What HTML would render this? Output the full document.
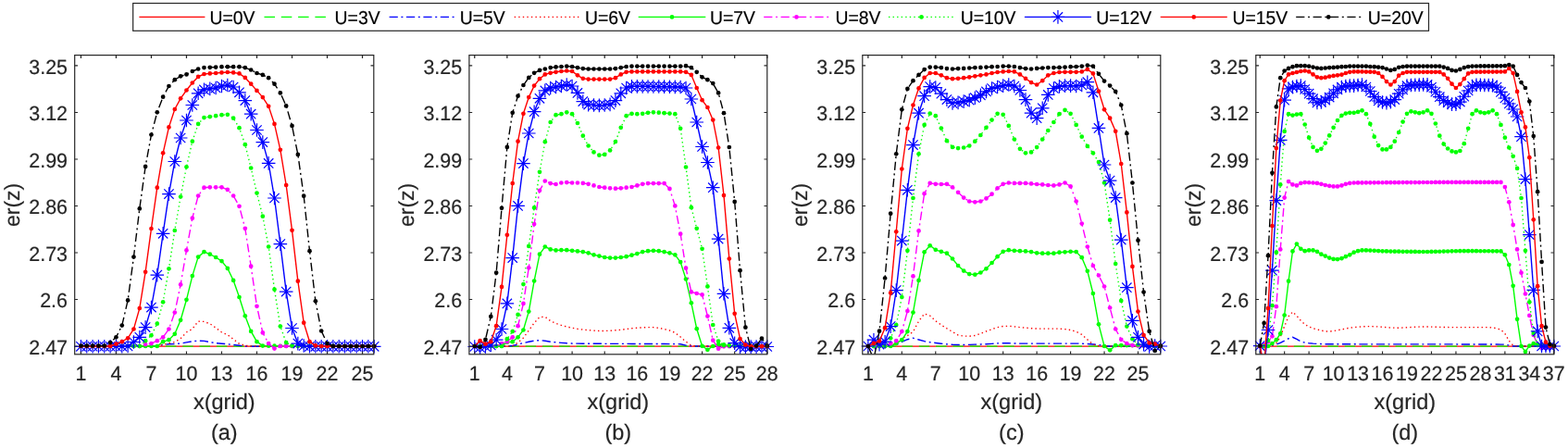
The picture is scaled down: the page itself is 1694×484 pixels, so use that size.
<!DOCTYPE html>
<html><head><meta charset="utf-8"><title>er(z) profiles</title>
<style>
html,body{margin:0;padding:0;background:#fff;}
body{width:1694px;height:484px;overflow:hidden;}
text{font-family:"Liberation Sans",Arial,sans-serif;text-rendering:geometricPrecision;}
.tl{font-size:22px;fill:#262626;stroke:#262626;stroke-width:0.2px;}
.lb{font-size:23.5px;fill:#262626;stroke:#262626;stroke-width:0.2px;}
.lg{font-size:20.1px;fill:#000;stroke:#000;stroke-width:0.2px;}
</style></head><body>
<svg width="1694" height="484" viewBox="0 0 1694 484" style="display:block">
<rect width="1694" height="484" fill="#fff"/>
<defs>
<clipPath id="clipa"><rect x="80.7" y="59.6" width="323.1" height="323.2"/></clipPath>
<clipPath id="clipb"><rect x="506.9" y="59.6" width="321.9" height="323.2"/></clipPath>
<clipPath id="clipc"><rect x="931.8" y="59.6" width="322" height="323.2"/></clipPath>
<clipPath id="clipd"><rect x="1356.8" y="59.6" width="322" height="323.2"/></clipPath>
</defs>
<g><path d="M87.44 374.1 L93.77 374.1 L100.11 374.1 L106.44 374.1 L112.78 374.1 L119.11 374.1 L125.45 374.1 L131.78 374.1 L138.12 374.1 L144.45 374.1 L150.79 374.1 L157.12 374.1 L163.46 374.1 L169.79 374.1 L176.13 374.1 L182.46 374.1 L188.8 374.1 L195.14 374.1 L201.47 374.1 L207.81 374.1 L214.14 374.1 L220.48 374.1 L226.81 374.1 L233.15 374.1 L239.48 374.1 L245.82 374.1 L252.15 374.1 L258.49 374.1 L264.82 374.1 L271.16 374.1 L277.49 374.1 L283.83 374.1 L290.16 374.1 L296.5 374.1 L302.84 374.1 L309.17 374.1 L315.51 374.1 L321.84 374.1 L328.18 374.1 L334.51 374.1 L340.85 374.1 L347.18 374.1 L353.52 374.1 L359.85 374.1 L366.19 374.1 L372.52 374.1 L378.86 374.1 L385.19 374.1 L391.53 374.1 L397.86 374.1 L404.2 374.1" fill="none" stroke="#ff0000" stroke-width="1.4" clip-path="url(#clipa)"/></g>
<g><path d="M87.44 374.1 L93.77 374.1 L100.11 374.1 L106.44 374.1 L112.78 374.1 L119.11 374.1 L125.45 374.1 L131.78 374.1 L138.12 374.1 L144.45 374.1 L150.79 374.1 L157.12 374.1 L163.46 374.1 L169.79 374.1 L176.13 374.1 L182.46 374.1 L188.8 374.1 L195.14 374.1 L201.47 374.1 L207.81 374.1 L214.14 374.1 L220.48 374.1 L226.81 374.1 L233.15 374.1 L239.48 374.1 L245.82 374.1 L252.15 374.1 L258.49 374.1 L264.82 374.1 L271.16 374.1 L277.49 374.1 L283.83 374.1 L290.16 374.1 L296.5 374.1 L302.84 374.1 L309.17 374.1 L315.51 374.1 L321.84 374.1 L328.18 374.1 L334.51 374.1 L340.85 374.1 L347.18 374.1 L353.52 374.1 L359.85 374.1 L366.19 374.1 L372.52 374.1 L378.86 374.1 L385.19 374.1 L391.53 374.1 L397.86 374.1 L404.2 374.1" fill="none" stroke="#00ff00" stroke-width="1.4" stroke-dasharray="11.5 6.8" clip-path="url(#clipa)"/></g>
<g><path d="M87.44 374 L93.77 374 L100.11 373.99 L106.44 373.99 L112.78 373.97 L119.11 373.95 L125.45 373.93 L131.78 373.89 L138.12 373.85 L144.45 373.8 L150.79 373.74 L157.12 373.67 L163.46 373.59 L169.79 373.5 L176.13 372.37 L182.46 371.79 L188.8 371.57 L195.14 371.05 L201.47 369.92 L207.81 368.77 L214.14 368.19 L220.48 368.4 L226.81 369.62 L233.15 370.7 L239.48 371.23 L245.82 371.81 L252.15 372.48 L258.49 373.2 L264.82 374 L271.16 374.27 L277.49 374.27 L283.83 374.2 L290.16 374.18 L296.5 374.16 L302.84 374.14 L309.17 374.12 L315.51 374.1 L321.84 374.09 L328.18 374.08 L334.51 374.06 L340.85 374.05 L347.18 374.04 L353.52 374.03 L359.85 374.02 L366.19 374.02 L372.52 374.01 L378.86 374.01 L385.19 374 L391.53 374 L397.86 374 L404.2 374" fill="none" stroke="#0000ff" stroke-width="1.4" stroke-dasharray="9.2 3.6 2 3.6" clip-path="url(#clipa)"/></g>
<g><path d="M87.44 374 L93.77 374 L100.11 374 L106.44 374 L112.78 373.99 L119.11 373.99 L125.45 373.98 L131.78 373.97 L138.12 373.95 L144.45 373.93 L150.79 373.91 L157.12 373.88 L163.46 373.85 L169.79 373.81 L176.13 372.39 L182.46 370.72 L188.8 369.6 L195.14 365.7 L201.47 359 L207.81 355.4 L214.14 347.1 L220.48 347.4 L226.81 349.8 L233.15 354.1 L239.48 359 L245.82 361.7 L252.15 366.5 L258.49 371.4 L264.82 373.2 L271.16 374 L277.49 374 L283.83 374 L290.16 374 L296.5 374 L302.84 374 L309.17 374 L315.51 374 L321.84 374 L328.18 374 L334.51 374 L340.85 374 L347.18 374 L353.52 374 L359.85 374 L366.19 374 L372.52 374 L378.86 374 L385.19 374 L391.53 374 L397.86 374 L404.2 374" fill="none" stroke="#ff0000" stroke-width="1.4" stroke-dasharray="1.4 3.15" clip-path="url(#clipa)"/></g>
<g><path d="M87.44 374 L93.77 374 L100.11 374 L106.44 374 L112.78 374 L119.11 374 L125.45 374 L131.78 374 L138.12 374 L144.45 374 L150.79 374 L157.12 374 L163.46 374 L169.79 374 L176.13 369.2 L182.46 367.2 L188.8 360.8 L195.14 345.8 L201.47 323.8 L207.81 298.1 L214.14 277.6 L220.48 272.1 L226.81 274.7 L233.15 278 L239.48 282.1 L245.82 289.9 L252.15 302.9 L258.49 321 L264.82 341.3 L271.16 357.9 L277.49 369.2 L283.83 373.6 L290.16 373.66 L296.5 373.71 L302.84 373.75 L309.17 373.79 L315.51 373.83 L321.84 373.86 L328.18 373.89 L334.51 373.91 L340.85 373.93 L347.18 373.95 L353.52 373.96 L359.85 373.97 L366.19 373.98 L372.52 373.99 L378.86 373.99 L385.19 374 L391.53 374 L397.86 374 L404.2 374" fill="none" stroke="#00ff00" stroke-width="1.4" clip-path="url(#clipa)"/><circle cx="87.44" cy="374" r="2.35" fill="#00ff00"/><circle cx="93.77" cy="374" r="2.35" fill="#00ff00"/><circle cx="100.11" cy="374" r="2.35" fill="#00ff00"/><circle cx="106.44" cy="374" r="2.35" fill="#00ff00"/><circle cx="112.78" cy="374" r="2.35" fill="#00ff00"/><circle cx="119.11" cy="374" r="2.35" fill="#00ff00"/><circle cx="125.45" cy="374" r="2.35" fill="#00ff00"/><circle cx="131.78" cy="374" r="2.35" fill="#00ff00"/><circle cx="138.12" cy="374" r="2.35" fill="#00ff00"/><circle cx="144.45" cy="374" r="2.35" fill="#00ff00"/><circle cx="150.79" cy="374" r="2.35" fill="#00ff00"/><circle cx="157.12" cy="374" r="2.35" fill="#00ff00"/><circle cx="163.46" cy="374" r="2.35" fill="#00ff00"/><circle cx="169.79" cy="374" r="2.35" fill="#00ff00"/><circle cx="176.13" cy="369.2" r="2.35" fill="#00ff00"/><circle cx="182.46" cy="367.2" r="2.35" fill="#00ff00"/><circle cx="188.8" cy="360.8" r="2.35" fill="#00ff00"/><circle cx="195.14" cy="345.8" r="2.35" fill="#00ff00"/><circle cx="201.47" cy="323.8" r="2.35" fill="#00ff00"/><circle cx="207.81" cy="298.1" r="2.35" fill="#00ff00"/><circle cx="214.14" cy="277.6" r="2.35" fill="#00ff00"/><circle cx="220.48" cy="272.1" r="2.35" fill="#00ff00"/><circle cx="226.81" cy="274.7" r="2.35" fill="#00ff00"/><circle cx="233.15" cy="278" r="2.35" fill="#00ff00"/><circle cx="239.48" cy="282.1" r="2.35" fill="#00ff00"/><circle cx="245.82" cy="289.9" r="2.35" fill="#00ff00"/><circle cx="252.15" cy="302.9" r="2.35" fill="#00ff00"/><circle cx="258.49" cy="321" r="2.35" fill="#00ff00"/><circle cx="264.82" cy="341.3" r="2.35" fill="#00ff00"/><circle cx="271.16" cy="357.9" r="2.35" fill="#00ff00"/><circle cx="277.49" cy="369.2" r="2.35" fill="#00ff00"/><circle cx="283.83" cy="373.6" r="2.35" fill="#00ff00"/><circle cx="290.16" cy="373.66" r="2.35" fill="#00ff00"/><circle cx="296.5" cy="373.71" r="2.35" fill="#00ff00"/><circle cx="302.84" cy="373.75" r="2.35" fill="#00ff00"/><circle cx="309.17" cy="373.79" r="2.35" fill="#00ff00"/><circle cx="315.51" cy="373.83" r="2.35" fill="#00ff00"/><circle cx="321.84" cy="373.86" r="2.35" fill="#00ff00"/><circle cx="328.18" cy="373.89" r="2.35" fill="#00ff00"/><circle cx="334.51" cy="373.91" r="2.35" fill="#00ff00"/><circle cx="340.85" cy="373.93" r="2.35" fill="#00ff00"/><circle cx="347.18" cy="373.95" r="2.35" fill="#00ff00"/><circle cx="353.52" cy="373.96" r="2.35" fill="#00ff00"/><circle cx="359.85" cy="373.97" r="2.35" fill="#00ff00"/><circle cx="366.19" cy="373.98" r="2.35" fill="#00ff00"/><circle cx="372.52" cy="373.99" r="2.35" fill="#00ff00"/><circle cx="378.86" cy="373.99" r="2.35" fill="#00ff00"/><circle cx="385.19" cy="374" r="2.35" fill="#00ff00"/><circle cx="391.53" cy="374" r="2.35" fill="#00ff00"/><circle cx="397.86" cy="374" r="2.35" fill="#00ff00"/><circle cx="404.2" cy="374" r="2.35" fill="#00ff00"/></g>
<g><path d="M87.44 374 L93.77 374 L100.11 374 L106.44 374 L112.78 374 L119.11 374 L125.45 374 L131.78 374 L138.12 374 L144.45 374 L150.79 374 L157.12 372.1 L163.46 371.1 L169.79 368.2 L176.13 364.3 L182.46 355.5 L188.8 337.6 L195.14 307.4 L201.47 270.4 L207.81 235.7 L214.14 211.5 L220.48 202.7 L226.81 202.3 L233.15 202.3 L239.48 202.3 L245.82 204.9 L252.15 211.5 L258.49 222.8 L264.82 246.8 L271.16 287.7 L277.49 330.8 L283.83 359.4 L290.16 371.1 L296.5 376.6 L302.84 374 L309.17 374 L315.51 374 L321.84 374 L328.18 374 L334.51 374 L340.85 374 L347.18 374 L353.52 374 L359.85 374 L366.19 374 L372.52 374 L378.86 374 L385.19 374 L391.53 374 L397.86 374 L404.2 374" fill="none" stroke="#ff00ff" stroke-width="1.4" stroke-dasharray="9.2 3.6 2 3.6" clip-path="url(#clipa)"/><circle cx="87.44" cy="374" r="2.35" fill="#ff00ff"/><circle cx="93.77" cy="374" r="2.35" fill="#ff00ff"/><circle cx="100.11" cy="374" r="2.35" fill="#ff00ff"/><circle cx="106.44" cy="374" r="2.35" fill="#ff00ff"/><circle cx="112.78" cy="374" r="2.35" fill="#ff00ff"/><circle cx="119.11" cy="374" r="2.35" fill="#ff00ff"/><circle cx="125.45" cy="374" r="2.35" fill="#ff00ff"/><circle cx="131.78" cy="374" r="2.35" fill="#ff00ff"/><circle cx="138.12" cy="374" r="2.35" fill="#ff00ff"/><circle cx="144.45" cy="374" r="2.35" fill="#ff00ff"/><circle cx="150.79" cy="374" r="2.35" fill="#ff00ff"/><circle cx="157.12" cy="372.1" r="2.35" fill="#ff00ff"/><circle cx="163.46" cy="371.1" r="2.35" fill="#ff00ff"/><circle cx="169.79" cy="368.2" r="2.35" fill="#ff00ff"/><circle cx="176.13" cy="364.3" r="2.35" fill="#ff00ff"/><circle cx="182.46" cy="355.5" r="2.35" fill="#ff00ff"/><circle cx="188.8" cy="337.6" r="2.35" fill="#ff00ff"/><circle cx="195.14" cy="307.4" r="2.35" fill="#ff00ff"/><circle cx="201.47" cy="270.4" r="2.35" fill="#ff00ff"/><circle cx="207.81" cy="235.7" r="2.35" fill="#ff00ff"/><circle cx="214.14" cy="211.5" r="2.35" fill="#ff00ff"/><circle cx="220.48" cy="202.7" r="2.35" fill="#ff00ff"/><circle cx="226.81" cy="202.3" r="2.35" fill="#ff00ff"/><circle cx="233.15" cy="202.3" r="2.35" fill="#ff00ff"/><circle cx="239.48" cy="202.3" r="2.35" fill="#ff00ff"/><circle cx="245.82" cy="204.9" r="2.35" fill="#ff00ff"/><circle cx="252.15" cy="211.5" r="2.35" fill="#ff00ff"/><circle cx="258.49" cy="222.8" r="2.35" fill="#ff00ff"/><circle cx="264.82" cy="246.8" r="2.35" fill="#ff00ff"/><circle cx="271.16" cy="287.7" r="2.35" fill="#ff00ff"/><circle cx="277.49" cy="330.8" r="2.35" fill="#ff00ff"/><circle cx="283.83" cy="359.4" r="2.35" fill="#ff00ff"/><circle cx="290.16" cy="371.1" r="2.35" fill="#ff00ff"/><circle cx="296.5" cy="376.6" r="2.35" fill="#ff00ff"/><circle cx="302.84" cy="374" r="2.35" fill="#ff00ff"/><circle cx="309.17" cy="374" r="2.35" fill="#ff00ff"/><circle cx="315.51" cy="374" r="2.35" fill="#ff00ff"/><circle cx="321.84" cy="374" r="2.35" fill="#ff00ff"/><circle cx="328.18" cy="374" r="2.35" fill="#ff00ff"/><circle cx="334.51" cy="374" r="2.35" fill="#ff00ff"/><circle cx="340.85" cy="374" r="2.35" fill="#ff00ff"/><circle cx="347.18" cy="374" r="2.35" fill="#ff00ff"/><circle cx="353.52" cy="374" r="2.35" fill="#ff00ff"/><circle cx="359.85" cy="374" r="2.35" fill="#ff00ff"/><circle cx="366.19" cy="374" r="2.35" fill="#ff00ff"/><circle cx="372.52" cy="374" r="2.35" fill="#ff00ff"/><circle cx="378.86" cy="374" r="2.35" fill="#ff00ff"/><circle cx="385.19" cy="374" r="2.35" fill="#ff00ff"/><circle cx="391.53" cy="374" r="2.35" fill="#ff00ff"/><circle cx="397.86" cy="374" r="2.35" fill="#ff00ff"/><circle cx="404.2" cy="374" r="2.35" fill="#ff00ff"/></g>
<g><path d="M87.44 374 L93.77 374 L100.11 374 L106.44 374 L112.78 374 L119.11 374 L125.45 374 L131.78 374 L138.12 374 L144.45 374 L150.79 374 L157.12 368.2 L163.46 362.3 L169.79 349.7 L176.13 326.3 L182.46 290.3 L188.8 249 L195.14 212.5 L201.47 180.3 L207.81 152.7 L214.14 133.9 L220.48 127.1 L226.81 126.1 L233.15 125.2 L239.48 124.2 L245.82 123.8 L252.15 127.7 L258.49 138.2 L264.82 156.2 L271.16 181.5 L277.49 208.6 L283.83 233.7 L290.16 266.5 L296.5 312.7 L302.84 352.6 L309.17 370.1 L315.51 373.6 L321.84 373.67 L328.18 373.74 L334.51 373.79 L340.85 373.84 L347.18 373.88 L353.52 373.91 L359.85 373.94 L366.19 373.96 L372.52 373.97 L378.86 373.99 L385.19 373.99 L391.53 374 L397.86 374 L404.2 374" fill="none" stroke="#00ff00" stroke-width="1.4" stroke-dasharray="1.4 3.15" clip-path="url(#clipa)"/><circle cx="87.44" cy="374" r="2.35" fill="#00ff00"/><circle cx="93.77" cy="374" r="2.35" fill="#00ff00"/><circle cx="100.11" cy="374" r="2.35" fill="#00ff00"/><circle cx="106.44" cy="374" r="2.35" fill="#00ff00"/><circle cx="112.78" cy="374" r="2.35" fill="#00ff00"/><circle cx="119.11" cy="374" r="2.35" fill="#00ff00"/><circle cx="125.45" cy="374" r="2.35" fill="#00ff00"/><circle cx="131.78" cy="374" r="2.35" fill="#00ff00"/><circle cx="138.12" cy="374" r="2.35" fill="#00ff00"/><circle cx="144.45" cy="374" r="2.35" fill="#00ff00"/><circle cx="150.79" cy="374" r="2.35" fill="#00ff00"/><circle cx="157.12" cy="368.2" r="2.35" fill="#00ff00"/><circle cx="163.46" cy="362.3" r="2.35" fill="#00ff00"/><circle cx="169.79" cy="349.7" r="2.35" fill="#00ff00"/><circle cx="176.13" cy="326.3" r="2.35" fill="#00ff00"/><circle cx="182.46" cy="290.3" r="2.35" fill="#00ff00"/><circle cx="188.8" cy="249" r="2.35" fill="#00ff00"/><circle cx="195.14" cy="212.5" r="2.35" fill="#00ff00"/><circle cx="201.47" cy="180.3" r="2.35" fill="#00ff00"/><circle cx="207.81" cy="152.7" r="2.35" fill="#00ff00"/><circle cx="214.14" cy="133.9" r="2.35" fill="#00ff00"/><circle cx="220.48" cy="127.1" r="2.35" fill="#00ff00"/><circle cx="226.81" cy="126.1" r="2.35" fill="#00ff00"/><circle cx="233.15" cy="125.2" r="2.35" fill="#00ff00"/><circle cx="239.48" cy="124.2" r="2.35" fill="#00ff00"/><circle cx="245.82" cy="123.8" r="2.35" fill="#00ff00"/><circle cx="252.15" cy="127.7" r="2.35" fill="#00ff00"/><circle cx="258.49" cy="138.2" r="2.35" fill="#00ff00"/><circle cx="264.82" cy="156.2" r="2.35" fill="#00ff00"/><circle cx="271.16" cy="181.5" r="2.35" fill="#00ff00"/><circle cx="277.49" cy="208.6" r="2.35" fill="#00ff00"/><circle cx="283.83" cy="233.7" r="2.35" fill="#00ff00"/><circle cx="290.16" cy="266.5" r="2.35" fill="#00ff00"/><circle cx="296.5" cy="312.7" r="2.35" fill="#00ff00"/><circle cx="302.84" cy="352.6" r="2.35" fill="#00ff00"/><circle cx="309.17" cy="370.1" r="2.35" fill="#00ff00"/><circle cx="315.51" cy="373.6" r="2.35" fill="#00ff00"/><circle cx="321.84" cy="373.67" r="2.35" fill="#00ff00"/><circle cx="328.18" cy="373.74" r="2.35" fill="#00ff00"/><circle cx="334.51" cy="373.79" r="2.35" fill="#00ff00"/><circle cx="340.85" cy="373.84" r="2.35" fill="#00ff00"/><circle cx="347.18" cy="373.88" r="2.35" fill="#00ff00"/><circle cx="353.52" cy="373.91" r="2.35" fill="#00ff00"/><circle cx="359.85" cy="373.94" r="2.35" fill="#00ff00"/><circle cx="366.19" cy="373.96" r="2.35" fill="#00ff00"/><circle cx="372.52" cy="373.97" r="2.35" fill="#00ff00"/><circle cx="378.86" cy="373.99" r="2.35" fill="#00ff00"/><circle cx="385.19" cy="373.99" r="2.35" fill="#00ff00"/><circle cx="391.53" cy="374" r="2.35" fill="#00ff00"/><circle cx="397.86" cy="374" r="2.35" fill="#00ff00"/><circle cx="404.2" cy="374" r="2.35" fill="#00ff00"/></g>
<g><path d="M87.44 374.3 L93.77 374.3 L100.11 374.29 L106.44 374.28 L112.78 374.25 L119.11 374.21 L125.45 374.16 L131.78 374.09 L138.12 374 L144.45 369.5 L150.79 364.3 L157.12 353.6 L163.46 332.1 L169.79 297.1 L176.13 252.3 L182.46 209.6 L188.8 174.5 L195.14 149 L201.47 130 L207.81 113.5 L214.14 100.8 L220.48 96.9 L226.81 95.9 L233.15 95 L239.48 93 L245.82 92 L252.15 94 L258.49 99.8 L264.82 108.6 L271.16 123.2 L277.49 140.5 L283.83 153.6 L290.16 176.4 L296.5 214 L302.84 263.6 L309.17 315.1 L315.51 354.5 L321.84 371.1 L328.18 373.5 L334.51 374.3 L340.85 374.3 L347.18 374.3 L353.52 374.3 L359.85 374.3 L366.19 374.3 L372.52 374.3 L378.86 374.3 L385.19 374.3 L391.53 374.3 L397.86 374.3 L404.2 374.3" fill="none" stroke="#0000ff" stroke-width="1.4" clip-path="url(#clipa)"/><path d="M80.14 374.3H94.74M87.44 367V381.6M82.27 369.14L92.6 379.46M82.27 379.46L92.6 369.14" stroke="#0000ff" stroke-width="1.2" fill="none"/><path d="M86.47 374.3H101.07M93.77 367V381.6M88.61 369.14L98.93 379.46M88.61 379.46L98.93 369.14" stroke="#0000ff" stroke-width="1.2" fill="none"/><path d="M92.81 374.29H107.41M100.11 366.99V381.59M94.94 369.13L105.27 379.45M94.94 379.45L105.27 369.13" stroke="#0000ff" stroke-width="1.2" fill="none"/><path d="M99.14 374.28H113.74M106.44 366.98V381.58M101.28 369.11L111.6 379.44M101.28 379.44L111.6 369.11" stroke="#0000ff" stroke-width="1.2" fill="none"/><path d="M105.48 374.25H120.08M112.78 366.95V381.55M107.61 369.09L117.94 379.41M107.61 379.41L117.94 369.09" stroke="#0000ff" stroke-width="1.2" fill="none"/><path d="M111.81 374.21H126.41M119.11 366.91V381.51M113.95 369.05L124.27 379.37M113.95 379.37L124.27 369.05" stroke="#0000ff" stroke-width="1.2" fill="none"/><path d="M118.15 374.16H132.75M125.45 366.86V381.46M120.29 369L130.61 379.32M120.29 379.32L130.61 369" stroke="#0000ff" stroke-width="1.2" fill="none"/><path d="M124.48 374.09H139.08M131.78 366.79V381.39M126.62 368.93L136.94 379.25M126.62 379.25L136.94 368.93" stroke="#0000ff" stroke-width="1.2" fill="none"/><path d="M130.82 374H145.42M138.12 366.7V381.3M132.96 368.84L143.28 379.16M132.96 379.16L143.28 368.84" stroke="#0000ff" stroke-width="1.2" fill="none"/><path d="M137.15 369.5H151.75M144.45 362.2V376.8M139.29 364.34L149.61 374.66M139.29 374.66L149.61 364.34" stroke="#0000ff" stroke-width="1.2" fill="none"/><path d="M143.49 364.3H158.09M150.79 357V371.6M145.63 359.14L155.95 369.46M145.63 369.46L155.95 359.14" stroke="#0000ff" stroke-width="1.2" fill="none"/><path d="M149.82 353.6H164.42M157.12 346.3V360.9M151.96 348.44L162.29 358.76M151.96 358.76L162.29 348.44" stroke="#0000ff" stroke-width="1.2" fill="none"/><path d="M156.16 332.1H170.76M163.46 324.8V339.4M158.3 326.94L168.62 337.26M158.3 337.26L168.62 326.94" stroke="#0000ff" stroke-width="1.2" fill="none"/><path d="M162.49 297.1H177.09M169.79 289.8V304.4M164.63 291.94L174.96 302.26M164.63 302.26L174.96 291.94" stroke="#0000ff" stroke-width="1.2" fill="none"/><path d="M168.83 252.3H183.43M176.13 245V259.6M170.97 247.14L181.29 257.46M170.97 257.46L181.29 247.14" stroke="#0000ff" stroke-width="1.2" fill="none"/><path d="M175.16 209.6H189.76M182.46 202.3V216.9M177.3 204.44L187.63 214.76M177.3 214.76L187.63 204.44" stroke="#0000ff" stroke-width="1.2" fill="none"/><path d="M181.5 174.5H196.1M188.8 167.2V181.8M183.64 169.34L193.96 179.66M183.64 179.66L193.96 169.34" stroke="#0000ff" stroke-width="1.2" fill="none"/><path d="M187.84 149H202.44M195.14 141.7V156.3M189.97 143.84L200.3 154.16M189.97 154.16L200.3 143.84" stroke="#0000ff" stroke-width="1.2" fill="none"/><path d="M194.17 130H208.77M201.47 122.7V137.3M196.31 124.84L206.63 135.16M196.31 135.16L206.63 124.84" stroke="#0000ff" stroke-width="1.2" fill="none"/><path d="M200.51 113.5H215.11M207.81 106.2V120.8M202.64 108.34L212.97 118.66M202.64 118.66L212.97 108.34" stroke="#0000ff" stroke-width="1.2" fill="none"/><path d="M206.84 100.8H221.44M214.14 93.5V108.1M208.98 95.64L219.3 105.96M208.98 105.96L219.3 95.64" stroke="#0000ff" stroke-width="1.2" fill="none"/><path d="M213.18 96.9H227.78M220.48 89.6V104.2M215.31 91.74L225.64 102.06M215.31 102.06L225.64 91.74" stroke="#0000ff" stroke-width="1.2" fill="none"/><path d="M219.51 95.9H234.11M226.81 88.6V103.2M221.65 90.74L231.97 101.06M221.65 101.06L231.97 90.74" stroke="#0000ff" stroke-width="1.2" fill="none"/><path d="M225.85 95H240.45M233.15 87.7V102.3M227.99 89.84L238.31 100.16M227.99 100.16L238.31 89.84" stroke="#0000ff" stroke-width="1.2" fill="none"/><path d="M232.18 93H246.78M239.48 85.7V100.3M234.32 87.84L244.64 98.16M234.32 98.16L244.64 87.84" stroke="#0000ff" stroke-width="1.2" fill="none"/><path d="M238.52 92H253.12M245.82 84.7V99.3M240.66 86.84L250.98 97.16M240.66 97.16L250.98 86.84" stroke="#0000ff" stroke-width="1.2" fill="none"/><path d="M244.85 94H259.45M252.15 86.7V101.3M246.99 88.84L257.31 99.16M246.99 99.16L257.31 88.84" stroke="#0000ff" stroke-width="1.2" fill="none"/><path d="M251.19 99.8H265.79M258.49 92.5V107.1M253.33 94.64L263.65 104.96M253.33 104.96L263.65 94.64" stroke="#0000ff" stroke-width="1.2" fill="none"/><path d="M257.52 108.6H272.12M264.82 101.3V115.9M259.66 103.44L269.99 113.76M259.66 113.76L269.99 103.44" stroke="#0000ff" stroke-width="1.2" fill="none"/><path d="M263.86 123.2H278.46M271.16 115.9V130.5M266 118.04L276.32 128.36M266 128.36L276.32 118.04" stroke="#0000ff" stroke-width="1.2" fill="none"/><path d="M270.19 140.5H284.79M277.49 133.2V147.8M272.33 135.34L282.66 145.66M272.33 145.66L282.66 135.34" stroke="#0000ff" stroke-width="1.2" fill="none"/><path d="M276.53 153.6H291.13M283.83 146.3V160.9M278.67 148.44L288.99 158.76M278.67 158.76L288.99 148.44" stroke="#0000ff" stroke-width="1.2" fill="none"/><path d="M282.86 176.4H297.46M290.16 169.1V183.7M285 171.24L295.33 181.56M285 181.56L295.33 171.24" stroke="#0000ff" stroke-width="1.2" fill="none"/><path d="M289.2 214H303.8M296.5 206.7V221.3M291.34 208.84L301.66 219.16M291.34 219.16L301.66 208.84" stroke="#0000ff" stroke-width="1.2" fill="none"/><path d="M295.54 263.6H310.14M302.84 256.3V270.9M297.67 258.44L308 268.76M297.67 268.76L308 258.44" stroke="#0000ff" stroke-width="1.2" fill="none"/><path d="M301.87 315.1H316.47M309.17 307.8V322.4M304.01 309.94L314.33 320.26M304.01 320.26L314.33 309.94" stroke="#0000ff" stroke-width="1.2" fill="none"/><path d="M308.21 354.5H322.81M315.51 347.2V361.8M310.34 349.34L320.67 359.66M310.34 359.66L320.67 349.34" stroke="#0000ff" stroke-width="1.2" fill="none"/><path d="M314.54 371.1H329.14M321.84 363.8V378.4M316.68 365.94L327 376.26M316.68 376.26L327 365.94" stroke="#0000ff" stroke-width="1.2" fill="none"/><path d="M320.88 373.5H335.48M328.18 366.2V380.8M323.01 368.34L333.34 378.66M323.01 378.66L333.34 368.34" stroke="#0000ff" stroke-width="1.2" fill="none"/><path d="M327.21 374.3H341.81M334.51 367V381.6M329.35 369.14L339.67 379.46M329.35 379.46L339.67 369.14" stroke="#0000ff" stroke-width="1.2" fill="none"/><path d="M333.55 374.3H348.15M340.85 367V381.6M335.69 369.14L346.01 379.46M335.69 379.46L346.01 369.14" stroke="#0000ff" stroke-width="1.2" fill="none"/><path d="M339.88 374.3H354.48M347.18 367V381.6M342.02 369.14L352.34 379.46M342.02 379.46L352.34 369.14" stroke="#0000ff" stroke-width="1.2" fill="none"/><path d="M346.22 374.3H360.82M353.52 367V381.6M348.36 369.14L358.68 379.46M348.36 379.46L358.68 369.14" stroke="#0000ff" stroke-width="1.2" fill="none"/><path d="M352.55 374.3H367.15M359.85 367V381.6M354.69 369.14L365.01 379.46M354.69 379.46L365.01 369.14" stroke="#0000ff" stroke-width="1.2" fill="none"/><path d="M358.89 374.3H373.49M366.19 367V381.6M361.03 369.14L371.35 379.46M361.03 379.46L371.35 369.14" stroke="#0000ff" stroke-width="1.2" fill="none"/><path d="M365.22 374.3H379.82M372.52 367V381.6M367.36 369.14L377.69 379.46M367.36 379.46L377.69 369.14" stroke="#0000ff" stroke-width="1.2" fill="none"/><path d="M371.56 374.3H386.16M378.86 367V381.6M373.7 369.14L384.02 379.46M373.7 379.46L384.02 369.14" stroke="#0000ff" stroke-width="1.2" fill="none"/><path d="M377.89 374.3H392.49M385.19 367V381.6M380.03 369.14L390.36 379.46M380.03 379.46L390.36 369.14" stroke="#0000ff" stroke-width="1.2" fill="none"/><path d="M384.23 374.3H398.83M391.53 367V381.6M386.37 369.14L396.69 379.46M386.37 379.46L396.69 369.14" stroke="#0000ff" stroke-width="1.2" fill="none"/><path d="M390.56 374.3H405.16M397.86 367V381.6M392.7 369.14L403.03 379.46M392.7 379.46L403.03 369.14" stroke="#0000ff" stroke-width="1.2" fill="none"/><path d="M396.9 374.3H411.5M404.2 367V381.6M399.04 369.14L409.36 379.46M399.04 379.46L409.36 369.14" stroke="#0000ff" stroke-width="1.2" fill="none"/></g>
<g><path d="M87.44 374 L93.77 374 L100.11 374 L106.44 374 L112.78 374 L119.11 374 L125.45 371.7 L131.78 369.2 L138.12 365.3 L144.45 355.5 L150.79 333.1 L157.12 293.8 L163.46 247 L169.79 202.7 L176.13 165.3 L182.46 137.4 L188.8 118 L195.14 106.3 L201.47 97.5 L207.81 89.5 L214.14 82.9 L220.48 80 L226.81 79.4 L233.15 79 L239.48 78.4 L245.82 78 L252.15 78.4 L258.49 79.4 L264.82 83.9 L271.16 90.7 L277.49 97.9 L283.83 105.1 L290.16 114.8 L296.5 133.9 L302.84 161.8 L309.17 200 L315.51 248.8 L321.84 303.7 L328.18 348.7 L334.51 369.2 L340.85 373.4 L347.18 374 L353.52 374 L359.85 374 L366.19 374 L372.52 374 L378.86 374 L385.19 374 L391.53 374 L397.86 374 L404.2 374" fill="none" stroke="#ff0000" stroke-width="1.4" clip-path="url(#clipa)"/><circle cx="87.44" cy="374" r="2.35" fill="#ff0000"/><circle cx="93.77" cy="374" r="2.35" fill="#ff0000"/><circle cx="100.11" cy="374" r="2.35" fill="#ff0000"/><circle cx="106.44" cy="374" r="2.35" fill="#ff0000"/><circle cx="112.78" cy="374" r="2.35" fill="#ff0000"/><circle cx="119.11" cy="374" r="2.35" fill="#ff0000"/><circle cx="125.45" cy="371.7" r="2.35" fill="#ff0000"/><circle cx="131.78" cy="369.2" r="2.35" fill="#ff0000"/><circle cx="138.12" cy="365.3" r="2.35" fill="#ff0000"/><circle cx="144.45" cy="355.5" r="2.35" fill="#ff0000"/><circle cx="150.79" cy="333.1" r="2.35" fill="#ff0000"/><circle cx="157.12" cy="293.8" r="2.35" fill="#ff0000"/><circle cx="163.46" cy="247" r="2.35" fill="#ff0000"/><circle cx="169.79" cy="202.7" r="2.35" fill="#ff0000"/><circle cx="176.13" cy="165.3" r="2.35" fill="#ff0000"/><circle cx="182.46" cy="137.4" r="2.35" fill="#ff0000"/><circle cx="188.8" cy="118" r="2.35" fill="#ff0000"/><circle cx="195.14" cy="106.3" r="2.35" fill="#ff0000"/><circle cx="201.47" cy="97.5" r="2.35" fill="#ff0000"/><circle cx="207.81" cy="89.5" r="2.35" fill="#ff0000"/><circle cx="214.14" cy="82.9" r="2.35" fill="#ff0000"/><circle cx="220.48" cy="80" r="2.35" fill="#ff0000"/><circle cx="226.81" cy="79.4" r="2.35" fill="#ff0000"/><circle cx="233.15" cy="79" r="2.35" fill="#ff0000"/><circle cx="239.48" cy="78.4" r="2.35" fill="#ff0000"/><circle cx="245.82" cy="78" r="2.35" fill="#ff0000"/><circle cx="252.15" cy="78.4" r="2.35" fill="#ff0000"/><circle cx="258.49" cy="79.4" r="2.35" fill="#ff0000"/><circle cx="264.82" cy="83.9" r="2.35" fill="#ff0000"/><circle cx="271.16" cy="90.7" r="2.35" fill="#ff0000"/><circle cx="277.49" cy="97.9" r="2.35" fill="#ff0000"/><circle cx="283.83" cy="105.1" r="2.35" fill="#ff0000"/><circle cx="290.16" cy="114.8" r="2.35" fill="#ff0000"/><circle cx="296.5" cy="133.9" r="2.35" fill="#ff0000"/><circle cx="302.84" cy="161.8" r="2.35" fill="#ff0000"/><circle cx="309.17" cy="200" r="2.35" fill="#ff0000"/><circle cx="315.51" cy="248.8" r="2.35" fill="#ff0000"/><circle cx="321.84" cy="303.7" r="2.35" fill="#ff0000"/><circle cx="328.18" cy="348.7" r="2.35" fill="#ff0000"/><circle cx="334.51" cy="369.2" r="2.35" fill="#ff0000"/><circle cx="340.85" cy="373.4" r="2.35" fill="#ff0000"/><circle cx="347.18" cy="374" r="2.35" fill="#ff0000"/><circle cx="353.52" cy="374" r="2.35" fill="#ff0000"/><circle cx="359.85" cy="374" r="2.35" fill="#ff0000"/><circle cx="366.19" cy="374" r="2.35" fill="#ff0000"/><circle cx="372.52" cy="374" r="2.35" fill="#ff0000"/><circle cx="378.86" cy="374" r="2.35" fill="#ff0000"/><circle cx="385.19" cy="374" r="2.35" fill="#ff0000"/><circle cx="391.53" cy="374" r="2.35" fill="#ff0000"/><circle cx="397.86" cy="374" r="2.35" fill="#ff0000"/><circle cx="404.2" cy="374" r="2.35" fill="#ff0000"/></g>
<g><path d="M87.44 373.6 L93.77 373.6 L100.11 373.6 L106.44 373.6 L112.78 373.6 L119.11 370.1 L125.45 364.3 L131.78 351.6 L138.12 324.4 L144.45 277.6 L150.79 225.4 L157.12 179.9 L163.46 145.5 L169.79 121.3 L176.13 104.7 L182.46 93 L188.8 86.2 L195.14 82.3 L201.47 80.4 L207.81 77 L214.14 74.5 L220.48 73.1 L226.81 72.8 L233.15 72.6 L239.48 72.2 L245.82 72.2 L252.15 72.2 L258.49 72.2 L264.82 73.1 L271.16 75.5 L277.49 79 L283.83 80.9 L290.16 84.2 L296.5 90.7 L302.84 100.4 L309.17 114.4 L315.51 135.9 L321.84 166.9 L328.18 211.7 L334.51 271.2 L340.85 325.3 L347.18 357.5 L353.52 371.1 L359.85 374 L366.19 374 L372.52 374 L378.86 374 L385.19 374 L391.53 374 L397.86 374 L404.2 374" fill="none" stroke="#000000" stroke-width="1.4" stroke-dasharray="9.2 3.6 2 3.6" clip-path="url(#clipa)"/><circle cx="87.44" cy="373.6" r="2.35" fill="#000000"/><circle cx="93.77" cy="373.6" r="2.35" fill="#000000"/><circle cx="100.11" cy="373.6" r="2.35" fill="#000000"/><circle cx="106.44" cy="373.6" r="2.35" fill="#000000"/><circle cx="112.78" cy="373.6" r="2.35" fill="#000000"/><circle cx="119.11" cy="370.1" r="2.35" fill="#000000"/><circle cx="125.45" cy="364.3" r="2.35" fill="#000000"/><circle cx="131.78" cy="351.6" r="2.35" fill="#000000"/><circle cx="138.12" cy="324.4" r="2.35" fill="#000000"/><circle cx="144.45" cy="277.6" r="2.35" fill="#000000"/><circle cx="150.79" cy="225.4" r="2.35" fill="#000000"/><circle cx="157.12" cy="179.9" r="2.35" fill="#000000"/><circle cx="163.46" cy="145.5" r="2.35" fill="#000000"/><circle cx="169.79" cy="121.3" r="2.35" fill="#000000"/><circle cx="176.13" cy="104.7" r="2.35" fill="#000000"/><circle cx="182.46" cy="93" r="2.35" fill="#000000"/><circle cx="188.8" cy="86.2" r="2.35" fill="#000000"/><circle cx="195.14" cy="82.3" r="2.35" fill="#000000"/><circle cx="201.47" cy="80.4" r="2.35" fill="#000000"/><circle cx="207.81" cy="77" r="2.35" fill="#000000"/><circle cx="214.14" cy="74.5" r="2.35" fill="#000000"/><circle cx="220.48" cy="73.1" r="2.35" fill="#000000"/><circle cx="226.81" cy="72.8" r="2.35" fill="#000000"/><circle cx="233.15" cy="72.6" r="2.35" fill="#000000"/><circle cx="239.48" cy="72.2" r="2.35" fill="#000000"/><circle cx="245.82" cy="72.2" r="2.35" fill="#000000"/><circle cx="252.15" cy="72.2" r="2.35" fill="#000000"/><circle cx="258.49" cy="72.2" r="2.35" fill="#000000"/><circle cx="264.82" cy="73.1" r="2.35" fill="#000000"/><circle cx="271.16" cy="75.5" r="2.35" fill="#000000"/><circle cx="277.49" cy="79" r="2.35" fill="#000000"/><circle cx="283.83" cy="80.9" r="2.35" fill="#000000"/><circle cx="290.16" cy="84.2" r="2.35" fill="#000000"/><circle cx="296.5" cy="90.7" r="2.35" fill="#000000"/><circle cx="302.84" cy="100.4" r="2.35" fill="#000000"/><circle cx="309.17" cy="114.4" r="2.35" fill="#000000"/><circle cx="315.51" cy="135.9" r="2.35" fill="#000000"/><circle cx="321.84" cy="166.9" r="2.35" fill="#000000"/><circle cx="328.18" cy="211.7" r="2.35" fill="#000000"/><circle cx="334.51" cy="271.2" r="2.35" fill="#000000"/><circle cx="340.85" cy="325.3" r="2.35" fill="#000000"/><circle cx="347.18" cy="357.5" r="2.35" fill="#000000"/><circle cx="353.52" cy="371.1" r="2.35" fill="#000000"/><circle cx="359.85" cy="374" r="2.35" fill="#000000"/><circle cx="366.19" cy="374" r="2.35" fill="#000000"/><circle cx="372.52" cy="374" r="2.35" fill="#000000"/><circle cx="378.86" cy="374" r="2.35" fill="#000000"/><circle cx="385.19" cy="374" r="2.35" fill="#000000"/><circle cx="391.53" cy="374" r="2.35" fill="#000000"/><circle cx="397.86" cy="374" r="2.35" fill="#000000"/><circle cx="404.2" cy="374" r="2.35" fill="#000000"/></g>
<rect x="80.7" y="59.6" width="323.1" height="323.2" fill="none" stroke="#262626" stroke-width="1.2"/>
<path d="M87.44 382.8V379.5M87.44 59.6V62.9M125.45 382.8V379.5M125.45 59.6V62.9M163.46 382.8V379.5M163.46 59.6V62.9M201.47 382.8V379.5M201.47 59.6V62.9M239.48 382.8V379.5M239.48 59.6V62.9M277.49 382.8V379.5M277.49 59.6V62.9M315.51 382.8V379.5M315.51 59.6V62.9M353.52 382.8V379.5M353.52 59.6V62.9M391.53 382.8V379.5M391.53 59.6V62.9M80.7 374H84M403.8 374H400.5M80.7 323.5H84M403.8 323.5H400.5M80.7 272.99H84M403.8 272.99H400.5M80.7 222.49H84M403.8 222.49H400.5M80.7 171.98H84M403.8 171.98H400.5M80.7 121.48H84M403.8 121.48H400.5M80.7 70.97H84M403.8 70.97H400.5" stroke="#262626" stroke-width="1.2" fill="none"/>
<text transform="translate(87.44 411) scale(0.975 1)" class="tl" text-anchor="middle">1</text>
<text transform="translate(125.45 411) scale(0.975 1)" class="tl" text-anchor="middle">4</text>
<text transform="translate(163.46 411) scale(0.975 1)" class="tl" text-anchor="middle">7</text>
<text transform="translate(201.47 411) scale(0.975 1)" class="tl" text-anchor="middle">10</text>
<text transform="translate(239.48 411) scale(0.975 1)" class="tl" text-anchor="middle">13</text>
<text transform="translate(277.49 411) scale(0.975 1)" class="tl" text-anchor="middle">16</text>
<text transform="translate(315.51 411) scale(0.975 1)" class="tl" text-anchor="middle">19</text>
<text transform="translate(353.52 411) scale(0.975 1)" class="tl" text-anchor="middle">22</text>
<text transform="translate(391.53 411) scale(0.975 1)" class="tl" text-anchor="middle">25</text>
<text transform="translate(73 382.7) scale(0.975 1)" class="tl" text-anchor="end">2.47</text>
<text transform="translate(73 332.2) scale(0.975 1)" class="tl" text-anchor="end">2.6</text>
<text transform="translate(73 281.69) scale(0.975 1)" class="tl" text-anchor="end">2.73</text>
<text transform="translate(73 231.19) scale(0.975 1)" class="tl" text-anchor="end">2.86</text>
<text transform="translate(73 180.68) scale(0.975 1)" class="tl" text-anchor="end">2.99</text>
<text transform="translate(73 130.18) scale(0.975 1)" class="tl" text-anchor="end">3.12</text>
<text transform="translate(73 79.67) scale(0.975 1)" class="tl" text-anchor="end">3.25</text>
<text x="242.25" y="442" class="lb" text-anchor="middle">x(grid)</text>
<text x="242.25" y="475" class="lb" text-anchor="middle">(a)</text>
<text transform="translate(20.6 221.4) rotate(-90)" class="lb" style="font-size:23px" text-anchor="middle">er(z)</text>
<g><path d="M512.75 374.1 L518.61 374.1 L524.46 374.1 L530.31 374.1 L536.16 374.1 L542.02 374.1 L547.87 374.1 L553.72 374.1 L559.57 374.1 L565.43 374.1 L571.28 374.1 L577.13 374.1 L582.99 374.1 L588.84 374.1 L594.69 374.1 L600.54 374.1 L606.4 374.1 L612.25 374.1 L618.1 374.1 L623.95 374.1 L629.81 374.1 L635.66 374.1 L641.51 374.1 L647.37 374.1 L653.22 374.1 L659.07 374.1 L664.92 374.1 L670.78 374.1 L676.63 374.1 L682.48 374.1 L688.33 374.1 L694.19 374.1 L700.04 374.1 L705.89 374.1 L711.75 374.1 L717.6 374.1 L723.45 374.1 L729.3 374.1 L735.16 374.1 L741.01 374.1 L746.86 374.1 L752.71 374.1 L758.57 374.1 L764.42 374.1 L770.27 374.1 L776.13 374.1 L781.98 374.1 L787.83 374.1 L793.68 374.1 L799.54 374.1 L805.39 374.1 L811.24 374.1 L817.09 374.1 L822.95 374.1 L828.8 374.1" fill="none" stroke="#ff0000" stroke-width="1.4" clip-path="url(#clipb)"/></g>
<g><path d="M512.75 374.1 L518.61 374.1 L524.46 374.1 L530.31 374.1 L536.16 374.1 L542.02 374.1 L547.87 374.1 L553.72 374.1 L559.57 374.1 L565.43 374.1 L571.28 374.1 L577.13 374.1 L582.99 374.1 L588.84 374.1 L594.69 374.1 L600.54 374.1 L606.4 374.1 L612.25 374.1 L618.1 374.1 L623.95 374.1 L629.81 374.1 L635.66 374.1 L641.51 374.1 L647.37 374.1 L653.22 374.1 L659.07 374.1 L664.92 374.1 L670.78 374.1 L676.63 374.1 L682.48 374.1 L688.33 374.1 L694.19 374.1 L700.04 374.1 L705.89 374.1 L711.75 374.1 L717.6 374.1 L723.45 374.1 L729.3 374.1 L735.16 374.1 L741.01 374.1 L746.86 374.1 L752.71 374.1 L758.57 374.1 L764.42 374.1 L770.27 374.1 L776.13 374.1 L781.98 374.1 L787.83 374.1 L793.68 374.1 L799.54 374.1 L805.39 374.1 L811.24 374.1 L817.09 374.1 L822.95 374.1 L828.8 374.1" fill="none" stroke="#00ff00" stroke-width="1.4" stroke-dasharray="11.5 6.8" clip-path="url(#clipb)"/></g>
<g><path d="M512.75 374 L518.61 374 L524.46 374 L530.31 374 L536.16 374 L542.02 374 L547.87 374 L553.72 373.5 L559.57 372.14 L565.43 370.52 L571.28 369.26 L577.13 368.11 L582.99 367.6 L588.84 368.25 L594.69 369.2 L600.54 369.8 L606.4 370.35 L612.25 370.8 L618.1 371.07 L623.95 371.14 L629.81 371.2 L635.66 371.24 L641.51 371.28 L647.37 371.31 L653.22 371.33 L659.07 371.35 L664.92 371.37 L670.78 371.39 L676.63 371.41 L682.48 371.43 L688.33 371.45 L694.19 371.47 L700.04 371.5 L705.89 371.52 L711.75 371.54 L717.6 371.56 L723.45 371.59 L729.3 371.63 L735.16 371.7 L741.01 373.1 L746.86 373.85 L752.71 374 L758.57 374 L764.42 374 L770.27 374 L776.13 374 L781.98 374 L787.83 374 L793.68 374 L799.54 374 L805.39 374 L811.24 374 L817.09 374 L822.95 374 L828.8 374" fill="none" stroke="#0000ff" stroke-width="1.4" stroke-dasharray="9.2 3.6 2 3.6" clip-path="url(#clipb)"/></g>
<g><path d="M512.75 374 L518.61 374 L524.46 373.99 L530.31 373.98 L536.16 373.95 L542.02 373.92 L547.87 373.87 L553.72 373.8 L559.57 370.1 L565.43 365 L571.28 357 L577.13 349 L582.99 342.53 L588.84 342.28 L594.69 346.67 L600.54 349.37 L606.4 351.41 L612.25 353 L618.1 354.28 L623.95 355.35 L629.81 356.1 L635.66 356.66 L641.51 357.13 L647.37 357.44 L653.22 357.48 L659.07 357.22 L664.92 356.79 L670.78 356.3 L676.63 355.56 L682.48 354.76 L688.33 354.2 L694.19 353.88 L700.04 353.65 L705.89 353.67 L711.75 354.39 L717.6 355.5 L723.45 357.03 L729.3 359.4 L735.16 364.05 L741.01 369.15 L746.86 373.1 L752.71 374 L758.57 374 L764.42 374 L770.27 374 L776.13 374 L781.98 374 L787.83 374 L793.68 374 L799.54 374 L805.39 374 L811.24 374 L817.09 374 L822.95 374 L828.8 374" fill="none" stroke="#ff0000" stroke-width="1.4" stroke-dasharray="1.4 3.15" clip-path="url(#clipb)"/></g>
<g><path d="M512.75 374 L518.61 374 L524.46 374 L530.31 374 L536.16 374 L542.02 374 L547.87 369.7 L553.72 369.2 L559.57 364.3 L565.43 356.5 L571.28 336.6 L577.13 303.5 L582.99 274.7 L588.84 266.5 L594.69 269.4 L600.54 270.4 L606.4 270.2 L612.25 270.2 L618.1 270.8 L623.95 271.4 L629.81 272.1 L635.66 273.3 L641.51 275.3 L647.37 276.6 L653.22 278 L659.07 278.6 L664.92 278.6 L670.78 278 L676.63 277.2 L682.48 275.7 L688.33 274.1 L694.19 272.1 L700.04 271.2 L705.89 270.8 L711.75 271.2 L717.6 272.1 L723.45 273.3 L729.3 275.3 L735.16 283.1 L741.01 301.5 L746.86 327.3 L752.71 355.2 L758.57 373.8 L764.42 377.8 L770.27 374 L776.13 372.1 L781.98 372.4 L787.83 373.6 L793.68 373.73 L799.54 373.82 L805.39 373.9 L811.24 373.95 L817.09 373.98 L822.95 374 L828.8 374" fill="none" stroke="#00ff00" stroke-width="1.4" clip-path="url(#clipb)"/><circle cx="512.75" cy="374" r="2.35" fill="#00ff00"/><circle cx="518.61" cy="374" r="2.35" fill="#00ff00"/><circle cx="524.46" cy="374" r="2.35" fill="#00ff00"/><circle cx="530.31" cy="374" r="2.35" fill="#00ff00"/><circle cx="536.16" cy="374" r="2.35" fill="#00ff00"/><circle cx="542.02" cy="374" r="2.35" fill="#00ff00"/><circle cx="547.87" cy="369.7" r="2.35" fill="#00ff00"/><circle cx="553.72" cy="369.2" r="2.35" fill="#00ff00"/><circle cx="559.57" cy="364.3" r="2.35" fill="#00ff00"/><circle cx="565.43" cy="356.5" r="2.35" fill="#00ff00"/><circle cx="571.28" cy="336.6" r="2.35" fill="#00ff00"/><circle cx="577.13" cy="303.5" r="2.35" fill="#00ff00"/><circle cx="582.99" cy="274.7" r="2.35" fill="#00ff00"/><circle cx="588.84" cy="266.5" r="2.35" fill="#00ff00"/><circle cx="594.69" cy="269.4" r="2.35" fill="#00ff00"/><circle cx="600.54" cy="270.4" r="2.35" fill="#00ff00"/><circle cx="606.4" cy="270.2" r="2.35" fill="#00ff00"/><circle cx="612.25" cy="270.2" r="2.35" fill="#00ff00"/><circle cx="618.1" cy="270.8" r="2.35" fill="#00ff00"/><circle cx="623.95" cy="271.4" r="2.35" fill="#00ff00"/><circle cx="629.81" cy="272.1" r="2.35" fill="#00ff00"/><circle cx="635.66" cy="273.3" r="2.35" fill="#00ff00"/><circle cx="641.51" cy="275.3" r="2.35" fill="#00ff00"/><circle cx="647.37" cy="276.6" r="2.35" fill="#00ff00"/><circle cx="653.22" cy="278" r="2.35" fill="#00ff00"/><circle cx="659.07" cy="278.6" r="2.35" fill="#00ff00"/><circle cx="664.92" cy="278.6" r="2.35" fill="#00ff00"/><circle cx="670.78" cy="278" r="2.35" fill="#00ff00"/><circle cx="676.63" cy="277.2" r="2.35" fill="#00ff00"/><circle cx="682.48" cy="275.7" r="2.35" fill="#00ff00"/><circle cx="688.33" cy="274.1" r="2.35" fill="#00ff00"/><circle cx="694.19" cy="272.1" r="2.35" fill="#00ff00"/><circle cx="700.04" cy="271.2" r="2.35" fill="#00ff00"/><circle cx="705.89" cy="270.8" r="2.35" fill="#00ff00"/><circle cx="711.75" cy="271.2" r="2.35" fill="#00ff00"/><circle cx="717.6" cy="272.1" r="2.35" fill="#00ff00"/><circle cx="723.45" cy="273.3" r="2.35" fill="#00ff00"/><circle cx="729.3" cy="275.3" r="2.35" fill="#00ff00"/><circle cx="735.16" cy="283.1" r="2.35" fill="#00ff00"/><circle cx="741.01" cy="301.5" r="2.35" fill="#00ff00"/><circle cx="746.86" cy="327.3" r="2.35" fill="#00ff00"/><circle cx="752.71" cy="355.2" r="2.35" fill="#00ff00"/><circle cx="758.57" cy="373.8" r="2.35" fill="#00ff00"/><circle cx="764.42" cy="377.8" r="2.35" fill="#00ff00"/><circle cx="770.27" cy="374" r="2.35" fill="#00ff00"/><circle cx="776.13" cy="372.1" r="2.35" fill="#00ff00"/><circle cx="781.98" cy="372.4" r="2.35" fill="#00ff00"/><circle cx="787.83" cy="373.6" r="2.35" fill="#00ff00"/><circle cx="793.68" cy="373.73" r="2.35" fill="#00ff00"/><circle cx="799.54" cy="373.82" r="2.35" fill="#00ff00"/><circle cx="805.39" cy="373.9" r="2.35" fill="#00ff00"/><circle cx="811.24" cy="373.95" r="2.35" fill="#00ff00"/><circle cx="817.09" cy="373.98" r="2.35" fill="#00ff00"/><circle cx="822.95" cy="374" r="2.35" fill="#00ff00"/><circle cx="828.8" cy="374" r="2.35" fill="#00ff00"/></g>
<g><path d="M512.75 374 L518.61 374 L524.46 374 L530.31 374 L536.16 374 L542.02 371.1 L547.87 369.2 L553.72 364.3 L559.57 352.2 L565.43 327.9 L571.28 289.3 L577.13 242.1 L582.99 205.8 L588.84 195.5 L594.69 198.1 L600.54 199 L606.4 197.5 L612.25 197.1 L618.1 197.5 L623.95 197.5 L629.81 197.9 L635.66 198.8 L641.51 200.4 L647.37 202 L653.22 202.7 L659.07 203.3 L664.92 203.7 L670.78 203.3 L676.63 202.7 L682.48 202 L688.33 200.4 L694.19 198.8 L700.04 198.1 L705.89 198.1 L711.75 198.1 L717.6 198.1 L723.45 203.9 L729.3 222.4 L735.16 252.7 L741.01 289.7 L746.86 315.4 L752.71 317 L758.57 318.4 L764.42 341.6 L770.27 367.7 L776.13 376.7 L781.98 374.3 L787.83 374.21 L793.68 374.14 L799.54 374.09 L805.39 374.05 L811.24 374.03 L817.09 374.01 L822.95 374 L828.8 374" fill="none" stroke="#ff00ff" stroke-width="1.4" stroke-dasharray="9.2 3.6 2 3.6" clip-path="url(#clipb)"/><circle cx="512.75" cy="374" r="2.35" fill="#ff00ff"/><circle cx="518.61" cy="374" r="2.35" fill="#ff00ff"/><circle cx="524.46" cy="374" r="2.35" fill="#ff00ff"/><circle cx="530.31" cy="374" r="2.35" fill="#ff00ff"/><circle cx="536.16" cy="374" r="2.35" fill="#ff00ff"/><circle cx="542.02" cy="371.1" r="2.35" fill="#ff00ff"/><circle cx="547.87" cy="369.2" r="2.35" fill="#ff00ff"/><circle cx="553.72" cy="364.3" r="2.35" fill="#ff00ff"/><circle cx="559.57" cy="352.2" r="2.35" fill="#ff00ff"/><circle cx="565.43" cy="327.9" r="2.35" fill="#ff00ff"/><circle cx="571.28" cy="289.3" r="2.35" fill="#ff00ff"/><circle cx="577.13" cy="242.1" r="2.35" fill="#ff00ff"/><circle cx="582.99" cy="205.8" r="2.35" fill="#ff00ff"/><circle cx="588.84" cy="195.5" r="2.35" fill="#ff00ff"/><circle cx="594.69" cy="198.1" r="2.35" fill="#ff00ff"/><circle cx="600.54" cy="199" r="2.35" fill="#ff00ff"/><circle cx="606.4" cy="197.5" r="2.35" fill="#ff00ff"/><circle cx="612.25" cy="197.1" r="2.35" fill="#ff00ff"/><circle cx="618.1" cy="197.5" r="2.35" fill="#ff00ff"/><circle cx="623.95" cy="197.5" r="2.35" fill="#ff00ff"/><circle cx="629.81" cy="197.9" r="2.35" fill="#ff00ff"/><circle cx="635.66" cy="198.8" r="2.35" fill="#ff00ff"/><circle cx="641.51" cy="200.4" r="2.35" fill="#ff00ff"/><circle cx="647.37" cy="202" r="2.35" fill="#ff00ff"/><circle cx="653.22" cy="202.7" r="2.35" fill="#ff00ff"/><circle cx="659.07" cy="203.3" r="2.35" fill="#ff00ff"/><circle cx="664.92" cy="203.7" r="2.35" fill="#ff00ff"/><circle cx="670.78" cy="203.3" r="2.35" fill="#ff00ff"/><circle cx="676.63" cy="202.7" r="2.35" fill="#ff00ff"/><circle cx="682.48" cy="202" r="2.35" fill="#ff00ff"/><circle cx="688.33" cy="200.4" r="2.35" fill="#ff00ff"/><circle cx="694.19" cy="198.8" r="2.35" fill="#ff00ff"/><circle cx="700.04" cy="198.1" r="2.35" fill="#ff00ff"/><circle cx="705.89" cy="198.1" r="2.35" fill="#ff00ff"/><circle cx="711.75" cy="198.1" r="2.35" fill="#ff00ff"/><circle cx="717.6" cy="198.1" r="2.35" fill="#ff00ff"/><circle cx="723.45" cy="203.9" r="2.35" fill="#ff00ff"/><circle cx="729.3" cy="222.4" r="2.35" fill="#ff00ff"/><circle cx="735.16" cy="252.7" r="2.35" fill="#ff00ff"/><circle cx="741.01" cy="289.7" r="2.35" fill="#ff00ff"/><circle cx="746.86" cy="315.4" r="2.35" fill="#ff00ff"/><circle cx="752.71" cy="317" r="2.35" fill="#ff00ff"/><circle cx="758.57" cy="318.4" r="2.35" fill="#ff00ff"/><circle cx="764.42" cy="341.6" r="2.35" fill="#ff00ff"/><circle cx="770.27" cy="367.7" r="2.35" fill="#ff00ff"/><circle cx="776.13" cy="376.7" r="2.35" fill="#ff00ff"/><circle cx="781.98" cy="374.3" r="2.35" fill="#ff00ff"/><circle cx="787.83" cy="374.21" r="2.35" fill="#ff00ff"/><circle cx="793.68" cy="374.14" r="2.35" fill="#ff00ff"/><circle cx="799.54" cy="374.09" r="2.35" fill="#ff00ff"/><circle cx="805.39" cy="374.05" r="2.35" fill="#ff00ff"/><circle cx="811.24" cy="374.03" r="2.35" fill="#ff00ff"/><circle cx="817.09" cy="374.01" r="2.35" fill="#ff00ff"/><circle cx="822.95" cy="374" r="2.35" fill="#ff00ff"/><circle cx="828.8" cy="374" r="2.35" fill="#ff00ff"/></g>
<g><path d="M512.75 374 L518.61 374 L524.46 374 L530.31 374 L536.16 374 L542.02 374 L547.87 366.2 L553.72 358.1 L559.57 339.9 L565.43 307.1 L571.28 265.9 L577.13 224.4 L582.99 185.8 L588.84 153.2 L594.69 132 L600.54 124.2 L606.4 123.2 L612.25 121.3 L618.1 123.2 L623.95 133 L629.81 146.7 L635.66 157.5 L641.51 164.4 L647.37 167.7 L653.22 166.9 L659.07 162.4 L664.92 153.1 L670.78 137.8 L676.63 125.2 L682.48 122.8 L688.33 123.2 L694.19 122.8 L700.04 121.8 L705.89 121.3 L711.75 121.7 L717.6 122.2 L723.45 122.6 L729.3 123.2 L735.16 138.8 L741.01 180.5 L746.86 224.2 L752.71 246.8 L758.57 268.8 L764.42 309.4 L770.27 351 L776.13 368.6 L781.98 373.1 L787.83 373.36 L793.68 373.57 L799.54 373.73 L805.39 373.84 L811.24 373.92 L817.09 373.97 L822.95 373.99 L828.8 374" fill="none" stroke="#00ff00" stroke-width="1.4" stroke-dasharray="1.4 3.15" clip-path="url(#clipb)"/><circle cx="512.75" cy="374" r="2.35" fill="#00ff00"/><circle cx="518.61" cy="374" r="2.35" fill="#00ff00"/><circle cx="524.46" cy="374" r="2.35" fill="#00ff00"/><circle cx="530.31" cy="374" r="2.35" fill="#00ff00"/><circle cx="536.16" cy="374" r="2.35" fill="#00ff00"/><circle cx="542.02" cy="374" r="2.35" fill="#00ff00"/><circle cx="547.87" cy="366.2" r="2.35" fill="#00ff00"/><circle cx="553.72" cy="358.1" r="2.35" fill="#00ff00"/><circle cx="559.57" cy="339.9" r="2.35" fill="#00ff00"/><circle cx="565.43" cy="307.1" r="2.35" fill="#00ff00"/><circle cx="571.28" cy="265.9" r="2.35" fill="#00ff00"/><circle cx="577.13" cy="224.4" r="2.35" fill="#00ff00"/><circle cx="582.99" cy="185.8" r="2.35" fill="#00ff00"/><circle cx="588.84" cy="153.2" r="2.35" fill="#00ff00"/><circle cx="594.69" cy="132" r="2.35" fill="#00ff00"/><circle cx="600.54" cy="124.2" r="2.35" fill="#00ff00"/><circle cx="606.4" cy="123.2" r="2.35" fill="#00ff00"/><circle cx="612.25" cy="121.3" r="2.35" fill="#00ff00"/><circle cx="618.1" cy="123.2" r="2.35" fill="#00ff00"/><circle cx="623.95" cy="133" r="2.35" fill="#00ff00"/><circle cx="629.81" cy="146.7" r="2.35" fill="#00ff00"/><circle cx="635.66" cy="157.5" r="2.35" fill="#00ff00"/><circle cx="641.51" cy="164.4" r="2.35" fill="#00ff00"/><circle cx="647.37" cy="167.7" r="2.35" fill="#00ff00"/><circle cx="653.22" cy="166.9" r="2.35" fill="#00ff00"/><circle cx="659.07" cy="162.4" r="2.35" fill="#00ff00"/><circle cx="664.92" cy="153.1" r="2.35" fill="#00ff00"/><circle cx="670.78" cy="137.8" r="2.35" fill="#00ff00"/><circle cx="676.63" cy="125.2" r="2.35" fill="#00ff00"/><circle cx="682.48" cy="122.8" r="2.35" fill="#00ff00"/><circle cx="688.33" cy="123.2" r="2.35" fill="#00ff00"/><circle cx="694.19" cy="122.8" r="2.35" fill="#00ff00"/><circle cx="700.04" cy="121.8" r="2.35" fill="#00ff00"/><circle cx="705.89" cy="121.3" r="2.35" fill="#00ff00"/><circle cx="711.75" cy="121.7" r="2.35" fill="#00ff00"/><circle cx="717.6" cy="122.2" r="2.35" fill="#00ff00"/><circle cx="723.45" cy="122.6" r="2.35" fill="#00ff00"/><circle cx="729.3" cy="123.2" r="2.35" fill="#00ff00"/><circle cx="735.16" cy="138.8" r="2.35" fill="#00ff00"/><circle cx="741.01" cy="180.5" r="2.35" fill="#00ff00"/><circle cx="746.86" cy="224.2" r="2.35" fill="#00ff00"/><circle cx="752.71" cy="246.8" r="2.35" fill="#00ff00"/><circle cx="758.57" cy="268.8" r="2.35" fill="#00ff00"/><circle cx="764.42" cy="309.4" r="2.35" fill="#00ff00"/><circle cx="770.27" cy="351" r="2.35" fill="#00ff00"/><circle cx="776.13" cy="368.6" r="2.35" fill="#00ff00"/><circle cx="781.98" cy="373.1" r="2.35" fill="#00ff00"/><circle cx="787.83" cy="373.36" r="2.35" fill="#00ff00"/><circle cx="793.68" cy="373.57" r="2.35" fill="#00ff00"/><circle cx="799.54" cy="373.73" r="2.35" fill="#00ff00"/><circle cx="805.39" cy="373.84" r="2.35" fill="#00ff00"/><circle cx="811.24" cy="373.92" r="2.35" fill="#00ff00"/><circle cx="817.09" cy="373.97" r="2.35" fill="#00ff00"/><circle cx="822.95" cy="373.99" r="2.35" fill="#00ff00"/><circle cx="828.8" cy="374" r="2.35" fill="#00ff00"/></g>
<g><path d="M512.75 374.5 L518.61 375.5 L524.46 374.5 L530.31 373 L536.16 367.2 L542.02 355.5 L547.87 327.9 L553.72 278.6 L559.57 222.4 L565.43 176.6 L571.28 144 L577.13 120.7 L582.99 106.3 L588.84 97.9 L594.69 95 L600.54 94 L606.4 93 L612.25 91.5 L618.1 93 L623.95 100.4 L629.81 109.6 L635.66 113.1 L641.51 113.5 L647.37 113.9 L653.22 113.5 L659.07 112.9 L664.92 108.6 L670.78 100.8 L676.63 95 L682.48 93.4 L688.33 93.4 L694.19 93.42 L700.04 93.45 L705.89 93.49 L711.75 93.55 L717.6 93.63 L723.45 93.73 L729.3 93.85 L735.16 94 L741.01 95 L746.86 107 L752.71 132 L758.57 158.5 L764.42 175.5 L770.27 202.7 L776.13 258.1 L781.98 317.3 L787.83 354.3 L793.68 370.7 L799.54 374.6 L805.39 374.6 L811.24 374.59 L817.09 374.58 L822.95 374.55 L828.8 374.5" fill="none" stroke="#0000ff" stroke-width="1.4" clip-path="url(#clipb)"/><path d="M505.45 374.5H520.05M512.75 367.2V381.8M507.59 369.34L517.91 379.66M507.59 379.66L517.91 369.34" stroke="#0000ff" stroke-width="1.2" fill="none"/><path d="M511.31 375.5H525.91M518.61 368.2V382.8M513.44 370.34L523.77 380.66M513.44 380.66L523.77 370.34" stroke="#0000ff" stroke-width="1.2" fill="none"/><path d="M517.16 374.5H531.76M524.46 367.2V381.8M519.3 369.34L529.62 379.66M519.3 379.66L529.62 369.34" stroke="#0000ff" stroke-width="1.2" fill="none"/><path d="M523.01 373H537.61M530.31 365.7V380.3M525.15 367.84L535.47 378.16M525.15 378.16L535.47 367.84" stroke="#0000ff" stroke-width="1.2" fill="none"/><path d="M528.86 367.2H543.46M536.16 359.9V374.5M531 362.04L541.33 372.36M531 372.36L541.33 362.04" stroke="#0000ff" stroke-width="1.2" fill="none"/><path d="M534.72 355.5H549.32M542.02 348.2V362.8M536.85 350.34L547.18 360.66M536.85 360.66L547.18 350.34" stroke="#0000ff" stroke-width="1.2" fill="none"/><path d="M540.57 327.9H555.17M547.87 320.6V335.2M542.71 322.74L553.03 333.06M542.71 333.06L553.03 322.74" stroke="#0000ff" stroke-width="1.2" fill="none"/><path d="M546.42 278.6H561.02M553.72 271.3V285.9M548.56 273.44L558.88 283.76M548.56 283.76L558.88 273.44" stroke="#0000ff" stroke-width="1.2" fill="none"/><path d="M552.27 222.4H566.87M559.57 215.1V229.7M554.41 217.24L564.74 227.57M554.41 227.57L564.74 217.24" stroke="#0000ff" stroke-width="1.2" fill="none"/><path d="M558.13 176.6H572.73M565.43 169.3V183.9M560.27 171.44L570.59 181.76M560.27 181.76L570.59 171.44" stroke="#0000ff" stroke-width="1.2" fill="none"/><path d="M563.98 144H578.58M571.28 136.7V151.3M566.12 138.84L576.44 149.16M566.12 149.16L576.44 138.84" stroke="#0000ff" stroke-width="1.2" fill="none"/><path d="M569.83 120.7H584.43M577.13 113.4V128M571.97 115.54L582.29 125.86M571.97 125.86L582.29 115.54" stroke="#0000ff" stroke-width="1.2" fill="none"/><path d="M575.69 106.3H590.29M582.99 99V113.6M577.82 101.14L588.15 111.46M577.82 111.46L588.15 101.14" stroke="#0000ff" stroke-width="1.2" fill="none"/><path d="M581.54 97.9H596.14M588.84 90.6V105.2M583.68 92.74L594 103.06M583.68 103.06L594 92.74" stroke="#0000ff" stroke-width="1.2" fill="none"/><path d="M587.39 95H601.99M594.69 87.7V102.3M589.53 89.84L599.85 100.16M589.53 100.16L599.85 89.84" stroke="#0000ff" stroke-width="1.2" fill="none"/><path d="M593.24 94H607.84M600.54 86.7V101.3M595.38 88.84L605.71 99.16M595.38 99.16L605.71 88.84" stroke="#0000ff" stroke-width="1.2" fill="none"/><path d="M599.1 93H613.7M606.4 85.7V100.3M601.23 87.84L611.56 98.16M601.23 98.16L611.56 87.84" stroke="#0000ff" stroke-width="1.2" fill="none"/><path d="M604.95 91.5H619.55M612.25 84.2V98.8M607.09 86.34L617.41 96.66M607.09 96.66L617.41 86.34" stroke="#0000ff" stroke-width="1.2" fill="none"/><path d="M610.8 93H625.4M618.1 85.7V100.3M612.94 87.84L623.26 98.16M612.94 98.16L623.26 87.84" stroke="#0000ff" stroke-width="1.2" fill="none"/><path d="M616.65 100.4H631.25M623.95 93.1V107.7M618.79 95.24L629.12 105.56M618.79 105.56L629.12 95.24" stroke="#0000ff" stroke-width="1.2" fill="none"/><path d="M622.51 109.6H637.11M629.81 102.3V116.9M624.65 104.44L634.97 114.76M624.65 114.76L634.97 104.44" stroke="#0000ff" stroke-width="1.2" fill="none"/><path d="M628.36 113.1H642.96M635.66 105.8V120.4M630.5 107.94L640.82 118.26M630.5 118.26L640.82 107.94" stroke="#0000ff" stroke-width="1.2" fill="none"/><path d="M634.21 113.5H648.81M641.51 106.2V120.8M636.35 108.34L646.67 118.66M636.35 118.66L646.67 108.34" stroke="#0000ff" stroke-width="1.2" fill="none"/><path d="M640.07 113.9H654.67M647.37 106.6V121.2M642.2 108.74L652.53 119.06M642.2 119.06L652.53 108.74" stroke="#0000ff" stroke-width="1.2" fill="none"/><path d="M645.92 113.5H660.52M653.22 106.2V120.8M648.06 108.34L658.38 118.66M648.06 118.66L658.38 108.34" stroke="#0000ff" stroke-width="1.2" fill="none"/><path d="M651.77 112.9H666.37M659.07 105.6V120.2M653.91 107.74L664.23 118.06M653.91 118.06L664.23 107.74" stroke="#0000ff" stroke-width="1.2" fill="none"/><path d="M657.62 108.6H672.22M664.92 101.3V115.9M659.76 103.44L670.09 113.76M659.76 113.76L670.09 103.44" stroke="#0000ff" stroke-width="1.2" fill="none"/><path d="M663.48 100.8H678.08M670.78 93.5V108.1M665.61 95.64L675.94 105.96M665.61 105.96L675.94 95.64" stroke="#0000ff" stroke-width="1.2" fill="none"/><path d="M669.33 95H683.93M676.63 87.7V102.3M671.47 89.84L681.79 100.16M671.47 100.16L681.79 89.84" stroke="#0000ff" stroke-width="1.2" fill="none"/><path d="M675.18 93.4H689.78M682.48 86.1V100.7M677.32 88.24L687.64 98.56M677.32 98.56L687.64 88.24" stroke="#0000ff" stroke-width="1.2" fill="none"/><path d="M681.03 93.4H695.63M688.33 86.1V100.7M683.17 88.24L693.5 98.57M683.17 98.57L693.5 88.24" stroke="#0000ff" stroke-width="1.2" fill="none"/><path d="M686.89 93.42H701.49M694.19 86.12V100.72M689.03 88.26L699.35 98.58M689.03 98.58L699.35 88.26" stroke="#0000ff" stroke-width="1.2" fill="none"/><path d="M692.74 93.45H707.34M700.04 86.15V100.75M694.88 88.29L705.2 98.61M694.88 98.61L705.2 88.29" stroke="#0000ff" stroke-width="1.2" fill="none"/><path d="M698.59 93.49H713.19M705.89 86.19V100.79M700.73 88.33L711.05 98.65M700.73 98.65L711.05 88.33" stroke="#0000ff" stroke-width="1.2" fill="none"/><path d="M704.45 93.55H719.05M711.75 86.25V100.85M706.58 88.39L716.91 98.71M706.58 98.71L716.91 88.39" stroke="#0000ff" stroke-width="1.2" fill="none"/><path d="M710.3 93.63H724.9M717.6 86.33V100.93M712.44 88.47L722.76 98.79M712.44 98.79L722.76 88.47" stroke="#0000ff" stroke-width="1.2" fill="none"/><path d="M716.15 93.73H730.75M723.45 86.43V101.03M718.29 88.57L728.61 98.89M718.29 98.89L728.61 88.57" stroke="#0000ff" stroke-width="1.2" fill="none"/><path d="M722 93.85H736.6M729.3 86.55V101.15M724.14 88.69L734.47 99.01M724.14 99.01L734.47 88.69" stroke="#0000ff" stroke-width="1.2" fill="none"/><path d="M727.86 94H742.46M735.16 86.7V101.3M729.99 88.84L740.32 99.16M729.99 99.16L740.32 88.84" stroke="#0000ff" stroke-width="1.2" fill="none"/><path d="M733.71 95H748.31M741.01 87.7V102.3M735.85 89.84L746.17 100.16M735.85 100.16L746.17 89.84" stroke="#0000ff" stroke-width="1.2" fill="none"/><path d="M739.56 107H754.16M746.86 99.7V114.3M741.7 101.84L752.02 112.16M741.7 112.16L752.02 101.84" stroke="#0000ff" stroke-width="1.2" fill="none"/><path d="M745.41 132H760.01M752.71 124.7V139.3M747.55 126.84L757.88 137.16M747.55 137.16L757.88 126.84" stroke="#0000ff" stroke-width="1.2" fill="none"/><path d="M751.27 158.5H765.87M758.57 151.2V165.8M753.41 153.34L763.73 163.66M753.41 163.66L763.73 153.34" stroke="#0000ff" stroke-width="1.2" fill="none"/><path d="M757.12 175.5H771.72M764.42 168.2V182.8M759.26 170.34L769.58 180.66M759.26 180.66L769.58 170.34" stroke="#0000ff" stroke-width="1.2" fill="none"/><path d="M762.97 202.7H777.57M770.27 195.4V210M765.11 197.54L775.43 207.86M765.11 207.86L775.43 197.54" stroke="#0000ff" stroke-width="1.2" fill="none"/><path d="M768.83 258.1H783.43M776.13 250.8V265.4M770.96 252.94L781.29 263.27M770.96 263.27L781.29 252.94" stroke="#0000ff" stroke-width="1.2" fill="none"/><path d="M774.68 317.3H789.28M781.98 310V324.6M776.82 312.14L787.14 322.46M776.82 322.46L787.14 312.14" stroke="#0000ff" stroke-width="1.2" fill="none"/><path d="M780.53 354.3H795.13M787.83 347V361.6M782.67 349.14L792.99 359.46M782.67 359.46L792.99 349.14" stroke="#0000ff" stroke-width="1.2" fill="none"/><path d="M786.38 370.7H800.98M793.68 363.4V378M788.52 365.54L798.85 375.86M788.52 375.86L798.85 365.54" stroke="#0000ff" stroke-width="1.2" fill="none"/><path d="M792.24 374.6H806.84M799.54 367.3V381.9M794.37 369.44L804.7 379.76M794.37 379.76L804.7 369.44" stroke="#0000ff" stroke-width="1.2" fill="none"/><path d="M798.09 374.6H812.69M805.39 367.3V381.9M800.23 369.44L810.55 379.76M800.23 379.76L810.55 369.44" stroke="#0000ff" stroke-width="1.2" fill="none"/><path d="M803.94 374.59H818.54M811.24 367.29V381.89M806.08 369.43L816.4 379.76M806.08 379.76L816.4 369.43" stroke="#0000ff" stroke-width="1.2" fill="none"/><path d="M809.79 374.58H824.39M817.09 367.28V381.88M811.93 369.42L822.26 379.74M811.93 379.74L822.26 369.42" stroke="#0000ff" stroke-width="1.2" fill="none"/><path d="M815.65 374.55H830.25M822.95 367.25V381.85M817.79 369.39L828.11 379.71M817.79 379.71L828.11 369.39" stroke="#0000ff" stroke-width="1.2" fill="none"/><path d="M821.5 374.5H836.1M828.8 367.2V381.8M823.64 369.34L833.96 379.66M823.64 379.66L833.96 369.34" stroke="#0000ff" stroke-width="1.2" fill="none"/></g>
<g><path d="M512.75 374 L518.61 368.2 L524.46 371.7 L530.31 369.2 L536.16 352.2 L542.02 309.9 L547.87 253.8 L553.72 198.1 L559.57 152.7 L565.43 122.8 L571.28 105.1 L577.13 92.6 L582.99 85.2 L588.84 80.4 L594.69 78.8 L600.54 77.8 L606.4 77 L612.25 76.5 L618.1 77 L623.95 81.3 L629.81 84.8 L635.66 85.6 L641.51 85.6 L647.37 85.6 L653.22 85.6 L659.07 85.6 L664.92 84.2 L670.78 80.4 L676.63 77.8 L682.48 77.4 L688.33 77.4 L694.19 77.4 L700.04 77.4 L705.89 77.4 L711.75 77.4 L717.6 77.4 L723.45 77.4 L729.3 77.4 L735.16 77.4 L741.01 77.8 L746.86 80.9 L752.71 95 L758.57 108.2 L764.42 116 L770.27 129.6 L776.13 159.5 L781.98 211.1 L787.83 279.5 L793.68 338.8 L799.54 366 L805.39 372.6 L811.24 374.2 L817.09 374.19 L822.95 374.14 L828.8 374" fill="none" stroke="#ff0000" stroke-width="1.4" clip-path="url(#clipb)"/><circle cx="512.75" cy="374" r="2.35" fill="#ff0000"/><circle cx="518.61" cy="368.2" r="2.35" fill="#ff0000"/><circle cx="524.46" cy="371.7" r="2.35" fill="#ff0000"/><circle cx="530.31" cy="369.2" r="2.35" fill="#ff0000"/><circle cx="536.16" cy="352.2" r="2.35" fill="#ff0000"/><circle cx="542.02" cy="309.9" r="2.35" fill="#ff0000"/><circle cx="547.87" cy="253.8" r="2.35" fill="#ff0000"/><circle cx="553.72" cy="198.1" r="2.35" fill="#ff0000"/><circle cx="559.57" cy="152.7" r="2.35" fill="#ff0000"/><circle cx="565.43" cy="122.8" r="2.35" fill="#ff0000"/><circle cx="571.28" cy="105.1" r="2.35" fill="#ff0000"/><circle cx="577.13" cy="92.6" r="2.35" fill="#ff0000"/><circle cx="582.99" cy="85.2" r="2.35" fill="#ff0000"/><circle cx="588.84" cy="80.4" r="2.35" fill="#ff0000"/><circle cx="594.69" cy="78.8" r="2.35" fill="#ff0000"/><circle cx="600.54" cy="77.8" r="2.35" fill="#ff0000"/><circle cx="606.4" cy="77" r="2.35" fill="#ff0000"/><circle cx="612.25" cy="76.5" r="2.35" fill="#ff0000"/><circle cx="618.1" cy="77" r="2.35" fill="#ff0000"/><circle cx="623.95" cy="81.3" r="2.35" fill="#ff0000"/><circle cx="629.81" cy="84.8" r="2.35" fill="#ff0000"/><circle cx="635.66" cy="85.6" r="2.35" fill="#ff0000"/><circle cx="641.51" cy="85.6" r="2.35" fill="#ff0000"/><circle cx="647.37" cy="85.6" r="2.35" fill="#ff0000"/><circle cx="653.22" cy="85.6" r="2.35" fill="#ff0000"/><circle cx="659.07" cy="85.6" r="2.35" fill="#ff0000"/><circle cx="664.92" cy="84.2" r="2.35" fill="#ff0000"/><circle cx="670.78" cy="80.4" r="2.35" fill="#ff0000"/><circle cx="676.63" cy="77.8" r="2.35" fill="#ff0000"/><circle cx="682.48" cy="77.4" r="2.35" fill="#ff0000"/><circle cx="688.33" cy="77.4" r="2.35" fill="#ff0000"/><circle cx="694.19" cy="77.4" r="2.35" fill="#ff0000"/><circle cx="700.04" cy="77.4" r="2.35" fill="#ff0000"/><circle cx="705.89" cy="77.4" r="2.35" fill="#ff0000"/><circle cx="711.75" cy="77.4" r="2.35" fill="#ff0000"/><circle cx="717.6" cy="77.4" r="2.35" fill="#ff0000"/><circle cx="723.45" cy="77.4" r="2.35" fill="#ff0000"/><circle cx="729.3" cy="77.4" r="2.35" fill="#ff0000"/><circle cx="735.16" cy="77.4" r="2.35" fill="#ff0000"/><circle cx="741.01" cy="77.8" r="2.35" fill="#ff0000"/><circle cx="746.86" cy="80.9" r="2.35" fill="#ff0000"/><circle cx="752.71" cy="95" r="2.35" fill="#ff0000"/><circle cx="758.57" cy="108.2" r="2.35" fill="#ff0000"/><circle cx="764.42" cy="116" r="2.35" fill="#ff0000"/><circle cx="770.27" cy="129.6" r="2.35" fill="#ff0000"/><circle cx="776.13" cy="159.5" r="2.35" fill="#ff0000"/><circle cx="781.98" cy="211.1" r="2.35" fill="#ff0000"/><circle cx="787.83" cy="279.5" r="2.35" fill="#ff0000"/><circle cx="793.68" cy="338.8" r="2.35" fill="#ff0000"/><circle cx="799.54" cy="366" r="2.35" fill="#ff0000"/><circle cx="805.39" cy="372.6" r="2.35" fill="#ff0000"/><circle cx="811.24" cy="374.2" r="2.35" fill="#ff0000"/><circle cx="817.09" cy="374.19" r="2.35" fill="#ff0000"/><circle cx="822.95" cy="374.14" r="2.35" fill="#ff0000"/><circle cx="828.8" cy="374" r="2.35" fill="#ff0000"/></g>
<g><path d="M512.75 374 L518.61 375 L524.46 366.8 L530.31 341.9 L536.16 294.7 L542.02 224.8 L547.87 158.9 L553.72 121.8 L559.57 103.7 L565.43 92 L571.28 83.9 L577.13 78.8 L582.99 75.9 L588.84 74.5 L594.69 73.1 L600.54 72.4 L606.4 72 L612.25 71.6 L618.1 72 L623.95 73.1 L629.81 74.1 L635.66 74.5 L641.51 74.5 L647.37 74.5 L653.22 74.5 L659.07 74.5 L664.92 74.1 L670.78 73.1 L676.63 72 L682.48 71.6 L688.33 71.6 L694.19 71.6 L700.04 71.6 L705.89 71.6 L711.75 71.6 L717.6 71.6 L723.45 71.6 L729.3 71.6 L735.16 71.6 L741.01 71.2 L746.86 73.1 L752.71 77.8 L758.57 83.3 L764.42 86.2 L770.27 90.1 L776.13 100.4 L781.98 122.2 L787.83 159 L793.68 217.9 L799.54 292.2 L805.39 353.7 L811.24 376.8 L817.09 373.6 L822.95 365.7 L828.8 373.6" fill="none" stroke="#000000" stroke-width="1.4" stroke-dasharray="9.2 3.6 2 3.6" clip-path="url(#clipb)"/><circle cx="512.75" cy="374" r="2.35" fill="#000000"/><circle cx="518.61" cy="375" r="2.35" fill="#000000"/><circle cx="524.46" cy="366.8" r="2.35" fill="#000000"/><circle cx="530.31" cy="341.9" r="2.35" fill="#000000"/><circle cx="536.16" cy="294.7" r="2.35" fill="#000000"/><circle cx="542.02" cy="224.8" r="2.35" fill="#000000"/><circle cx="547.87" cy="158.9" r="2.35" fill="#000000"/><circle cx="553.72" cy="121.8" r="2.35" fill="#000000"/><circle cx="559.57" cy="103.7" r="2.35" fill="#000000"/><circle cx="565.43" cy="92" r="2.35" fill="#000000"/><circle cx="571.28" cy="83.9" r="2.35" fill="#000000"/><circle cx="577.13" cy="78.8" r="2.35" fill="#000000"/><circle cx="582.99" cy="75.9" r="2.35" fill="#000000"/><circle cx="588.84" cy="74.5" r="2.35" fill="#000000"/><circle cx="594.69" cy="73.1" r="2.35" fill="#000000"/><circle cx="600.54" cy="72.4" r="2.35" fill="#000000"/><circle cx="606.4" cy="72" r="2.35" fill="#000000"/><circle cx="612.25" cy="71.6" r="2.35" fill="#000000"/><circle cx="618.1" cy="72" r="2.35" fill="#000000"/><circle cx="623.95" cy="73.1" r="2.35" fill="#000000"/><circle cx="629.81" cy="74.1" r="2.35" fill="#000000"/><circle cx="635.66" cy="74.5" r="2.35" fill="#000000"/><circle cx="641.51" cy="74.5" r="2.35" fill="#000000"/><circle cx="647.37" cy="74.5" r="2.35" fill="#000000"/><circle cx="653.22" cy="74.5" r="2.35" fill="#000000"/><circle cx="659.07" cy="74.5" r="2.35" fill="#000000"/><circle cx="664.92" cy="74.1" r="2.35" fill="#000000"/><circle cx="670.78" cy="73.1" r="2.35" fill="#000000"/><circle cx="676.63" cy="72" r="2.35" fill="#000000"/><circle cx="682.48" cy="71.6" r="2.35" fill="#000000"/><circle cx="688.33" cy="71.6" r="2.35" fill="#000000"/><circle cx="694.19" cy="71.6" r="2.35" fill="#000000"/><circle cx="700.04" cy="71.6" r="2.35" fill="#000000"/><circle cx="705.89" cy="71.6" r="2.35" fill="#000000"/><circle cx="711.75" cy="71.6" r="2.35" fill="#000000"/><circle cx="717.6" cy="71.6" r="2.35" fill="#000000"/><circle cx="723.45" cy="71.6" r="2.35" fill="#000000"/><circle cx="729.3" cy="71.6" r="2.35" fill="#000000"/><circle cx="735.16" cy="71.6" r="2.35" fill="#000000"/><circle cx="741.01" cy="71.2" r="2.35" fill="#000000"/><circle cx="746.86" cy="73.1" r="2.35" fill="#000000"/><circle cx="752.71" cy="77.8" r="2.35" fill="#000000"/><circle cx="758.57" cy="83.3" r="2.35" fill="#000000"/><circle cx="764.42" cy="86.2" r="2.35" fill="#000000"/><circle cx="770.27" cy="90.1" r="2.35" fill="#000000"/><circle cx="776.13" cy="100.4" r="2.35" fill="#000000"/><circle cx="781.98" cy="122.2" r="2.35" fill="#000000"/><circle cx="787.83" cy="159" r="2.35" fill="#000000"/><circle cx="793.68" cy="217.9" r="2.35" fill="#000000"/><circle cx="799.54" cy="292.2" r="2.35" fill="#000000"/><circle cx="805.39" cy="353.7" r="2.35" fill="#000000"/><circle cx="811.24" cy="376.8" r="2.35" fill="#000000"/><circle cx="817.09" cy="373.6" r="2.35" fill="#000000"/><circle cx="822.95" cy="365.7" r="2.35" fill="#000000"/><circle cx="828.8" cy="373.6" r="2.35" fill="#000000"/></g>
<rect x="506.9" y="59.6" width="321.9" height="323.2" fill="none" stroke="#262626" stroke-width="1.2"/>
<path d="M512.75 382.8V379.5M512.75 59.6V62.9M547.87 382.8V379.5M547.87 59.6V62.9M582.99 382.8V379.5M582.99 59.6V62.9M618.1 382.8V379.5M618.1 59.6V62.9M653.22 382.8V379.5M653.22 59.6V62.9M688.33 382.8V379.5M688.33 59.6V62.9M723.45 382.8V379.5M723.45 59.6V62.9M758.57 382.8V379.5M758.57 59.6V62.9M793.68 382.8V379.5M793.68 59.6V62.9M828.8 382.8V379.5M828.8 59.6V62.9M506.9 374H510.2M828.8 374H825.5M506.9 323.5H510.2M828.8 323.5H825.5M506.9 272.99H510.2M828.8 272.99H825.5M506.9 222.49H510.2M828.8 222.49H825.5M506.9 171.98H510.2M828.8 171.98H825.5M506.9 121.48H510.2M828.8 121.48H825.5M506.9 70.97H510.2M828.8 70.97H825.5" stroke="#262626" stroke-width="1.2" fill="none"/>
<text transform="translate(512.75 411) scale(0.975 1)" class="tl" text-anchor="middle">1</text>
<text transform="translate(547.87 411) scale(0.975 1)" class="tl" text-anchor="middle">4</text>
<text transform="translate(582.99 411) scale(0.975 1)" class="tl" text-anchor="middle">7</text>
<text transform="translate(618.1 411) scale(0.975 1)" class="tl" text-anchor="middle">10</text>
<text transform="translate(653.22 411) scale(0.975 1)" class="tl" text-anchor="middle">13</text>
<text transform="translate(688.33 411) scale(0.975 1)" class="tl" text-anchor="middle">16</text>
<text transform="translate(723.45 411) scale(0.975 1)" class="tl" text-anchor="middle">19</text>
<text transform="translate(758.57 411) scale(0.975 1)" class="tl" text-anchor="middle">22</text>
<text transform="translate(793.68 411) scale(0.975 1)" class="tl" text-anchor="middle">25</text>
<text transform="translate(828.8 411) scale(0.975 1)" class="tl" text-anchor="middle">28</text>
<text transform="translate(499.2 382.7) scale(0.975 1)" class="tl" text-anchor="end">2.47</text>
<text transform="translate(499.2 332.2) scale(0.975 1)" class="tl" text-anchor="end">2.6</text>
<text transform="translate(499.2 281.69) scale(0.975 1)" class="tl" text-anchor="end">2.73</text>
<text transform="translate(499.2 231.19) scale(0.975 1)" class="tl" text-anchor="end">2.86</text>
<text transform="translate(499.2 180.68) scale(0.975 1)" class="tl" text-anchor="end">2.99</text>
<text transform="translate(499.2 130.18) scale(0.975 1)" class="tl" text-anchor="end">3.12</text>
<text transform="translate(499.2 79.67) scale(0.975 1)" class="tl" text-anchor="end">3.25</text>
<text x="667.85" y="442" class="lb" text-anchor="middle">x(grid)</text>
<text x="667.85" y="475" class="lb" text-anchor="middle">(b)</text>
<text transform="translate(446.8 221.4) rotate(-90)" class="lb" style="font-size:23px" text-anchor="middle">er(z)</text>
<g><path d="M937.88 374.1 L943.95 374.1 L950.03 374.1 L956.1 374.1 L962.18 374.1 L968.25 374.1 L974.33 374.1 L980.4 374.1 L986.48 374.1 L992.55 374.1 L998.63 374.1 L1004.71 374.1 L1010.78 374.1 L1016.86 374.1 L1022.93 374.1 L1029.01 374.1 L1035.08 374.1 L1041.16 374.1 L1047.23 374.1 L1053.31 374.1 L1059.38 374.1 L1065.46 374.1 L1071.54 374.1 L1077.61 374.1 L1083.69 374.1 L1089.76 374.1 L1095.84 374.1 L1101.91 374.1 L1107.99 374.1 L1114.06 374.1 L1120.14 374.1 L1126.22 374.1 L1132.29 374.1 L1138.37 374.1 L1144.44 374.1 L1150.52 374.1 L1156.59 374.1 L1162.67 374.1 L1168.74 374.1 L1174.82 374.1 L1180.89 374.1 L1186.97 374.1 L1193.05 374.1 L1199.12 374.1 L1205.2 374.1 L1211.27 374.1 L1217.35 374.1 L1223.42 374.1 L1229.5 374.1 L1235.57 374.1 L1241.65 374.1 L1247.72 374.1 L1253.8 374.1" fill="none" stroke="#ff0000" stroke-width="1.4" clip-path="url(#clipc)"/></g>
<g><path d="M937.88 374.1 L943.95 374.1 L950.03 374.1 L956.1 374.1 L962.18 374.1 L968.25 374.1 L974.33 374.1 L980.4 374.1 L986.48 374.1 L992.55 374.1 L998.63 374.1 L1004.71 374.1 L1010.78 374.1 L1016.86 374.1 L1022.93 374.1 L1029.01 374.1 L1035.08 374.1 L1041.16 374.1 L1047.23 374.1 L1053.31 374.1 L1059.38 374.1 L1065.46 374.1 L1071.54 374.1 L1077.61 374.1 L1083.69 374.1 L1089.76 374.1 L1095.84 374.1 L1101.91 374.1 L1107.99 374.1 L1114.06 374.1 L1120.14 374.1 L1126.22 374.1 L1132.29 374.1 L1138.37 374.1 L1144.44 374.1 L1150.52 374.1 L1156.59 374.1 L1162.67 374.1 L1168.74 374.1 L1174.82 374.1 L1180.89 374.1 L1186.97 374.1 L1193.05 374.1 L1199.12 374.1 L1205.2 374.1 L1211.27 374.1 L1217.35 374.1 L1223.42 374.1 L1229.5 374.1 L1235.57 374.1 L1241.65 374.1 L1247.72 374.1 L1253.8 374.1" fill="none" stroke="#00ff00" stroke-width="1.4" stroke-dasharray="11.5 6.8" clip-path="url(#clipc)"/></g>
<g><path d="M937.88 374 L943.95 374 L950.03 374 L956.1 374 L962.18 373.85 L968.25 372.5 L974.33 369.36 L980.4 366.73 L986.48 365.3 L992.55 366.98 L998.63 368.69 L1004.71 369.72 L1010.78 370.5 L1016.86 371.19 L1022.93 371.84 L1029.01 372.31 L1035.08 372.5 L1041.16 372.45 L1047.23 372.33 L1053.31 372.14 L1059.38 371.93 L1065.46 371.7 L1071.54 371.34 L1077.61 370.91 L1083.69 370.7 L1089.76 370.8 L1095.84 371 L1101.91 371.1 L1107.99 371.1 L1114.06 371.1 L1120.14 371.1 L1126.22 371.1 L1132.29 371.1 L1138.37 371.1 L1144.44 371.1 L1150.52 371.1 L1156.59 371.1 L1162.67 371.1 L1168.74 371.21 L1174.82 371.51 L1180.89 371.95 L1186.97 372.5 L1193.05 373.81 L1199.12 374 L1205.2 374 L1211.27 374 L1217.35 374 L1223.42 374 L1229.5 374 L1235.57 374 L1241.65 374 L1247.72 374 L1253.8 374" fill="none" stroke="#0000ff" stroke-width="1.4" stroke-dasharray="9.2 3.6 2 3.6" clip-path="url(#clipc)"/></g>
<g><path d="M937.88 374 L943.95 373.97 L950.03 373.86 L956.1 373.67 L962.18 373.2 L968.25 371 L974.33 366 L980.4 362.61 L986.48 358.4 L992.55 347 L998.63 339 L1004.71 341 L1010.78 346.8 L1016.86 351.03 L1022.93 354.81 L1029.01 358.4 L1035.08 362 L1041.16 363.08 L1047.23 363.22 L1053.31 362.5 L1059.38 360.4 L1065.46 357.99 L1071.54 355.59 L1077.61 353.6 L1083.69 352.5 L1089.76 352.26 L1095.84 352.88 L1101.91 353.6 L1107.99 354.16 L1114.06 354.71 L1120.14 355.06 L1126.22 355.1 L1132.29 355.1 L1138.37 355.1 L1144.44 355.14 L1150.52 355.63 L1156.59 356.5 L1162.67 358.33 L1168.74 361.4 L1174.82 366.87 L1180.89 371.97 L1186.97 373.79 L1193.05 374 L1199.12 374 L1205.2 374 L1211.27 374 L1217.35 374 L1223.42 374 L1229.5 374 L1235.57 374 L1241.65 374 L1247.72 374 L1253.8 374" fill="none" stroke="#ff0000" stroke-width="1.4" stroke-dasharray="1.4 3.15" clip-path="url(#clipc)"/></g>
<g><path d="M937.88 374 L943.95 374 L950.03 374 L956.1 374 L962.18 374 L968.25 371.1 L974.33 367.2 L980.4 358.1 L986.48 337.6 L992.55 302.9 L998.63 272.3 L1004.71 265.3 L1010.78 269.8 L1016.86 271.8 L1022.93 273.7 L1029.01 279.5 L1035.08 287 L1041.16 292.6 L1047.23 296.1 L1053.31 296.7 L1059.38 294.5 L1065.46 290.3 L1071.54 284 L1077.61 277.2 L1083.69 271.8 L1089.76 270.2 L1095.84 270.8 L1101.91 271.2 L1107.99 271.4 L1114.06 272.1 L1120.14 273.3 L1126.22 273.7 L1132.29 273.7 L1138.37 273.7 L1144.44 272.7 L1150.52 272.3 L1156.59 271.8 L1162.67 272.1 L1168.74 278.2 L1174.82 292.8 L1180.89 317 L1186.97 350.3 L1193.05 374 L1199.12 378.3 L1205.2 373.1 L1211.27 373.1 L1217.35 373.11 L1223.42 373.15 L1229.5 373.21 L1235.57 373.32 L1241.65 373.48 L1247.72 373.7 L1253.8 374" fill="none" stroke="#00ff00" stroke-width="1.4" clip-path="url(#clipc)"/><circle cx="937.88" cy="374" r="2.35" fill="#00ff00"/><circle cx="943.95" cy="374" r="2.35" fill="#00ff00"/><circle cx="950.03" cy="374" r="2.35" fill="#00ff00"/><circle cx="956.1" cy="374" r="2.35" fill="#00ff00"/><circle cx="962.18" cy="374" r="2.35" fill="#00ff00"/><circle cx="968.25" cy="371.1" r="2.35" fill="#00ff00"/><circle cx="974.33" cy="367.2" r="2.35" fill="#00ff00"/><circle cx="980.4" cy="358.1" r="2.35" fill="#00ff00"/><circle cx="986.48" cy="337.6" r="2.35" fill="#00ff00"/><circle cx="992.55" cy="302.9" r="2.35" fill="#00ff00"/><circle cx="998.63" cy="272.3" r="2.35" fill="#00ff00"/><circle cx="1004.71" cy="265.3" r="2.35" fill="#00ff00"/><circle cx="1010.78" cy="269.8" r="2.35" fill="#00ff00"/><circle cx="1016.86" cy="271.8" r="2.35" fill="#00ff00"/><circle cx="1022.93" cy="273.7" r="2.35" fill="#00ff00"/><circle cx="1029.01" cy="279.5" r="2.35" fill="#00ff00"/><circle cx="1035.08" cy="287" r="2.35" fill="#00ff00"/><circle cx="1041.16" cy="292.6" r="2.35" fill="#00ff00"/><circle cx="1047.23" cy="296.1" r="2.35" fill="#00ff00"/><circle cx="1053.31" cy="296.7" r="2.35" fill="#00ff00"/><circle cx="1059.38" cy="294.5" r="2.35" fill="#00ff00"/><circle cx="1065.46" cy="290.3" r="2.35" fill="#00ff00"/><circle cx="1071.54" cy="284" r="2.35" fill="#00ff00"/><circle cx="1077.61" cy="277.2" r="2.35" fill="#00ff00"/><circle cx="1083.69" cy="271.8" r="2.35" fill="#00ff00"/><circle cx="1089.76" cy="270.2" r="2.35" fill="#00ff00"/><circle cx="1095.84" cy="270.8" r="2.35" fill="#00ff00"/><circle cx="1101.91" cy="271.2" r="2.35" fill="#00ff00"/><circle cx="1107.99" cy="271.4" r="2.35" fill="#00ff00"/><circle cx="1114.06" cy="272.1" r="2.35" fill="#00ff00"/><circle cx="1120.14" cy="273.3" r="2.35" fill="#00ff00"/><circle cx="1126.22" cy="273.7" r="2.35" fill="#00ff00"/><circle cx="1132.29" cy="273.7" r="2.35" fill="#00ff00"/><circle cx="1138.37" cy="273.7" r="2.35" fill="#00ff00"/><circle cx="1144.44" cy="272.7" r="2.35" fill="#00ff00"/><circle cx="1150.52" cy="272.3" r="2.35" fill="#00ff00"/><circle cx="1156.59" cy="271.8" r="2.35" fill="#00ff00"/><circle cx="1162.67" cy="272.1" r="2.35" fill="#00ff00"/><circle cx="1168.74" cy="278.2" r="2.35" fill="#00ff00"/><circle cx="1174.82" cy="292.8" r="2.35" fill="#00ff00"/><circle cx="1180.89" cy="317" r="2.35" fill="#00ff00"/><circle cx="1186.97" cy="350.3" r="2.35" fill="#00ff00"/><circle cx="1193.05" cy="374" r="2.35" fill="#00ff00"/><circle cx="1199.12" cy="378.3" r="2.35" fill="#00ff00"/><circle cx="1205.2" cy="373.1" r="2.35" fill="#00ff00"/><circle cx="1211.27" cy="373.1" r="2.35" fill="#00ff00"/><circle cx="1217.35" cy="373.11" r="2.35" fill="#00ff00"/><circle cx="1223.42" cy="373.15" r="2.35" fill="#00ff00"/><circle cx="1229.5" cy="373.21" r="2.35" fill="#00ff00"/><circle cx="1235.57" cy="373.32" r="2.35" fill="#00ff00"/><circle cx="1241.65" cy="373.48" r="2.35" fill="#00ff00"/><circle cx="1247.72" cy="373.7" r="2.35" fill="#00ff00"/><circle cx="1253.8" cy="374" r="2.35" fill="#00ff00"/></g>
<g><path d="M937.88 374 L943.95 374 L950.03 374 L956.1 374 L962.18 371.1 L968.25 368.2 L974.33 358.1 L980.4 336 L986.48 298.4 L992.55 249.4 L998.63 209.2 L1004.71 197.9 L1010.78 198.8 L1016.86 199 L1022.93 198.8 L1029.01 202.3 L1035.08 207.8 L1041.16 213.6 L1047.23 217.5 L1053.31 218.3 L1059.38 217.5 L1065.46 214.4 L1071.54 209.7 L1077.61 203.3 L1083.69 198.8 L1089.76 197.5 L1095.84 197.9 L1101.91 197.9 L1107.99 197.9 L1114.06 198.4 L1120.14 199 L1126.22 199.4 L1132.29 200 L1138.37 200.4 L1144.44 199.4 L1150.52 197.5 L1156.59 201.4 L1162.67 217.5 L1168.74 241.6 L1174.82 266.5 L1180.89 287 L1186.97 297.5 L1193.05 309.5 L1199.12 332.5 L1205.2 355.5 L1211.27 366.8 L1217.35 371.1 L1223.42 373.1 L1229.5 373.45 L1235.57 373.71 L1241.65 373.88 L1247.72 373.97 L1253.8 374" fill="none" stroke="#ff00ff" stroke-width="1.4" stroke-dasharray="9.2 3.6 2 3.6" clip-path="url(#clipc)"/><circle cx="937.88" cy="374" r="2.35" fill="#ff00ff"/><circle cx="943.95" cy="374" r="2.35" fill="#ff00ff"/><circle cx="950.03" cy="374" r="2.35" fill="#ff00ff"/><circle cx="956.1" cy="374" r="2.35" fill="#ff00ff"/><circle cx="962.18" cy="371.1" r="2.35" fill="#ff00ff"/><circle cx="968.25" cy="368.2" r="2.35" fill="#ff00ff"/><circle cx="974.33" cy="358.1" r="2.35" fill="#ff00ff"/><circle cx="980.4" cy="336" r="2.35" fill="#ff00ff"/><circle cx="986.48" cy="298.4" r="2.35" fill="#ff00ff"/><circle cx="992.55" cy="249.4" r="2.35" fill="#ff00ff"/><circle cx="998.63" cy="209.2" r="2.35" fill="#ff00ff"/><circle cx="1004.71" cy="197.9" r="2.35" fill="#ff00ff"/><circle cx="1010.78" cy="198.8" r="2.35" fill="#ff00ff"/><circle cx="1016.86" cy="199" r="2.35" fill="#ff00ff"/><circle cx="1022.93" cy="198.8" r="2.35" fill="#ff00ff"/><circle cx="1029.01" cy="202.3" r="2.35" fill="#ff00ff"/><circle cx="1035.08" cy="207.8" r="2.35" fill="#ff00ff"/><circle cx="1041.16" cy="213.6" r="2.35" fill="#ff00ff"/><circle cx="1047.23" cy="217.5" r="2.35" fill="#ff00ff"/><circle cx="1053.31" cy="218.3" r="2.35" fill="#ff00ff"/><circle cx="1059.38" cy="217.5" r="2.35" fill="#ff00ff"/><circle cx="1065.46" cy="214.4" r="2.35" fill="#ff00ff"/><circle cx="1071.54" cy="209.7" r="2.35" fill="#ff00ff"/><circle cx="1077.61" cy="203.3" r="2.35" fill="#ff00ff"/><circle cx="1083.69" cy="198.8" r="2.35" fill="#ff00ff"/><circle cx="1089.76" cy="197.5" r="2.35" fill="#ff00ff"/><circle cx="1095.84" cy="197.9" r="2.35" fill="#ff00ff"/><circle cx="1101.91" cy="197.9" r="2.35" fill="#ff00ff"/><circle cx="1107.99" cy="197.9" r="2.35" fill="#ff00ff"/><circle cx="1114.06" cy="198.4" r="2.35" fill="#ff00ff"/><circle cx="1120.14" cy="199" r="2.35" fill="#ff00ff"/><circle cx="1126.22" cy="199.4" r="2.35" fill="#ff00ff"/><circle cx="1132.29" cy="200" r="2.35" fill="#ff00ff"/><circle cx="1138.37" cy="200.4" r="2.35" fill="#ff00ff"/><circle cx="1144.44" cy="199.4" r="2.35" fill="#ff00ff"/><circle cx="1150.52" cy="197.5" r="2.35" fill="#ff00ff"/><circle cx="1156.59" cy="201.4" r="2.35" fill="#ff00ff"/><circle cx="1162.67" cy="217.5" r="2.35" fill="#ff00ff"/><circle cx="1168.74" cy="241.6" r="2.35" fill="#ff00ff"/><circle cx="1174.82" cy="266.5" r="2.35" fill="#ff00ff"/><circle cx="1180.89" cy="287" r="2.35" fill="#ff00ff"/><circle cx="1186.97" cy="297.5" r="2.35" fill="#ff00ff"/><circle cx="1193.05" cy="309.5" r="2.35" fill="#ff00ff"/><circle cx="1199.12" cy="332.5" r="2.35" fill="#ff00ff"/><circle cx="1205.2" cy="355.5" r="2.35" fill="#ff00ff"/><circle cx="1211.27" cy="366.8" r="2.35" fill="#ff00ff"/><circle cx="1217.35" cy="371.1" r="2.35" fill="#ff00ff"/><circle cx="1223.42" cy="373.1" r="2.35" fill="#ff00ff"/><circle cx="1229.5" cy="373.45" r="2.35" fill="#ff00ff"/><circle cx="1235.57" cy="373.71" r="2.35" fill="#ff00ff"/><circle cx="1241.65" cy="373.88" r="2.35" fill="#ff00ff"/><circle cx="1247.72" cy="373.97" r="2.35" fill="#ff00ff"/><circle cx="1253.8" cy="374" r="2.35" fill="#ff00ff"/></g>
<g><path d="M937.88 374 L943.95 374 L950.03 374 L956.1 374 L962.18 365.3 L968.25 351 L974.33 321 L980.4 270.8 L986.48 214 L992.55 166.3 L998.63 134.9 L1004.71 122.6 L1010.78 125.2 L1016.86 138.6 L1022.93 152.2 L1029.01 158.9 L1035.08 160.1 L1041.16 159.5 L1047.23 157.5 L1053.31 152.7 L1059.38 146 L1065.46 137.8 L1071.54 129.6 L1077.61 122.8 L1083.69 123.8 L1089.76 135.9 L1095.84 150.5 L1101.91 160.8 L1107.99 165.3 L1114.06 164.4 L1120.14 159.1 L1126.22 150.5 L1132.29 141 L1138.37 132 L1144.44 123.2 L1150.52 118.9 L1156.59 122.8 L1162.67 134.9 L1168.74 147.7 L1174.82 157.9 L1180.89 165.3 L1186.97 175.1 L1193.05 197.5 L1199.12 237.7 L1205.2 285 L1211.27 324.9 L1217.35 352.6 L1223.42 366.2 L1229.5 372.5 L1235.57 373.22 L1241.65 373.68 L1247.72 373.93 L1253.8 374" fill="none" stroke="#00ff00" stroke-width="1.4" stroke-dasharray="1.4 3.15" clip-path="url(#clipc)"/><circle cx="937.88" cy="374" r="2.35" fill="#00ff00"/><circle cx="943.95" cy="374" r="2.35" fill="#00ff00"/><circle cx="950.03" cy="374" r="2.35" fill="#00ff00"/><circle cx="956.1" cy="374" r="2.35" fill="#00ff00"/><circle cx="962.18" cy="365.3" r="2.35" fill="#00ff00"/><circle cx="968.25" cy="351" r="2.35" fill="#00ff00"/><circle cx="974.33" cy="321" r="2.35" fill="#00ff00"/><circle cx="980.4" cy="270.8" r="2.35" fill="#00ff00"/><circle cx="986.48" cy="214" r="2.35" fill="#00ff00"/><circle cx="992.55" cy="166.3" r="2.35" fill="#00ff00"/><circle cx="998.63" cy="134.9" r="2.35" fill="#00ff00"/><circle cx="1004.71" cy="122.6" r="2.35" fill="#00ff00"/><circle cx="1010.78" cy="125.2" r="2.35" fill="#00ff00"/><circle cx="1016.86" cy="138.6" r="2.35" fill="#00ff00"/><circle cx="1022.93" cy="152.2" r="2.35" fill="#00ff00"/><circle cx="1029.01" cy="158.9" r="2.35" fill="#00ff00"/><circle cx="1035.08" cy="160.1" r="2.35" fill="#00ff00"/><circle cx="1041.16" cy="159.5" r="2.35" fill="#00ff00"/><circle cx="1047.23" cy="157.5" r="2.35" fill="#00ff00"/><circle cx="1053.31" cy="152.7" r="2.35" fill="#00ff00"/><circle cx="1059.38" cy="146" r="2.35" fill="#00ff00"/><circle cx="1065.46" cy="137.8" r="2.35" fill="#00ff00"/><circle cx="1071.54" cy="129.6" r="2.35" fill="#00ff00"/><circle cx="1077.61" cy="122.8" r="2.35" fill="#00ff00"/><circle cx="1083.69" cy="123.8" r="2.35" fill="#00ff00"/><circle cx="1089.76" cy="135.9" r="2.35" fill="#00ff00"/><circle cx="1095.84" cy="150.5" r="2.35" fill="#00ff00"/><circle cx="1101.91" cy="160.8" r="2.35" fill="#00ff00"/><circle cx="1107.99" cy="165.3" r="2.35" fill="#00ff00"/><circle cx="1114.06" cy="164.4" r="2.35" fill="#00ff00"/><circle cx="1120.14" cy="159.1" r="2.35" fill="#00ff00"/><circle cx="1126.22" cy="150.5" r="2.35" fill="#00ff00"/><circle cx="1132.29" cy="141" r="2.35" fill="#00ff00"/><circle cx="1138.37" cy="132" r="2.35" fill="#00ff00"/><circle cx="1144.44" cy="123.2" r="2.35" fill="#00ff00"/><circle cx="1150.52" cy="118.9" r="2.35" fill="#00ff00"/><circle cx="1156.59" cy="122.8" r="2.35" fill="#00ff00"/><circle cx="1162.67" cy="134.9" r="2.35" fill="#00ff00"/><circle cx="1168.74" cy="147.7" r="2.35" fill="#00ff00"/><circle cx="1174.82" cy="157.9" r="2.35" fill="#00ff00"/><circle cx="1180.89" cy="165.3" r="2.35" fill="#00ff00"/><circle cx="1186.97" cy="175.1" r="2.35" fill="#00ff00"/><circle cx="1193.05" cy="197.5" r="2.35" fill="#00ff00"/><circle cx="1199.12" cy="237.7" r="2.35" fill="#00ff00"/><circle cx="1205.2" cy="285" r="2.35" fill="#00ff00"/><circle cx="1211.27" cy="324.9" r="2.35" fill="#00ff00"/><circle cx="1217.35" cy="352.6" r="2.35" fill="#00ff00"/><circle cx="1223.42" cy="366.2" r="2.35" fill="#00ff00"/><circle cx="1229.5" cy="372.5" r="2.35" fill="#00ff00"/><circle cx="1235.57" cy="373.22" r="2.35" fill="#00ff00"/><circle cx="1241.65" cy="373.68" r="2.35" fill="#00ff00"/><circle cx="1247.72" cy="373.93" r="2.35" fill="#00ff00"/><circle cx="1253.8" cy="374" r="2.35" fill="#00ff00"/></g>
<g><path d="M937.88 374 L943.95 367.2 L950.03 372.1 L956.1 369.2 L962.18 352.6 L968.25 313.6 L974.33 260.1 L980.4 205.3 L986.48 156.6 L992.55 122.2 L998.63 103.7 L1004.71 93.6 L1010.78 94.6 L1016.86 101.2 L1022.93 107.6 L1029.01 111.5 L1035.08 110.9 L1041.16 109.6 L1047.23 108.2 L1053.31 105.7 L1059.38 102.8 L1065.46 98.9 L1071.54 95.5 L1077.61 94 L1083.69 92.6 L1089.76 91.5 L1095.84 93 L1101.91 97.5 L1107.99 107.6 L1114.06 122.2 L1120.14 127.7 L1126.22 116.8 L1132.29 102.4 L1138.37 95.5 L1144.44 93.4 L1150.52 92.6 L1156.59 92.6 L1162.67 93 L1168.74 92 L1174.82 88.7 L1180.89 99.8 L1186.97 138.4 L1193.05 178 L1199.12 195.1 L1205.2 213.6 L1211.27 259.1 L1217.35 310.7 L1223.42 346.4 L1229.5 364.3 L1235.57 372.1 L1241.65 374.5 L1247.72 373.5 L1253.8 374" fill="none" stroke="#0000ff" stroke-width="1.4" clip-path="url(#clipc)"/><path d="M930.58 374H945.18M937.88 366.7V381.3M932.71 368.84L943.04 379.16M932.71 379.16L943.04 368.84" stroke="#0000ff" stroke-width="1.2" fill="none"/><path d="M936.65 367.2H951.25M943.95 359.9V374.5M938.79 362.04L949.11 372.36M938.79 372.36L949.11 362.04" stroke="#0000ff" stroke-width="1.2" fill="none"/><path d="M942.73 372.1H957.33M950.03 364.8V379.4M944.86 366.94L955.19 377.26M944.86 377.26L955.19 366.94" stroke="#0000ff" stroke-width="1.2" fill="none"/><path d="M948.8 369.2H963.4M956.1 361.9V376.5M950.94 364.04L961.26 374.36M950.94 374.36L961.26 364.04" stroke="#0000ff" stroke-width="1.2" fill="none"/><path d="M954.88 352.6H969.48M962.18 345.3V359.9M957.02 347.44L967.34 357.76M957.02 357.76L967.34 347.44" stroke="#0000ff" stroke-width="1.2" fill="none"/><path d="M960.95 313.6H975.55M968.25 306.3V320.9M963.09 308.44L973.41 318.76M963.09 318.76L973.41 308.44" stroke="#0000ff" stroke-width="1.2" fill="none"/><path d="M967.03 260.1H981.63M974.33 252.8V267.4M969.17 254.94L979.49 265.26M969.17 265.26L979.49 254.94" stroke="#0000ff" stroke-width="1.2" fill="none"/><path d="M973.1 205.3H987.7M980.4 198V212.6M975.24 200.14L985.57 210.46M975.24 210.46L985.57 200.14" stroke="#0000ff" stroke-width="1.2" fill="none"/><path d="M979.18 156.6H993.78M986.48 149.3V163.9M981.32 151.44L991.64 161.76M981.32 161.76L991.64 151.44" stroke="#0000ff" stroke-width="1.2" fill="none"/><path d="M985.25 122.2H999.85M992.55 114.9V129.5M987.39 117.04L997.72 127.36M987.39 127.36L997.72 117.04" stroke="#0000ff" stroke-width="1.2" fill="none"/><path d="M991.33 103.7H1005.93M998.63 96.4V111M993.47 98.54L1003.79 108.86M993.47 108.86L1003.79 98.54" stroke="#0000ff" stroke-width="1.2" fill="none"/><path d="M997.41 93.6H1012.01M1004.71 86.3V100.9M999.54 88.44L1009.87 98.76M999.54 98.76L1009.87 88.44" stroke="#0000ff" stroke-width="1.2" fill="none"/><path d="M1003.48 94.6H1018.08M1010.78 87.3V101.9M1005.62 89.44L1015.94 99.76M1005.62 99.76L1015.94 89.44" stroke="#0000ff" stroke-width="1.2" fill="none"/><path d="M1009.56 101.2H1024.16M1016.86 93.9V108.5M1011.69 96.04L1022.02 106.36M1011.69 106.36L1022.02 96.04" stroke="#0000ff" stroke-width="1.2" fill="none"/><path d="M1015.63 107.6H1030.23M1022.93 100.3V114.9M1017.77 102.44L1028.09 112.76M1017.77 112.76L1028.09 102.44" stroke="#0000ff" stroke-width="1.2" fill="none"/><path d="M1021.71 111.5H1036.31M1029.01 104.2V118.8M1023.85 106.34L1034.17 116.66M1023.85 116.66L1034.17 106.34" stroke="#0000ff" stroke-width="1.2" fill="none"/><path d="M1027.78 110.9H1042.38M1035.08 103.6V118.2M1029.92 105.74L1040.24 116.06M1029.92 116.06L1040.24 105.74" stroke="#0000ff" stroke-width="1.2" fill="none"/><path d="M1033.86 109.6H1048.46M1041.16 102.3V116.9M1036 104.44L1046.32 114.76M1036 114.76L1046.32 104.44" stroke="#0000ff" stroke-width="1.2" fill="none"/><path d="M1039.93 108.2H1054.53M1047.23 100.9V115.5M1042.07 103.04L1052.4 113.36M1042.07 113.36L1052.4 103.04" stroke="#0000ff" stroke-width="1.2" fill="none"/><path d="M1046.01 105.7H1060.61M1053.31 98.4V113M1048.15 100.54L1058.47 110.86M1048.15 110.86L1058.47 100.54" stroke="#0000ff" stroke-width="1.2" fill="none"/><path d="M1052.08 102.8H1066.68M1059.38 95.5V110.1M1054.22 97.64L1064.55 107.96M1054.22 107.96L1064.55 97.64" stroke="#0000ff" stroke-width="1.2" fill="none"/><path d="M1058.16 98.9H1072.76M1065.46 91.6V106.2M1060.3 93.74L1070.62 104.06M1060.3 104.06L1070.62 93.74" stroke="#0000ff" stroke-width="1.2" fill="none"/><path d="M1064.24 95.5H1078.84M1071.54 88.2V102.8M1066.37 90.34L1076.7 100.66M1066.37 100.66L1076.7 90.34" stroke="#0000ff" stroke-width="1.2" fill="none"/><path d="M1070.31 94H1084.91M1077.61 86.7V101.3M1072.45 88.84L1082.77 99.16M1072.45 99.16L1082.77 88.84" stroke="#0000ff" stroke-width="1.2" fill="none"/><path d="M1076.39 92.6H1090.99M1083.69 85.3V99.9M1078.52 87.44L1088.85 97.76M1078.52 97.76L1088.85 87.44" stroke="#0000ff" stroke-width="1.2" fill="none"/><path d="M1082.46 91.5H1097.06M1089.76 84.2V98.8M1084.6 86.34L1094.92 96.66M1084.6 96.66L1094.92 86.34" stroke="#0000ff" stroke-width="1.2" fill="none"/><path d="M1088.54 93H1103.14M1095.84 85.7V100.3M1090.68 87.84L1101 98.16M1090.68 98.16L1101 87.84" stroke="#0000ff" stroke-width="1.2" fill="none"/><path d="M1094.61 97.5H1109.21M1101.91 90.2V104.8M1096.75 92.34L1107.08 102.66M1096.75 102.66L1107.08 92.34" stroke="#0000ff" stroke-width="1.2" fill="none"/><path d="M1100.69 107.6H1115.29M1107.99 100.3V114.9M1102.83 102.44L1113.15 112.76M1102.83 112.76L1113.15 102.44" stroke="#0000ff" stroke-width="1.2" fill="none"/><path d="M1106.76 122.2H1121.36M1114.06 114.9V129.5M1108.9 117.04L1119.23 127.36M1108.9 127.36L1119.23 117.04" stroke="#0000ff" stroke-width="1.2" fill="none"/><path d="M1112.84 127.7H1127.44M1120.14 120.4V135M1114.98 122.54L1125.3 132.86M1114.98 132.86L1125.3 122.54" stroke="#0000ff" stroke-width="1.2" fill="none"/><path d="M1118.92 116.8H1133.52M1126.22 109.5V124.1M1121.05 111.64L1131.38 121.96M1121.05 121.96L1131.38 111.64" stroke="#0000ff" stroke-width="1.2" fill="none"/><path d="M1124.99 102.4H1139.59M1132.29 95.1V109.7M1127.13 97.24L1137.45 107.56M1127.13 107.56L1137.45 97.24" stroke="#0000ff" stroke-width="1.2" fill="none"/><path d="M1131.07 95.5H1145.67M1138.37 88.2V102.8M1133.2 90.34L1143.53 100.66M1133.2 100.66L1143.53 90.34" stroke="#0000ff" stroke-width="1.2" fill="none"/><path d="M1137.14 93.4H1151.74M1144.44 86.1V100.7M1139.28 88.24L1149.6 98.56M1139.28 98.56L1149.6 88.24" stroke="#0000ff" stroke-width="1.2" fill="none"/><path d="M1143.22 92.6H1157.82M1150.52 85.3V99.9M1145.36 87.44L1155.68 97.76M1145.36 97.76L1155.68 87.44" stroke="#0000ff" stroke-width="1.2" fill="none"/><path d="M1149.29 92.6H1163.89M1156.59 85.3V99.9M1151.43 87.44L1161.75 97.76M1151.43 97.76L1161.75 87.44" stroke="#0000ff" stroke-width="1.2" fill="none"/><path d="M1155.37 93H1169.97M1162.67 85.7V100.3M1157.51 87.84L1167.83 98.16M1157.51 98.16L1167.83 87.84" stroke="#0000ff" stroke-width="1.2" fill="none"/><path d="M1161.44 92H1176.04M1168.74 84.7V99.3M1163.58 86.84L1173.91 97.16M1163.58 97.16L1173.91 86.84" stroke="#0000ff" stroke-width="1.2" fill="none"/><path d="M1167.52 88.7H1182.12M1174.82 81.4V96M1169.66 83.54L1179.98 93.86M1169.66 93.86L1179.98 83.54" stroke="#0000ff" stroke-width="1.2" fill="none"/><path d="M1173.59 99.8H1188.19M1180.89 92.5V107.1M1175.73 94.64L1186.06 104.96M1175.73 104.96L1186.06 94.64" stroke="#0000ff" stroke-width="1.2" fill="none"/><path d="M1179.67 138.4H1194.27M1186.97 131.1V145.7M1181.81 133.24L1192.13 143.56M1181.81 143.56L1192.13 133.24" stroke="#0000ff" stroke-width="1.2" fill="none"/><path d="M1185.75 178H1200.35M1193.05 170.7V185.3M1187.88 172.84L1198.21 183.16M1187.88 183.16L1198.21 172.84" stroke="#0000ff" stroke-width="1.2" fill="none"/><path d="M1191.82 195.1H1206.42M1199.12 187.8V202.4M1193.96 189.94L1204.28 200.26M1193.96 200.26L1204.28 189.94" stroke="#0000ff" stroke-width="1.2" fill="none"/><path d="M1197.9 213.6H1212.5M1205.2 206.3V220.9M1200.03 208.44L1210.36 218.76M1200.03 218.76L1210.36 208.44" stroke="#0000ff" stroke-width="1.2" fill="none"/><path d="M1203.97 259.1H1218.57M1211.27 251.8V266.4M1206.11 253.94L1216.43 264.26M1206.11 264.26L1216.43 253.94" stroke="#0000ff" stroke-width="1.2" fill="none"/><path d="M1210.05 310.7H1224.65M1217.35 303.4V318M1212.19 305.54L1222.51 315.86M1212.19 315.86L1222.51 305.54" stroke="#0000ff" stroke-width="1.2" fill="none"/><path d="M1216.12 346.4H1230.72M1223.42 339.1V353.7M1218.26 341.24L1228.58 351.56M1218.26 351.56L1228.58 341.24" stroke="#0000ff" stroke-width="1.2" fill="none"/><path d="M1222.2 364.3H1236.8M1229.5 357V371.6M1224.34 359.14L1234.66 369.46M1224.34 369.46L1234.66 359.14" stroke="#0000ff" stroke-width="1.2" fill="none"/><path d="M1228.27 372.1H1242.87M1235.57 364.8V379.4M1230.41 366.94L1240.74 377.26M1230.41 377.26L1240.74 366.94" stroke="#0000ff" stroke-width="1.2" fill="none"/><path d="M1234.35 374.5H1248.95M1241.65 367.2V381.8M1236.49 369.34L1246.81 379.66M1236.49 379.66L1246.81 369.34" stroke="#0000ff" stroke-width="1.2" fill="none"/><path d="M1240.42 373.5H1255.02M1247.72 366.2V380.8M1242.56 368.34L1252.89 378.66M1242.56 378.66L1252.89 368.34" stroke="#0000ff" stroke-width="1.2" fill="none"/><path d="M1246.5 374H1261.1M1253.8 366.7V381.3M1248.64 368.84L1258.96 379.16M1248.64 379.16L1258.96 368.84" stroke="#0000ff" stroke-width="1.2" fill="none"/></g>
<g><path d="M937.88 374 L943.95 370.9 L950.03 368.5 L956.1 354.2 L962.18 316.4 L968.25 250.3 L974.33 182.5 L980.4 138.8 L986.48 113.5 L992.55 95.4 L998.63 83.9 L1004.71 79 L1010.78 79 L1016.86 81.3 L1022.93 84.2 L1029.01 85.2 L1035.08 84.8 L1041.16 84.2 L1047.23 83.3 L1053.31 82.3 L1059.38 81.3 L1065.46 80.4 L1071.54 79 L1077.61 78 L1083.69 77.4 L1089.76 77 L1095.84 77.4 L1101.91 80.4 L1107.99 84.8 L1114.06 89.1 L1120.14 91.5 L1126.22 87.2 L1132.29 81.3 L1138.37 79 L1144.44 78 L1150.52 77.8 L1156.59 77.8 L1162.67 77.8 L1168.74 77.4 L1174.82 74.9 L1180.89 79.4 L1186.97 98.5 L1193.05 118.3 L1199.12 127.7 L1205.2 141.8 L1211.27 177 L1217.35 229.4 L1223.42 287.9 L1229.5 336.6 L1235.57 362 L1241.65 370.5 L1247.72 371.7 L1253.8 373.8" fill="none" stroke="#ff0000" stroke-width="1.4" clip-path="url(#clipc)"/><circle cx="937.88" cy="374" r="2.35" fill="#ff0000"/><circle cx="943.95" cy="370.9" r="2.35" fill="#ff0000"/><circle cx="950.03" cy="368.5" r="2.35" fill="#ff0000"/><circle cx="956.1" cy="354.2" r="2.35" fill="#ff0000"/><circle cx="962.18" cy="316.4" r="2.35" fill="#ff0000"/><circle cx="968.25" cy="250.3" r="2.35" fill="#ff0000"/><circle cx="974.33" cy="182.5" r="2.35" fill="#ff0000"/><circle cx="980.4" cy="138.8" r="2.35" fill="#ff0000"/><circle cx="986.48" cy="113.5" r="2.35" fill="#ff0000"/><circle cx="992.55" cy="95.4" r="2.35" fill="#ff0000"/><circle cx="998.63" cy="83.9" r="2.35" fill="#ff0000"/><circle cx="1004.71" cy="79" r="2.35" fill="#ff0000"/><circle cx="1010.78" cy="79" r="2.35" fill="#ff0000"/><circle cx="1016.86" cy="81.3" r="2.35" fill="#ff0000"/><circle cx="1022.93" cy="84.2" r="2.35" fill="#ff0000"/><circle cx="1029.01" cy="85.2" r="2.35" fill="#ff0000"/><circle cx="1035.08" cy="84.8" r="2.35" fill="#ff0000"/><circle cx="1041.16" cy="84.2" r="2.35" fill="#ff0000"/><circle cx="1047.23" cy="83.3" r="2.35" fill="#ff0000"/><circle cx="1053.31" cy="82.3" r="2.35" fill="#ff0000"/><circle cx="1059.38" cy="81.3" r="2.35" fill="#ff0000"/><circle cx="1065.46" cy="80.4" r="2.35" fill="#ff0000"/><circle cx="1071.54" cy="79" r="2.35" fill="#ff0000"/><circle cx="1077.61" cy="78" r="2.35" fill="#ff0000"/><circle cx="1083.69" cy="77.4" r="2.35" fill="#ff0000"/><circle cx="1089.76" cy="77" r="2.35" fill="#ff0000"/><circle cx="1095.84" cy="77.4" r="2.35" fill="#ff0000"/><circle cx="1101.91" cy="80.4" r="2.35" fill="#ff0000"/><circle cx="1107.99" cy="84.8" r="2.35" fill="#ff0000"/><circle cx="1114.06" cy="89.1" r="2.35" fill="#ff0000"/><circle cx="1120.14" cy="91.5" r="2.35" fill="#ff0000"/><circle cx="1126.22" cy="87.2" r="2.35" fill="#ff0000"/><circle cx="1132.29" cy="81.3" r="2.35" fill="#ff0000"/><circle cx="1138.37" cy="79" r="2.35" fill="#ff0000"/><circle cx="1144.44" cy="78" r="2.35" fill="#ff0000"/><circle cx="1150.52" cy="77.8" r="2.35" fill="#ff0000"/><circle cx="1156.59" cy="77.8" r="2.35" fill="#ff0000"/><circle cx="1162.67" cy="77.8" r="2.35" fill="#ff0000"/><circle cx="1168.74" cy="77.4" r="2.35" fill="#ff0000"/><circle cx="1174.82" cy="74.9" r="2.35" fill="#ff0000"/><circle cx="1180.89" cy="79.4" r="2.35" fill="#ff0000"/><circle cx="1186.97" cy="98.5" r="2.35" fill="#ff0000"/><circle cx="1193.05" cy="118.3" r="2.35" fill="#ff0000"/><circle cx="1199.12" cy="127.7" r="2.35" fill="#ff0000"/><circle cx="1205.2" cy="141.8" r="2.35" fill="#ff0000"/><circle cx="1211.27" cy="177" r="2.35" fill="#ff0000"/><circle cx="1217.35" cy="229.4" r="2.35" fill="#ff0000"/><circle cx="1223.42" cy="287.9" r="2.35" fill="#ff0000"/><circle cx="1229.5" cy="336.6" r="2.35" fill="#ff0000"/><circle cx="1235.57" cy="362" r="2.35" fill="#ff0000"/><circle cx="1241.65" cy="370.5" r="2.35" fill="#ff0000"/><circle cx="1247.72" cy="371.7" r="2.35" fill="#ff0000"/><circle cx="1253.8" cy="373.8" r="2.35" fill="#ff0000"/></g>
<g><path d="M937.88 374 L943.95 388 L950.03 357.7 L956.1 300.5 L962.18 230.7 L968.25 166.3 L974.33 118.3 L980.4 95.9 L986.48 87.2 L992.55 80.9 L998.63 75.1 L1004.71 72.6 L1010.78 72.6 L1016.86 73.1 L1022.93 74.1 L1029.01 74.5 L1035.08 74.1 L1041.16 73.9 L1047.23 73.5 L1053.31 73.1 L1059.38 72.9 L1065.46 72.6 L1071.54 72.2 L1077.61 72 L1083.69 71.6 L1089.76 71.6 L1095.84 72 L1101.91 73.1 L1107.99 74.1 L1114.06 74.5 L1120.14 73.9 L1126.22 73.5 L1132.29 73.1 L1138.37 73.1 L1144.44 72.9 L1150.52 72.6 L1156.59 72.2 L1162.67 72 L1168.74 71.6 L1174.82 70.6 L1180.89 71.6 L1186.97 79.8 L1193.05 87.6 L1199.12 92.6 L1205.2 98.9 L1211.27 113.5 L1217.35 144.2 L1223.42 197.5 L1229.5 259.7 L1235.57 315.6 L1241.65 357.9 L1247.72 378.9 L1253.8 373.6" fill="none" stroke="#000000" stroke-width="1.4" stroke-dasharray="9.2 3.6 2 3.6" clip-path="url(#clipc)"/><circle cx="937.88" cy="374" r="2.35" fill="#000000"/><circle cx="950.03" cy="357.7" r="2.35" fill="#000000"/><circle cx="956.1" cy="300.5" r="2.35" fill="#000000"/><circle cx="962.18" cy="230.7" r="2.35" fill="#000000"/><circle cx="968.25" cy="166.3" r="2.35" fill="#000000"/><circle cx="974.33" cy="118.3" r="2.35" fill="#000000"/><circle cx="980.4" cy="95.9" r="2.35" fill="#000000"/><circle cx="986.48" cy="87.2" r="2.35" fill="#000000"/><circle cx="992.55" cy="80.9" r="2.35" fill="#000000"/><circle cx="998.63" cy="75.1" r="2.35" fill="#000000"/><circle cx="1004.71" cy="72.6" r="2.35" fill="#000000"/><circle cx="1010.78" cy="72.6" r="2.35" fill="#000000"/><circle cx="1016.86" cy="73.1" r="2.35" fill="#000000"/><circle cx="1022.93" cy="74.1" r="2.35" fill="#000000"/><circle cx="1029.01" cy="74.5" r="2.35" fill="#000000"/><circle cx="1035.08" cy="74.1" r="2.35" fill="#000000"/><circle cx="1041.16" cy="73.9" r="2.35" fill="#000000"/><circle cx="1047.23" cy="73.5" r="2.35" fill="#000000"/><circle cx="1053.31" cy="73.1" r="2.35" fill="#000000"/><circle cx="1059.38" cy="72.9" r="2.35" fill="#000000"/><circle cx="1065.46" cy="72.6" r="2.35" fill="#000000"/><circle cx="1071.54" cy="72.2" r="2.35" fill="#000000"/><circle cx="1077.61" cy="72" r="2.35" fill="#000000"/><circle cx="1083.69" cy="71.6" r="2.35" fill="#000000"/><circle cx="1089.76" cy="71.6" r="2.35" fill="#000000"/><circle cx="1095.84" cy="72" r="2.35" fill="#000000"/><circle cx="1101.91" cy="73.1" r="2.35" fill="#000000"/><circle cx="1107.99" cy="74.1" r="2.35" fill="#000000"/><circle cx="1114.06" cy="74.5" r="2.35" fill="#000000"/><circle cx="1120.14" cy="73.9" r="2.35" fill="#000000"/><circle cx="1126.22" cy="73.5" r="2.35" fill="#000000"/><circle cx="1132.29" cy="73.1" r="2.35" fill="#000000"/><circle cx="1138.37" cy="73.1" r="2.35" fill="#000000"/><circle cx="1144.44" cy="72.9" r="2.35" fill="#000000"/><circle cx="1150.52" cy="72.6" r="2.35" fill="#000000"/><circle cx="1156.59" cy="72.2" r="2.35" fill="#000000"/><circle cx="1162.67" cy="72" r="2.35" fill="#000000"/><circle cx="1168.74" cy="71.6" r="2.35" fill="#000000"/><circle cx="1174.82" cy="70.6" r="2.35" fill="#000000"/><circle cx="1180.89" cy="71.6" r="2.35" fill="#000000"/><circle cx="1186.97" cy="79.8" r="2.35" fill="#000000"/><circle cx="1193.05" cy="87.6" r="2.35" fill="#000000"/><circle cx="1199.12" cy="92.6" r="2.35" fill="#000000"/><circle cx="1205.2" cy="98.9" r="2.35" fill="#000000"/><circle cx="1211.27" cy="113.5" r="2.35" fill="#000000"/><circle cx="1217.35" cy="144.2" r="2.35" fill="#000000"/><circle cx="1223.42" cy="197.5" r="2.35" fill="#000000"/><circle cx="1229.5" cy="259.7" r="2.35" fill="#000000"/><circle cx="1235.57" cy="315.6" r="2.35" fill="#000000"/><circle cx="1241.65" cy="357.9" r="2.35" fill="#000000"/><circle cx="1247.72" cy="378.9" r="2.35" fill="#000000"/><circle cx="1253.8" cy="373.6" r="2.35" fill="#000000"/></g>
<rect x="931.8" y="59.6" width="322" height="323.2" fill="none" stroke="#262626" stroke-width="1.2"/>
<path d="M937.88 382.8V379.5M937.88 59.6V62.9M974.33 382.8V379.5M974.33 59.6V62.9M1010.78 382.8V379.5M1010.78 59.6V62.9M1047.23 382.8V379.5M1047.23 59.6V62.9M1083.69 382.8V379.5M1083.69 59.6V62.9M1120.14 382.8V379.5M1120.14 59.6V62.9M1156.59 382.8V379.5M1156.59 59.6V62.9M1193.05 382.8V379.5M1193.05 59.6V62.9M1229.5 382.8V379.5M1229.5 59.6V62.9M931.8 374H935.1M1253.8 374H1250.5M931.8 323.5H935.1M1253.8 323.5H1250.5M931.8 272.99H935.1M1253.8 272.99H1250.5M931.8 222.49H935.1M1253.8 222.49H1250.5M931.8 171.98H935.1M1253.8 171.98H1250.5M931.8 121.48H935.1M1253.8 121.48H1250.5M931.8 70.97H935.1M1253.8 70.97H1250.5" stroke="#262626" stroke-width="1.2" fill="none"/>
<text transform="translate(937.88 411) scale(0.975 1)" class="tl" text-anchor="middle">1</text>
<text transform="translate(974.33 411) scale(0.975 1)" class="tl" text-anchor="middle">4</text>
<text transform="translate(1010.78 411) scale(0.975 1)" class="tl" text-anchor="middle">7</text>
<text transform="translate(1047.23 411) scale(0.975 1)" class="tl" text-anchor="middle">10</text>
<text transform="translate(1083.69 411) scale(0.975 1)" class="tl" text-anchor="middle">13</text>
<text transform="translate(1120.14 411) scale(0.975 1)" class="tl" text-anchor="middle">16</text>
<text transform="translate(1156.59 411) scale(0.975 1)" class="tl" text-anchor="middle">19</text>
<text transform="translate(1193.05 411) scale(0.975 1)" class="tl" text-anchor="middle">22</text>
<text transform="translate(1229.5 411) scale(0.975 1)" class="tl" text-anchor="middle">25</text>
<text transform="translate(924.1 382.7) scale(0.975 1)" class="tl" text-anchor="end">2.47</text>
<text transform="translate(924.1 332.2) scale(0.975 1)" class="tl" text-anchor="end">2.6</text>
<text transform="translate(924.1 281.69) scale(0.975 1)" class="tl" text-anchor="end">2.73</text>
<text transform="translate(924.1 231.19) scale(0.975 1)" class="tl" text-anchor="end">2.86</text>
<text transform="translate(924.1 180.68) scale(0.975 1)" class="tl" text-anchor="end">2.99</text>
<text transform="translate(924.1 130.18) scale(0.975 1)" class="tl" text-anchor="end">3.12</text>
<text transform="translate(924.1 79.67) scale(0.975 1)" class="tl" text-anchor="end">3.25</text>
<text x="1092.8" y="442" class="lb" text-anchor="middle">x(grid)</text>
<text x="1092.8" y="475" class="lb" text-anchor="middle">(c)</text>
<text transform="translate(871.7 221.4) rotate(-90)" class="lb" style="font-size:23px" text-anchor="middle">er(z)</text>
<g><path d="M1361.21 374.1 L1365.62 374.1 L1370.03 374.1 L1374.44 374.1 L1378.85 374.1 L1383.27 374.1 L1387.68 374.1 L1392.09 374.1 L1396.5 374.1 L1400.91 374.1 L1405.32 374.1 L1409.73 374.1 L1414.14 374.1 L1418.55 374.1 L1422.96 374.1 L1427.38 374.1 L1431.79 374.1 L1436.2 374.1 L1440.61 374.1 L1445.02 374.1 L1449.43 374.1 L1453.84 374.1 L1458.25 374.1 L1462.66 374.1 L1467.07 374.1 L1471.48 374.1 L1475.9 374.1 L1480.31 374.1 L1484.72 374.1 L1489.13 374.1 L1493.54 374.1 L1497.95 374.1 L1502.36 374.1 L1506.77 374.1 L1511.18 374.1 L1515.59 374.1 L1520.01 374.1 L1524.42 374.1 L1528.83 374.1 L1533.24 374.1 L1537.65 374.1 L1542.06 374.1 L1546.47 374.1 L1550.88 374.1 L1555.29 374.1 L1559.7 374.1 L1564.12 374.1 L1568.53 374.1 L1572.94 374.1 L1577.35 374.1 L1581.76 374.1 L1586.17 374.1 L1590.58 374.1 L1594.99 374.1 L1599.4 374.1 L1603.81 374.1 L1608.22 374.1 L1612.64 374.1 L1617.05 374.1 L1621.46 374.1 L1625.87 374.1 L1630.28 374.1 L1634.69 374.1 L1639.1 374.1 L1643.51 374.1 L1647.92 374.1 L1652.33 374.1 L1656.75 374.1 L1661.16 374.1 L1665.57 374.1 L1669.98 374.1 L1674.39 374.1 L1678.8 374.1" fill="none" stroke="#ff0000" stroke-width="1.4" clip-path="url(#clipd)"/></g>
<g><path d="M1361.21 374.1 L1365.62 374.1 L1370.03 374.1 L1374.44 374.1 L1378.85 374.1 L1383.27 374.1 L1387.68 374.1 L1392.09 374.1 L1396.5 374.1 L1400.91 374.1 L1405.32 374.1 L1409.73 374.1 L1414.14 374.1 L1418.55 374.1 L1422.96 374.1 L1427.38 374.1 L1431.79 374.1 L1436.2 374.1 L1440.61 374.1 L1445.02 374.1 L1449.43 374.1 L1453.84 374.1 L1458.25 374.1 L1462.66 374.1 L1467.07 374.1 L1471.48 374.1 L1475.9 374.1 L1480.31 374.1 L1484.72 374.1 L1489.13 374.1 L1493.54 374.1 L1497.95 374.1 L1502.36 374.1 L1506.77 374.1 L1511.18 374.1 L1515.59 374.1 L1520.01 374.1 L1524.42 374.1 L1528.83 374.1 L1533.24 374.1 L1537.65 374.1 L1542.06 374.1 L1546.47 374.1 L1550.88 374.1 L1555.29 374.1 L1559.7 374.1 L1564.12 374.1 L1568.53 374.1 L1572.94 374.1 L1577.35 374.1 L1581.76 374.1 L1586.17 374.1 L1590.58 374.1 L1594.99 374.1 L1599.4 374.1 L1603.81 374.1 L1608.22 374.1 L1612.64 374.1 L1617.05 374.1 L1621.46 374.1 L1625.87 374.1 L1630.28 374.1 L1634.69 374.1 L1639.1 374.1 L1643.51 374.1 L1647.92 374.1 L1652.33 374.1 L1656.75 374.1 L1661.16 374.1 L1665.57 374.1 L1669.98 374.1 L1674.39 374.1 L1678.8 374.1" fill="none" stroke="#00ff00" stroke-width="1.4" stroke-dasharray="11.5 6.8" clip-path="url(#clipd)"/></g>
<g><path d="M1361.21 374 L1365.62 373.9 L1370.03 373.65 L1374.44 373.17 L1378.85 372.1 L1383.27 370.33 L1387.68 368.2 L1392.09 365.76 L1396.5 364.3 L1400.91 366.49 L1405.32 368.82 L1409.73 370.22 L1414.14 370.78 L1418.55 371.16 L1422.96 371.44 L1427.38 371.62 L1431.79 371.7 L1436.2 371.72 L1440.61 371.74 L1445.02 371.76 L1449.43 371.78 L1453.84 371.79 L1458.25 371.81 L1462.66 371.82 L1467.07 371.83 L1471.48 371.84 L1475.9 371.85 L1480.31 371.85 L1484.72 371.86 L1489.13 371.87 L1493.54 371.87 L1497.95 371.87 L1502.36 371.88 L1506.77 371.88 L1511.18 371.88 L1515.59 371.88 L1520.01 371.89 L1524.42 371.89 L1528.83 371.89 L1533.24 371.89 L1537.65 371.89 L1542.06 371.89 L1546.47 371.89 L1550.88 371.9 L1555.29 371.9 L1559.7 371.9 L1564.12 371.91 L1568.53 371.91 L1572.94 371.92 L1577.35 371.93 L1581.76 371.94 L1586.17 371.94 L1590.58 371.96 L1594.99 371.97 L1599.4 371.98 L1603.81 372 L1608.22 372.01 L1612.64 372.03 L1617.05 372.05 L1621.46 372.08 L1625.87 372.1 L1630.28 373.06 L1634.69 374 L1639.1 374 L1643.51 374 L1647.92 374 L1652.33 374 L1656.75 374 L1661.16 374 L1665.57 374 L1669.98 374 L1674.39 374 L1678.8 374" fill="none" stroke="#0000ff" stroke-width="1.4" stroke-dasharray="9.2 3.6 2 3.6" clip-path="url(#clipd)"/></g>
<g><path d="M1361.21 374 L1365.62 373.95 L1370.03 373.79 L1374.44 373.5 L1378.85 370.55 L1383.27 363.64 L1387.68 352.45 L1392.09 341.9 L1396.5 337 L1400.91 341.17 L1405.32 346.41 L1409.73 350.49 L1414.14 352.99 L1418.55 354.72 L1422.96 355.97 L1427.38 357.11 L1431.79 357.91 L1436.2 358.06 L1440.61 357.53 L1445.02 356.74 L1449.43 355.98 L1453.84 355.07 L1458.25 354.2 L1462.66 353.6 L1467.07 353.23 L1471.48 352.91 L1475.9 352.68 L1480.31 352.6 L1484.72 352.7 L1489.13 352.97 L1493.54 353.31 L1497.95 353.68 L1502.36 353.99 L1506.77 354.18 L1511.18 354.18 L1515.59 354.03 L1520.01 353.8 L1524.42 353.53 L1528.83 353.27 L1533.24 353.08 L1537.65 353 L1542.06 353.03 L1546.47 353.12 L1550.88 353.24 L1555.29 353.36 L1559.7 353.48 L1564.12 353.57 L1568.53 353.6 L1572.94 353.6 L1577.35 353.6 L1581.76 353.6 L1586.17 353.6 L1590.58 353.6 L1594.99 353.6 L1599.4 353.6 L1603.81 353.6 L1608.22 353.64 L1612.64 354.04 L1617.05 354.82 L1621.46 356.21 L1625.87 360.4 L1630.28 368.2 L1634.69 373.1 L1639.1 374 L1643.51 374 L1647.92 374 L1652.33 374 L1656.75 374 L1661.16 374 L1665.57 374 L1669.98 374 L1674.39 374 L1678.8 374" fill="none" stroke="#ff0000" stroke-width="1.4" stroke-dasharray="1.4 3.15" clip-path="url(#clipd)"/></g>
<g><path d="M1361.21 374 L1365.62 374 L1370.03 374 L1374.44 371 L1378.85 367.2 L1383.27 360.4 L1387.68 340.5 L1392.09 303.7 L1396.5 271.4 L1400.91 263.6 L1405.32 268.8 L1409.73 271.2 L1414.14 270.4 L1418.55 270.4 L1422.96 271.8 L1427.38 274.7 L1431.79 276.6 L1436.2 278.6 L1440.61 279.9 L1445.02 280.1 L1449.43 279.2 L1453.84 277.2 L1458.25 275.3 L1462.66 272.7 L1467.07 271.2 L1471.48 270.4 L1475.9 270.46 L1480.31 270.61 L1484.72 270.83 L1489.13 271.06 L1493.54 271.28 L1497.95 271.45 L1502.36 271.55 L1506.77 271.63 L1511.18 271.71 L1515.59 271.78 L1520.01 271.85 L1524.42 271.9 L1528.83 271.95 L1533.24 271.98 L1537.65 272 L1542.06 271.99 L1546.47 271.94 L1550.88 271.85 L1555.29 271.74 L1559.7 271.61 L1564.12 271.48 L1568.53 271.36 L1572.94 271.27 L1577.35 271.21 L1581.76 271.2 L1586.17 271.2 L1590.58 271.21 L1594.99 271.21 L1599.4 271.23 L1603.81 271.25 L1608.22 271.27 L1612.64 271.31 L1617.05 271.35 L1621.46 271.4 L1625.87 275.3 L1630.28 286 L1634.69 308.8 L1639.1 344.8 L1643.51 374 L1647.92 379.9 L1652.33 373.6 L1656.75 371.1 L1661.16 373 L1665.57 373.45 L1669.98 373.76 L1674.39 373.94 L1678.8 374" fill="none" stroke="#00ff00" stroke-width="1.4" clip-path="url(#clipd)"/><circle cx="1361.21" cy="374" r="2.35" fill="#00ff00"/><circle cx="1365.62" cy="374" r="2.35" fill="#00ff00"/><circle cx="1370.03" cy="374" r="2.35" fill="#00ff00"/><circle cx="1374.44" cy="371" r="2.35" fill="#00ff00"/><circle cx="1378.85" cy="367.2" r="2.35" fill="#00ff00"/><circle cx="1383.27" cy="360.4" r="2.35" fill="#00ff00"/><circle cx="1387.68" cy="340.5" r="2.35" fill="#00ff00"/><circle cx="1392.09" cy="303.7" r="2.35" fill="#00ff00"/><circle cx="1396.5" cy="271.4" r="2.35" fill="#00ff00"/><circle cx="1400.91" cy="263.6" r="2.35" fill="#00ff00"/><circle cx="1405.32" cy="268.8" r="2.35" fill="#00ff00"/><circle cx="1409.73" cy="271.2" r="2.35" fill="#00ff00"/><circle cx="1414.14" cy="270.4" r="2.35" fill="#00ff00"/><circle cx="1418.55" cy="270.4" r="2.35" fill="#00ff00"/><circle cx="1422.96" cy="271.8" r="2.35" fill="#00ff00"/><circle cx="1427.38" cy="274.7" r="2.35" fill="#00ff00"/><circle cx="1431.79" cy="276.6" r="2.35" fill="#00ff00"/><circle cx="1436.2" cy="278.6" r="2.35" fill="#00ff00"/><circle cx="1440.61" cy="279.9" r="2.35" fill="#00ff00"/><circle cx="1445.02" cy="280.1" r="2.35" fill="#00ff00"/><circle cx="1449.43" cy="279.2" r="2.35" fill="#00ff00"/><circle cx="1453.84" cy="277.2" r="2.35" fill="#00ff00"/><circle cx="1458.25" cy="275.3" r="2.35" fill="#00ff00"/><circle cx="1462.66" cy="272.7" r="2.35" fill="#00ff00"/><circle cx="1467.07" cy="271.2" r="2.35" fill="#00ff00"/><circle cx="1471.48" cy="270.4" r="2.35" fill="#00ff00"/><circle cx="1475.9" cy="270.46" r="2.35" fill="#00ff00"/><circle cx="1480.31" cy="270.61" r="2.35" fill="#00ff00"/><circle cx="1484.72" cy="270.83" r="2.35" fill="#00ff00"/><circle cx="1489.13" cy="271.06" r="2.35" fill="#00ff00"/><circle cx="1493.54" cy="271.28" r="2.35" fill="#00ff00"/><circle cx="1497.95" cy="271.45" r="2.35" fill="#00ff00"/><circle cx="1502.36" cy="271.55" r="2.35" fill="#00ff00"/><circle cx="1506.77" cy="271.63" r="2.35" fill="#00ff00"/><circle cx="1511.18" cy="271.71" r="2.35" fill="#00ff00"/><circle cx="1515.59" cy="271.78" r="2.35" fill="#00ff00"/><circle cx="1520.01" cy="271.85" r="2.35" fill="#00ff00"/><circle cx="1524.42" cy="271.9" r="2.35" fill="#00ff00"/><circle cx="1528.83" cy="271.95" r="2.35" fill="#00ff00"/><circle cx="1533.24" cy="271.98" r="2.35" fill="#00ff00"/><circle cx="1537.65" cy="272" r="2.35" fill="#00ff00"/><circle cx="1542.06" cy="271.99" r="2.35" fill="#00ff00"/><circle cx="1546.47" cy="271.94" r="2.35" fill="#00ff00"/><circle cx="1550.88" cy="271.85" r="2.35" fill="#00ff00"/><circle cx="1555.29" cy="271.74" r="2.35" fill="#00ff00"/><circle cx="1559.7" cy="271.61" r="2.35" fill="#00ff00"/><circle cx="1564.12" cy="271.48" r="2.35" fill="#00ff00"/><circle cx="1568.53" cy="271.36" r="2.35" fill="#00ff00"/><circle cx="1572.94" cy="271.27" r="2.35" fill="#00ff00"/><circle cx="1577.35" cy="271.21" r="2.35" fill="#00ff00"/><circle cx="1581.76" cy="271.2" r="2.35" fill="#00ff00"/><circle cx="1586.17" cy="271.2" r="2.35" fill="#00ff00"/><circle cx="1590.58" cy="271.21" r="2.35" fill="#00ff00"/><circle cx="1594.99" cy="271.21" r="2.35" fill="#00ff00"/><circle cx="1599.4" cy="271.23" r="2.35" fill="#00ff00"/><circle cx="1603.81" cy="271.25" r="2.35" fill="#00ff00"/><circle cx="1608.22" cy="271.27" r="2.35" fill="#00ff00"/><circle cx="1612.64" cy="271.31" r="2.35" fill="#00ff00"/><circle cx="1617.05" cy="271.35" r="2.35" fill="#00ff00"/><circle cx="1621.46" cy="271.4" r="2.35" fill="#00ff00"/><circle cx="1625.87" cy="275.3" r="2.35" fill="#00ff00"/><circle cx="1630.28" cy="286" r="2.35" fill="#00ff00"/><circle cx="1634.69" cy="308.8" r="2.35" fill="#00ff00"/><circle cx="1639.1" cy="344.8" r="2.35" fill="#00ff00"/><circle cx="1643.51" cy="374" r="2.35" fill="#00ff00"/><circle cx="1647.92" cy="379.9" r="2.35" fill="#00ff00"/><circle cx="1652.33" cy="373.6" r="2.35" fill="#00ff00"/><circle cx="1656.75" cy="371.1" r="2.35" fill="#00ff00"/><circle cx="1661.16" cy="373" r="2.35" fill="#00ff00"/><circle cx="1665.57" cy="373.45" r="2.35" fill="#00ff00"/><circle cx="1669.98" cy="373.76" r="2.35" fill="#00ff00"/><circle cx="1674.39" cy="373.94" r="2.35" fill="#00ff00"/><circle cx="1678.8" cy="374" r="2.35" fill="#00ff00"/></g>
<g><path d="M1361.21 374 L1365.62 372 L1370.03 369.2 L1374.44 363.3 L1378.85 331.2 L1383.27 269.4 L1387.68 213.6 L1392.09 196.1 L1396.5 199.4 L1400.91 200.4 L1405.32 197.9 L1409.73 197.1 L1414.14 197.23 L1418.55 197.5 L1422.96 197.9 L1427.38 198.8 L1431.79 200 L1436.2 200.8 L1440.61 201.4 L1445.02 201.4 L1449.43 200.4 L1453.84 198.8 L1458.25 197.9 L1462.66 197.5 L1467.07 197.46 L1471.48 197.41 L1475.9 197.37 L1480.31 197.34 L1484.72 197.3 L1489.13 197.27 L1493.54 197.24 L1497.95 197.21 L1502.36 197.18 L1506.77 197.15 L1511.18 197.13 L1515.59 197.1 L1520.01 197.08 L1524.42 197.06 L1528.83 197.04 L1533.24 197.03 L1537.65 197.01 L1542.06 197 L1546.47 196.98 L1550.88 196.97 L1555.29 196.96 L1559.7 196.95 L1564.12 196.94 L1568.53 196.94 L1572.94 196.93 L1577.35 196.92 L1581.76 196.92 L1586.17 196.91 L1590.58 196.91 L1594.99 196.91 L1599.4 196.9 L1603.81 196.9 L1608.22 196.9 L1612.64 196.9 L1617.05 196.9 L1621.46 196.9 L1625.87 202 L1630.28 218.3 L1634.69 242.9 L1639.1 269.4 L1643.51 294.7 L1647.92 317.5 L1652.33 340.9 L1656.75 362 L1661.16 372 L1665.57 376 L1669.98 375.93 L1674.39 375.41 L1678.8 374" fill="none" stroke="#ff00ff" stroke-width="1.4" stroke-dasharray="9.2 3.6 2 3.6" clip-path="url(#clipd)"/><circle cx="1361.21" cy="374" r="2.35" fill="#ff00ff"/><circle cx="1365.62" cy="372" r="2.35" fill="#ff00ff"/><circle cx="1370.03" cy="369.2" r="2.35" fill="#ff00ff"/><circle cx="1374.44" cy="363.3" r="2.35" fill="#ff00ff"/><circle cx="1378.85" cy="331.2" r="2.35" fill="#ff00ff"/><circle cx="1383.27" cy="269.4" r="2.35" fill="#ff00ff"/><circle cx="1387.68" cy="213.6" r="2.35" fill="#ff00ff"/><circle cx="1392.09" cy="196.1" r="2.35" fill="#ff00ff"/><circle cx="1396.5" cy="199.4" r="2.35" fill="#ff00ff"/><circle cx="1400.91" cy="200.4" r="2.35" fill="#ff00ff"/><circle cx="1405.32" cy="197.9" r="2.35" fill="#ff00ff"/><circle cx="1409.73" cy="197.1" r="2.35" fill="#ff00ff"/><circle cx="1414.14" cy="197.23" r="2.35" fill="#ff00ff"/><circle cx="1418.55" cy="197.5" r="2.35" fill="#ff00ff"/><circle cx="1422.96" cy="197.9" r="2.35" fill="#ff00ff"/><circle cx="1427.38" cy="198.8" r="2.35" fill="#ff00ff"/><circle cx="1431.79" cy="200" r="2.35" fill="#ff00ff"/><circle cx="1436.2" cy="200.8" r="2.35" fill="#ff00ff"/><circle cx="1440.61" cy="201.4" r="2.35" fill="#ff00ff"/><circle cx="1445.02" cy="201.4" r="2.35" fill="#ff00ff"/><circle cx="1449.43" cy="200.4" r="2.35" fill="#ff00ff"/><circle cx="1453.84" cy="198.8" r="2.35" fill="#ff00ff"/><circle cx="1458.25" cy="197.9" r="2.35" fill="#ff00ff"/><circle cx="1462.66" cy="197.5" r="2.35" fill="#ff00ff"/><circle cx="1467.07" cy="197.46" r="2.35" fill="#ff00ff"/><circle cx="1471.48" cy="197.41" r="2.35" fill="#ff00ff"/><circle cx="1475.9" cy="197.37" r="2.35" fill="#ff00ff"/><circle cx="1480.31" cy="197.34" r="2.35" fill="#ff00ff"/><circle cx="1484.72" cy="197.3" r="2.35" fill="#ff00ff"/><circle cx="1489.13" cy="197.27" r="2.35" fill="#ff00ff"/><circle cx="1493.54" cy="197.24" r="2.35" fill="#ff00ff"/><circle cx="1497.95" cy="197.21" r="2.35" fill="#ff00ff"/><circle cx="1502.36" cy="197.18" r="2.35" fill="#ff00ff"/><circle cx="1506.77" cy="197.15" r="2.35" fill="#ff00ff"/><circle cx="1511.18" cy="197.13" r="2.35" fill="#ff00ff"/><circle cx="1515.59" cy="197.1" r="2.35" fill="#ff00ff"/><circle cx="1520.01" cy="197.08" r="2.35" fill="#ff00ff"/><circle cx="1524.42" cy="197.06" r="2.35" fill="#ff00ff"/><circle cx="1528.83" cy="197.04" r="2.35" fill="#ff00ff"/><circle cx="1533.24" cy="197.03" r="2.35" fill="#ff00ff"/><circle cx="1537.65" cy="197.01" r="2.35" fill="#ff00ff"/><circle cx="1542.06" cy="197" r="2.35" fill="#ff00ff"/><circle cx="1546.47" cy="196.98" r="2.35" fill="#ff00ff"/><circle cx="1550.88" cy="196.97" r="2.35" fill="#ff00ff"/><circle cx="1555.29" cy="196.96" r="2.35" fill="#ff00ff"/><circle cx="1559.7" cy="196.95" r="2.35" fill="#ff00ff"/><circle cx="1564.12" cy="196.94" r="2.35" fill="#ff00ff"/><circle cx="1568.53" cy="196.94" r="2.35" fill="#ff00ff"/><circle cx="1572.94" cy="196.93" r="2.35" fill="#ff00ff"/><circle cx="1577.35" cy="196.92" r="2.35" fill="#ff00ff"/><circle cx="1581.76" cy="196.92" r="2.35" fill="#ff00ff"/><circle cx="1586.17" cy="196.91" r="2.35" fill="#ff00ff"/><circle cx="1590.58" cy="196.91" r="2.35" fill="#ff00ff"/><circle cx="1594.99" cy="196.91" r="2.35" fill="#ff00ff"/><circle cx="1599.4" cy="196.9" r="2.35" fill="#ff00ff"/><circle cx="1603.81" cy="196.9" r="2.35" fill="#ff00ff"/><circle cx="1608.22" cy="196.9" r="2.35" fill="#ff00ff"/><circle cx="1612.64" cy="196.9" r="2.35" fill="#ff00ff"/><circle cx="1617.05" cy="196.9" r="2.35" fill="#ff00ff"/><circle cx="1621.46" cy="196.9" r="2.35" fill="#ff00ff"/><circle cx="1625.87" cy="202" r="2.35" fill="#ff00ff"/><circle cx="1630.28" cy="218.3" r="2.35" fill="#ff00ff"/><circle cx="1634.69" cy="242.9" r="2.35" fill="#ff00ff"/><circle cx="1639.1" cy="269.4" r="2.35" fill="#ff00ff"/><circle cx="1643.51" cy="294.7" r="2.35" fill="#ff00ff"/><circle cx="1647.92" cy="317.5" r="2.35" fill="#ff00ff"/><circle cx="1652.33" cy="340.9" r="2.35" fill="#ff00ff"/><circle cx="1656.75" cy="362" r="2.35" fill="#ff00ff"/><circle cx="1661.16" cy="372" r="2.35" fill="#ff00ff"/><circle cx="1665.57" cy="376" r="2.35" fill="#ff00ff"/><circle cx="1669.98" cy="375.93" r="2.35" fill="#ff00ff"/><circle cx="1674.39" cy="375.41" r="2.35" fill="#ff00ff"/><circle cx="1678.8" cy="374" r="2.35" fill="#ff00ff"/></g>
<g><path d="M1361.21 374 L1365.62 374 L1370.03 368 L1374.44 330.2 L1378.85 272.7 L1383.27 199.4 L1387.68 141.9 L1392.09 123.2 L1396.5 124.6 L1400.91 123.6 L1405.32 123.2 L1409.73 134.5 L1414.14 148.7 L1418.55 158.9 L1422.96 162.8 L1427.38 160.8 L1431.79 154.6 L1436.2 146.4 L1440.61 137.8 L1445.02 130 L1449.43 124.8 L1453.84 122.6 L1458.25 121.8 L1462.66 121.8 L1467.07 120.9 L1471.48 119.3 L1475.9 123.2 L1480.31 133.9 L1484.72 147.7 L1489.13 157.1 L1493.54 161.4 L1497.95 161.4 L1502.36 158.9 L1506.77 152.7 L1511.18 143 L1515.59 131.6 L1520.01 122.8 L1524.42 120.3 L1528.83 121.3 L1533.24 122.2 L1537.65 121.3 L1542.06 119.3 L1546.47 122.8 L1550.88 133.5 L1555.29 146.7 L1559.7 155.6 L1564.12 160.5 L1568.53 163.4 L1572.94 164.4 L1577.35 163 L1581.76 155.2 L1586.17 138.8 L1590.58 123.2 L1594.99 119.3 L1599.4 121.3 L1603.81 122.2 L1608.22 121.3 L1612.64 119.3 L1617.05 123.2 L1621.46 134.9 L1625.87 148.7 L1630.28 159.5 L1634.69 168.8 L1639.1 181.9 L1643.51 214 L1647.92 270.8 L1652.33 326.3 L1656.75 360 L1661.16 372 L1665.57 372.97 L1669.98 373.59 L1674.39 373.91 L1678.8 374" fill="none" stroke="#00ff00" stroke-width="1.4" stroke-dasharray="1.4 3.15" clip-path="url(#clipd)"/><circle cx="1361.21" cy="374" r="2.35" fill="#00ff00"/><circle cx="1365.62" cy="374" r="2.35" fill="#00ff00"/><circle cx="1370.03" cy="368" r="2.35" fill="#00ff00"/><circle cx="1374.44" cy="330.2" r="2.35" fill="#00ff00"/><circle cx="1378.85" cy="272.7" r="2.35" fill="#00ff00"/><circle cx="1383.27" cy="199.4" r="2.35" fill="#00ff00"/><circle cx="1387.68" cy="141.9" r="2.35" fill="#00ff00"/><circle cx="1392.09" cy="123.2" r="2.35" fill="#00ff00"/><circle cx="1396.5" cy="124.6" r="2.35" fill="#00ff00"/><circle cx="1400.91" cy="123.6" r="2.35" fill="#00ff00"/><circle cx="1405.32" cy="123.2" r="2.35" fill="#00ff00"/><circle cx="1409.73" cy="134.5" r="2.35" fill="#00ff00"/><circle cx="1414.14" cy="148.7" r="2.35" fill="#00ff00"/><circle cx="1418.55" cy="158.9" r="2.35" fill="#00ff00"/><circle cx="1422.96" cy="162.8" r="2.35" fill="#00ff00"/><circle cx="1427.38" cy="160.8" r="2.35" fill="#00ff00"/><circle cx="1431.79" cy="154.6" r="2.35" fill="#00ff00"/><circle cx="1436.2" cy="146.4" r="2.35" fill="#00ff00"/><circle cx="1440.61" cy="137.8" r="2.35" fill="#00ff00"/><circle cx="1445.02" cy="130" r="2.35" fill="#00ff00"/><circle cx="1449.43" cy="124.8" r="2.35" fill="#00ff00"/><circle cx="1453.84" cy="122.6" r="2.35" fill="#00ff00"/><circle cx="1458.25" cy="121.8" r="2.35" fill="#00ff00"/><circle cx="1462.66" cy="121.8" r="2.35" fill="#00ff00"/><circle cx="1467.07" cy="120.9" r="2.35" fill="#00ff00"/><circle cx="1471.48" cy="119.3" r="2.35" fill="#00ff00"/><circle cx="1475.9" cy="123.2" r="2.35" fill="#00ff00"/><circle cx="1480.31" cy="133.9" r="2.35" fill="#00ff00"/><circle cx="1484.72" cy="147.7" r="2.35" fill="#00ff00"/><circle cx="1489.13" cy="157.1" r="2.35" fill="#00ff00"/><circle cx="1493.54" cy="161.4" r="2.35" fill="#00ff00"/><circle cx="1497.95" cy="161.4" r="2.35" fill="#00ff00"/><circle cx="1502.36" cy="158.9" r="2.35" fill="#00ff00"/><circle cx="1506.77" cy="152.7" r="2.35" fill="#00ff00"/><circle cx="1511.18" cy="143" r="2.35" fill="#00ff00"/><circle cx="1515.59" cy="131.6" r="2.35" fill="#00ff00"/><circle cx="1520.01" cy="122.8" r="2.35" fill="#00ff00"/><circle cx="1524.42" cy="120.3" r="2.35" fill="#00ff00"/><circle cx="1528.83" cy="121.3" r="2.35" fill="#00ff00"/><circle cx="1533.24" cy="122.2" r="2.35" fill="#00ff00"/><circle cx="1537.65" cy="121.3" r="2.35" fill="#00ff00"/><circle cx="1542.06" cy="119.3" r="2.35" fill="#00ff00"/><circle cx="1546.47" cy="122.8" r="2.35" fill="#00ff00"/><circle cx="1550.88" cy="133.5" r="2.35" fill="#00ff00"/><circle cx="1555.29" cy="146.7" r="2.35" fill="#00ff00"/><circle cx="1559.7" cy="155.6" r="2.35" fill="#00ff00"/><circle cx="1564.12" cy="160.5" r="2.35" fill="#00ff00"/><circle cx="1568.53" cy="163.4" r="2.35" fill="#00ff00"/><circle cx="1572.94" cy="164.4" r="2.35" fill="#00ff00"/><circle cx="1577.35" cy="163" r="2.35" fill="#00ff00"/><circle cx="1581.76" cy="155.2" r="2.35" fill="#00ff00"/><circle cx="1586.17" cy="138.8" r="2.35" fill="#00ff00"/><circle cx="1590.58" cy="123.2" r="2.35" fill="#00ff00"/><circle cx="1594.99" cy="119.3" r="2.35" fill="#00ff00"/><circle cx="1599.4" cy="121.3" r="2.35" fill="#00ff00"/><circle cx="1603.81" cy="122.2" r="2.35" fill="#00ff00"/><circle cx="1608.22" cy="121.3" r="2.35" fill="#00ff00"/><circle cx="1612.64" cy="119.3" r="2.35" fill="#00ff00"/><circle cx="1617.05" cy="123.2" r="2.35" fill="#00ff00"/><circle cx="1621.46" cy="134.9" r="2.35" fill="#00ff00"/><circle cx="1625.87" cy="148.7" r="2.35" fill="#00ff00"/><circle cx="1630.28" cy="159.5" r="2.35" fill="#00ff00"/><circle cx="1634.69" cy="168.8" r="2.35" fill="#00ff00"/><circle cx="1639.1" cy="181.9" r="2.35" fill="#00ff00"/><circle cx="1643.51" cy="214" r="2.35" fill="#00ff00"/><circle cx="1647.92" cy="270.8" r="2.35" fill="#00ff00"/><circle cx="1652.33" cy="326.3" r="2.35" fill="#00ff00"/><circle cx="1656.75" cy="360" r="2.35" fill="#00ff00"/><circle cx="1661.16" cy="372" r="2.35" fill="#00ff00"/><circle cx="1665.57" cy="372.97" r="2.35" fill="#00ff00"/><circle cx="1669.98" cy="373.59" r="2.35" fill="#00ff00"/><circle cx="1674.39" cy="373.91" r="2.35" fill="#00ff00"/><circle cx="1678.8" cy="374" r="2.35" fill="#00ff00"/></g>
<g><path d="M1361.21 373.6 L1365.62 398 L1370.03 356.5 L1374.44 292.2 L1378.85 216.6 L1383.27 151.3 L1387.68 108.2 L1392.09 95.9 L1396.5 94 L1400.91 93 L1405.32 92.6 L1409.73 96.5 L1414.14 101.2 L1418.55 106.7 L1422.96 110.9 L1427.38 110.5 L1431.79 108.2 L1436.2 105.1 L1440.61 100.8 L1445.02 96.9 L1449.43 94 L1453.84 93 L1458.25 92.6 L1462.66 92.6 L1467.07 92 L1471.48 91.5 L1475.9 94 L1480.31 98.5 L1484.72 104.7 L1489.13 109 L1493.54 110.5 L1497.95 111.1 L1502.36 110.2 L1506.77 107.6 L1511.18 101.22 L1515.59 96.9 L1520.01 92.62 L1524.42 92 L1528.83 91.7 L1533.24 91.67 L1537.65 91.35 L1542.06 91.41 L1546.47 94.27 L1550.88 99.27 L1555.29 104.7 L1559.7 108.72 L1564.12 111.02 L1568.53 112.61 L1572.94 112.79 L1577.35 110.07 L1581.76 104.25 L1586.17 97.99 L1590.58 93.16 L1594.99 91.7 L1599.4 91.82 L1603.81 92 L1608.22 92 L1612.64 92.14 L1617.05 94.03 L1621.46 99.4 L1625.87 106 L1630.28 112 L1634.69 118 L1639.1 126 L1643.51 147.7 L1647.92 193.6 L1652.33 253.6 L1656.75 313.4 L1661.16 357.9 L1665.57 374 L1669.98 374 L1674.39 374 L1678.8 374" fill="none" stroke="#0000ff" stroke-width="1.4" clip-path="url(#clipd)"/><path d="M1353.91 373.6H1368.51M1361.21 366.3V380.9M1356.05 368.44L1366.37 378.76M1356.05 378.76L1366.37 368.44" stroke="#0000ff" stroke-width="1.2" fill="none"/><path d="M1362.73 356.5H1377.33M1370.03 349.2V363.8M1364.87 351.34L1375.19 361.66M1364.87 361.66L1375.19 351.34" stroke="#0000ff" stroke-width="1.2" fill="none"/><path d="M1367.14 292.2H1381.74M1374.44 284.9V299.5M1369.28 287.04L1379.61 297.36M1369.28 297.36L1379.61 287.04" stroke="#0000ff" stroke-width="1.2" fill="none"/><path d="M1371.55 216.6H1386.15M1378.85 209.3V223.9M1373.69 211.44L1384.02 221.77M1373.69 221.77L1384.02 211.44" stroke="#0000ff" stroke-width="1.2" fill="none"/><path d="M1375.97 151.3H1390.57M1383.27 144V158.6M1378.1 146.14L1388.43 156.46M1378.1 156.46L1388.43 146.14" stroke="#0000ff" stroke-width="1.2" fill="none"/><path d="M1380.38 108.2H1394.98M1387.68 100.9V115.5M1382.51 103.04L1392.84 113.36M1382.51 113.36L1392.84 103.04" stroke="#0000ff" stroke-width="1.2" fill="none"/><path d="M1384.79 95.9H1399.39M1392.09 88.6V103.2M1386.93 90.74L1397.25 101.06M1386.93 101.06L1397.25 90.74" stroke="#0000ff" stroke-width="1.2" fill="none"/><path d="M1389.2 94H1403.8M1396.5 86.7V101.3M1391.34 88.84L1401.66 99.16M1391.34 99.16L1401.66 88.84" stroke="#0000ff" stroke-width="1.2" fill="none"/><path d="M1393.61 93H1408.21M1400.91 85.7V100.3M1395.75 87.84L1406.07 98.16M1395.75 98.16L1406.07 87.84" stroke="#0000ff" stroke-width="1.2" fill="none"/><path d="M1398.02 92.6H1412.62M1405.32 85.3V99.9M1400.16 87.44L1410.48 97.76M1400.16 97.76L1410.48 87.44" stroke="#0000ff" stroke-width="1.2" fill="none"/><path d="M1402.43 96.5H1417.03M1409.73 89.2V103.8M1404.57 91.34L1414.89 101.66M1404.57 101.66L1414.89 91.34" stroke="#0000ff" stroke-width="1.2" fill="none"/><path d="M1406.84 101.2H1421.44M1414.14 93.9V108.5M1408.98 96.04L1419.3 106.36M1408.98 106.36L1419.3 96.04" stroke="#0000ff" stroke-width="1.2" fill="none"/><path d="M1411.25 106.7H1425.85M1418.55 99.4V114M1413.39 101.54L1423.72 111.86M1413.39 111.86L1423.72 101.54" stroke="#0000ff" stroke-width="1.2" fill="none"/><path d="M1415.66 110.9H1430.26M1422.96 103.6V118.2M1417.8 105.74L1428.13 116.06M1417.8 116.06L1428.13 105.74" stroke="#0000ff" stroke-width="1.2" fill="none"/><path d="M1420.08 110.5H1434.68M1427.38 103.2V117.8M1422.21 105.34L1432.54 115.66M1422.21 115.66L1432.54 105.34" stroke="#0000ff" stroke-width="1.2" fill="none"/><path d="M1424.49 108.2H1439.09M1431.79 100.9V115.5M1426.62 103.04L1436.95 113.36M1426.62 113.36L1436.95 103.04" stroke="#0000ff" stroke-width="1.2" fill="none"/><path d="M1428.9 105.1H1443.5M1436.2 97.8V112.4M1431.04 99.94L1441.36 110.26M1431.04 110.26L1441.36 99.94" stroke="#0000ff" stroke-width="1.2" fill="none"/><path d="M1433.31 100.8H1447.91M1440.61 93.5V108.1M1435.45 95.64L1445.77 105.96M1435.45 105.96L1445.77 95.64" stroke="#0000ff" stroke-width="1.2" fill="none"/><path d="M1437.72 96.9H1452.32M1445.02 89.6V104.2M1439.86 91.74L1450.18 102.06M1439.86 102.06L1450.18 91.74" stroke="#0000ff" stroke-width="1.2" fill="none"/><path d="M1442.13 94H1456.73M1449.43 86.7V101.3M1444.27 88.84L1454.59 99.16M1444.27 99.16L1454.59 88.84" stroke="#0000ff" stroke-width="1.2" fill="none"/><path d="M1446.54 93H1461.14M1453.84 85.7V100.3M1448.68 87.84L1459 98.16M1448.68 98.16L1459 87.84" stroke="#0000ff" stroke-width="1.2" fill="none"/><path d="M1450.95 92.6H1465.55M1458.25 85.3V99.9M1453.09 87.44L1463.41 97.76M1453.09 97.76L1463.41 87.44" stroke="#0000ff" stroke-width="1.2" fill="none"/><path d="M1455.36 92.6H1469.96M1462.66 85.3V99.9M1457.5 87.44L1467.82 97.76M1457.5 97.76L1467.82 87.44" stroke="#0000ff" stroke-width="1.2" fill="none"/><path d="M1459.77 92H1474.37M1467.07 84.7V99.3M1461.91 86.84L1472.24 97.16M1461.91 97.16L1472.24 86.84" stroke="#0000ff" stroke-width="1.2" fill="none"/><path d="M1464.18 91.5H1478.78M1471.48 84.2V98.8M1466.32 86.34L1476.65 96.66M1466.32 96.66L1476.65 86.34" stroke="#0000ff" stroke-width="1.2" fill="none"/><path d="M1468.6 94H1483.2M1475.9 86.7V101.3M1470.73 88.84L1481.06 99.16M1470.73 99.16L1481.06 88.84" stroke="#0000ff" stroke-width="1.2" fill="none"/><path d="M1473.01 98.5H1487.61M1480.31 91.2V105.8M1475.15 93.34L1485.47 103.66M1475.15 103.66L1485.47 93.34" stroke="#0000ff" stroke-width="1.2" fill="none"/><path d="M1477.42 104.7H1492.02M1484.72 97.4V112M1479.56 99.54L1489.88 109.86M1479.56 109.86L1489.88 99.54" stroke="#0000ff" stroke-width="1.2" fill="none"/><path d="M1481.83 109H1496.43M1489.13 101.7V116.3M1483.97 103.84L1494.29 114.16M1483.97 114.16L1494.29 103.84" stroke="#0000ff" stroke-width="1.2" fill="none"/><path d="M1486.24 110.5H1500.84M1493.54 103.2V117.8M1488.38 105.34L1498.7 115.66M1488.38 115.66L1498.7 105.34" stroke="#0000ff" stroke-width="1.2" fill="none"/><path d="M1490.65 111.1H1505.25M1497.95 103.8V118.4M1492.79 105.94L1503.11 116.26M1492.79 116.26L1503.11 105.94" stroke="#0000ff" stroke-width="1.2" fill="none"/><path d="M1495.06 110.2H1509.66M1502.36 102.9V117.5M1497.2 105.04L1507.52 115.36M1497.2 115.36L1507.52 105.04" stroke="#0000ff" stroke-width="1.2" fill="none"/><path d="M1499.47 107.6H1514.07M1506.77 100.3V114.9M1501.61 102.44L1511.93 112.76M1501.61 112.76L1511.93 102.44" stroke="#0000ff" stroke-width="1.2" fill="none"/><path d="M1503.88 101.22H1518.48M1511.18 93.92V108.52M1506.02 96.06L1516.35 106.39M1506.02 106.39L1516.35 96.06" stroke="#0000ff" stroke-width="1.2" fill="none"/><path d="M1508.29 96.9H1522.89M1515.59 89.6V104.2M1510.43 91.74L1520.76 102.06M1510.43 102.06L1520.76 91.74" stroke="#0000ff" stroke-width="1.2" fill="none"/><path d="M1512.71 92.62H1527.31M1520.01 85.32V99.92M1514.84 87.46L1525.17 97.78M1514.84 97.78L1525.17 87.46" stroke="#0000ff" stroke-width="1.2" fill="none"/><path d="M1517.12 92H1531.72M1524.42 84.7V99.3M1519.25 86.84L1529.58 97.16M1519.25 97.16L1529.58 86.84" stroke="#0000ff" stroke-width="1.2" fill="none"/><path d="M1521.53 91.7H1536.13M1528.83 84.4V99M1523.67 86.54L1533.99 96.86M1523.67 96.86L1533.99 86.54" stroke="#0000ff" stroke-width="1.2" fill="none"/><path d="M1525.94 91.67H1540.54M1533.24 84.37V98.97M1528.08 86.51L1538.4 96.83M1528.08 96.83L1538.4 86.51" stroke="#0000ff" stroke-width="1.2" fill="none"/><path d="M1530.35 91.35H1544.95M1537.65 84.05V98.65M1532.49 86.19L1542.81 96.51M1532.49 96.51L1542.81 86.19" stroke="#0000ff" stroke-width="1.2" fill="none"/><path d="M1534.76 91.41H1549.36M1542.06 84.11V98.71M1536.9 86.25L1547.22 96.57M1536.9 96.57L1547.22 86.25" stroke="#0000ff" stroke-width="1.2" fill="none"/><path d="M1539.17 94.27H1553.77M1546.47 86.97V101.57M1541.31 89.11L1551.63 99.44M1541.31 99.44L1551.63 89.11" stroke="#0000ff" stroke-width="1.2" fill="none"/><path d="M1543.58 99.27H1558.18M1550.88 91.97V106.57M1545.72 94.11L1556.04 104.43M1545.72 104.43L1556.04 94.11" stroke="#0000ff" stroke-width="1.2" fill="none"/><path d="M1547.99 104.7H1562.59M1555.29 97.4V112M1550.13 99.53L1560.45 109.86M1550.13 109.86L1560.45 99.53" stroke="#0000ff" stroke-width="1.2" fill="none"/><path d="M1552.4 108.72H1567M1559.7 101.42V116.02M1554.54 103.56L1564.87 113.88M1554.54 113.88L1564.87 103.56" stroke="#0000ff" stroke-width="1.2" fill="none"/><path d="M1556.82 111.02H1571.42M1564.12 103.72V118.32M1558.95 105.86L1569.28 116.19M1558.95 116.19L1569.28 105.86" stroke="#0000ff" stroke-width="1.2" fill="none"/><path d="M1561.23 112.61H1575.83M1568.53 105.31V119.91M1563.36 107.45L1573.69 117.77M1563.36 117.77L1573.69 107.45" stroke="#0000ff" stroke-width="1.2" fill="none"/><path d="M1565.64 112.79H1580.24M1572.94 105.49V120.09M1567.78 107.63L1578.1 117.95M1567.78 117.95L1578.1 107.63" stroke="#0000ff" stroke-width="1.2" fill="none"/><path d="M1570.05 110.07H1584.65M1577.35 102.77V117.37M1572.19 104.91L1582.51 115.24M1572.19 115.24L1582.51 104.91" stroke="#0000ff" stroke-width="1.2" fill="none"/><path d="M1574.46 104.25H1589.06M1581.76 96.95V111.55M1576.6 99.09L1586.92 109.42M1576.6 109.42L1586.92 99.09" stroke="#0000ff" stroke-width="1.2" fill="none"/><path d="M1578.87 97.99H1593.47M1586.17 90.69V105.29M1581.01 92.82L1591.33 103.15M1581.01 103.15L1591.33 92.82" stroke="#0000ff" stroke-width="1.2" fill="none"/><path d="M1583.28 93.16H1597.88M1590.58 85.86V100.46M1585.42 88L1595.74 98.32M1585.42 98.32L1595.74 88" stroke="#0000ff" stroke-width="1.2" fill="none"/><path d="M1587.69 91.7H1602.29M1594.99 84.4V99M1589.83 86.54L1600.15 96.86M1589.83 96.86L1600.15 86.54" stroke="#0000ff" stroke-width="1.2" fill="none"/><path d="M1592.1 91.82H1606.7M1599.4 84.52V99.12M1594.24 86.65L1604.56 96.98M1594.24 96.98L1604.56 86.65" stroke="#0000ff" stroke-width="1.2" fill="none"/><path d="M1596.51 92H1611.11M1603.81 84.7V99.3M1598.65 86.84L1608.98 97.16M1598.65 97.16L1608.98 86.84" stroke="#0000ff" stroke-width="1.2" fill="none"/><path d="M1600.92 92H1615.52M1608.22 84.7V99.3M1603.06 86.84L1613.39 97.16M1603.06 97.16L1613.39 86.84" stroke="#0000ff" stroke-width="1.2" fill="none"/><path d="M1605.34 92.14H1619.94M1612.64 84.84V99.44M1607.47 86.98L1617.8 97.3M1607.47 97.3L1617.8 86.98" stroke="#0000ff" stroke-width="1.2" fill="none"/><path d="M1609.75 94.03H1624.35M1617.05 86.73V101.33M1611.88 88.87L1622.21 99.2M1611.88 99.2L1622.21 88.87" stroke="#0000ff" stroke-width="1.2" fill="none"/><path d="M1614.16 99.4H1628.76M1621.46 92.1V106.7M1616.3 94.24L1626.62 104.56M1616.3 104.56L1626.62 94.24" stroke="#0000ff" stroke-width="1.2" fill="none"/><path d="M1618.57 106H1633.17M1625.87 98.7V113.3M1620.71 100.84L1631.03 111.16M1620.71 111.16L1631.03 100.84" stroke="#0000ff" stroke-width="1.2" fill="none"/><path d="M1622.98 112H1637.58M1630.28 104.7V119.3M1625.12 106.84L1635.44 117.16M1625.12 117.16L1635.44 106.84" stroke="#0000ff" stroke-width="1.2" fill="none"/><path d="M1627.39 118H1641.99M1634.69 110.7V125.3M1629.53 112.84L1639.85 123.16M1629.53 123.16L1639.85 112.84" stroke="#0000ff" stroke-width="1.2" fill="none"/><path d="M1631.8 126H1646.4M1639.1 118.7V133.3M1633.94 120.84L1644.26 131.16M1633.94 131.16L1644.26 120.84" stroke="#0000ff" stroke-width="1.2" fill="none"/><path d="M1636.21 147.7H1650.81M1643.51 140.4V155M1638.35 142.54L1648.67 152.86M1638.35 152.86L1648.67 142.54" stroke="#0000ff" stroke-width="1.2" fill="none"/><path d="M1640.62 193.6H1655.22M1647.92 186.3V200.9M1642.76 188.44L1653.09 198.77M1642.76 198.77L1653.09 188.44" stroke="#0000ff" stroke-width="1.2" fill="none"/><path d="M1645.03 253.6H1659.63M1652.33 246.3V260.9M1647.17 248.44L1657.5 258.77M1647.17 258.77L1657.5 248.44" stroke="#0000ff" stroke-width="1.2" fill="none"/><path d="M1649.45 313.4H1664.05M1656.75 306.1V320.7M1651.58 308.24L1661.91 318.56M1651.58 318.56L1661.91 308.24" stroke="#0000ff" stroke-width="1.2" fill="none"/><path d="M1653.86 357.9H1668.46M1661.16 350.6V365.2M1655.99 352.74L1666.32 363.06M1655.99 363.06L1666.32 352.74" stroke="#0000ff" stroke-width="1.2" fill="none"/><path d="M1658.27 374H1672.87M1665.57 366.7V381.3M1660.41 368.84L1670.73 379.16M1660.41 379.16L1670.73 368.84" stroke="#0000ff" stroke-width="1.2" fill="none"/><path d="M1662.68 374H1677.28M1669.98 366.7V381.3M1664.82 368.84L1675.14 379.16M1664.82 379.16L1675.14 368.84" stroke="#0000ff" stroke-width="1.2" fill="none"/><path d="M1667.09 374H1681.69M1674.39 366.7V381.3M1669.23 368.84L1679.55 379.16M1669.23 379.16L1679.55 368.84" stroke="#0000ff" stroke-width="1.2" fill="none"/><path d="M1671.5 374H1686.1M1678.8 366.7V381.3M1673.64 368.84L1683.96 379.16M1673.64 379.16L1683.96 368.84" stroke="#0000ff" stroke-width="1.2" fill="none"/></g>
<g><path d="M1361.21 374 L1365.62 397 L1370.03 333.1 L1374.44 244.1 L1378.85 160.1 L1383.27 108.6 L1387.68 87.2 L1392.09 80.4 L1396.5 79 L1400.91 78 L1405.32 77 L1409.73 76.5 L1414.14 77.4 L1418.55 80.4 L1422.96 83.3 L1427.38 84.2 L1431.79 83.7 L1436.2 82.7 L1440.61 81.9 L1445.02 81.3 L1449.43 80.7 L1453.84 79 L1458.25 77.8 L1462.66 77.4 L1467.07 77.41 L1471.48 77.45 L1475.9 77.53 L1480.31 77.64 L1484.72 77.8 L1489.13 79 L1493.54 82.9 L1497.95 88.1 L1502.36 91.5 L1506.77 88.1 L1511.18 81.65 L1515.59 79 L1520.01 77.8 L1524.42 77.8 L1528.83 77.8 L1533.24 77.8 L1537.65 77.8 L1542.06 77.8 L1546.47 77.8 L1550.88 77.8 L1555.29 77.8 L1559.7 80.4 L1564.12 84.8 L1568.53 90.7 L1572.94 95 L1577.35 91.1 L1581.76 85.2 L1586.17 79.4 L1590.58 77.8 L1594.99 77.7 L1599.4 77.64 L1603.81 77.62 L1608.22 77.6 L1612.64 77.59 L1617.05 77.56 L1621.46 77.5 L1625.87 77.4 L1630.28 73.9 L1634.69 79 L1639.1 98.9 L1643.51 121.3 L1647.92 137.4 L1652.33 170.2 L1656.75 237.3 L1661.16 309.2 L1665.57 352.2 L1669.98 369.7 L1674.39 373.6 L1678.8 374" fill="none" stroke="#ff0000" stroke-width="1.4" clip-path="url(#clipd)"/><circle cx="1361.21" cy="374" r="2.35" fill="#ff0000"/><circle cx="1370.03" cy="333.1" r="2.35" fill="#ff0000"/><circle cx="1374.44" cy="244.1" r="2.35" fill="#ff0000"/><circle cx="1378.85" cy="160.1" r="2.35" fill="#ff0000"/><circle cx="1383.27" cy="108.6" r="2.35" fill="#ff0000"/><circle cx="1387.68" cy="87.2" r="2.35" fill="#ff0000"/><circle cx="1392.09" cy="80.4" r="2.35" fill="#ff0000"/><circle cx="1396.5" cy="79" r="2.35" fill="#ff0000"/><circle cx="1400.91" cy="78" r="2.35" fill="#ff0000"/><circle cx="1405.32" cy="77" r="2.35" fill="#ff0000"/><circle cx="1409.73" cy="76.5" r="2.35" fill="#ff0000"/><circle cx="1414.14" cy="77.4" r="2.35" fill="#ff0000"/><circle cx="1418.55" cy="80.4" r="2.35" fill="#ff0000"/><circle cx="1422.96" cy="83.3" r="2.35" fill="#ff0000"/><circle cx="1427.38" cy="84.2" r="2.35" fill="#ff0000"/><circle cx="1431.79" cy="83.7" r="2.35" fill="#ff0000"/><circle cx="1436.2" cy="82.7" r="2.35" fill="#ff0000"/><circle cx="1440.61" cy="81.9" r="2.35" fill="#ff0000"/><circle cx="1445.02" cy="81.3" r="2.35" fill="#ff0000"/><circle cx="1449.43" cy="80.7" r="2.35" fill="#ff0000"/><circle cx="1453.84" cy="79" r="2.35" fill="#ff0000"/><circle cx="1458.25" cy="77.8" r="2.35" fill="#ff0000"/><circle cx="1462.66" cy="77.4" r="2.35" fill="#ff0000"/><circle cx="1467.07" cy="77.41" r="2.35" fill="#ff0000"/><circle cx="1471.48" cy="77.45" r="2.35" fill="#ff0000"/><circle cx="1475.9" cy="77.53" r="2.35" fill="#ff0000"/><circle cx="1480.31" cy="77.64" r="2.35" fill="#ff0000"/><circle cx="1484.72" cy="77.8" r="2.35" fill="#ff0000"/><circle cx="1489.13" cy="79" r="2.35" fill="#ff0000"/><circle cx="1493.54" cy="82.9" r="2.35" fill="#ff0000"/><circle cx="1497.95" cy="88.1" r="2.35" fill="#ff0000"/><circle cx="1502.36" cy="91.5" r="2.35" fill="#ff0000"/><circle cx="1506.77" cy="88.1" r="2.35" fill="#ff0000"/><circle cx="1511.18" cy="81.65" r="2.35" fill="#ff0000"/><circle cx="1515.59" cy="79" r="2.35" fill="#ff0000"/><circle cx="1520.01" cy="77.8" r="2.35" fill="#ff0000"/><circle cx="1524.42" cy="77.8" r="2.35" fill="#ff0000"/><circle cx="1528.83" cy="77.8" r="2.35" fill="#ff0000"/><circle cx="1533.24" cy="77.8" r="2.35" fill="#ff0000"/><circle cx="1537.65" cy="77.8" r="2.35" fill="#ff0000"/><circle cx="1542.06" cy="77.8" r="2.35" fill="#ff0000"/><circle cx="1546.47" cy="77.8" r="2.35" fill="#ff0000"/><circle cx="1550.88" cy="77.8" r="2.35" fill="#ff0000"/><circle cx="1555.29" cy="77.8" r="2.35" fill="#ff0000"/><circle cx="1559.7" cy="80.4" r="2.35" fill="#ff0000"/><circle cx="1564.12" cy="84.8" r="2.35" fill="#ff0000"/><circle cx="1568.53" cy="90.7" r="2.35" fill="#ff0000"/><circle cx="1572.94" cy="95" r="2.35" fill="#ff0000"/><circle cx="1577.35" cy="91.1" r="2.35" fill="#ff0000"/><circle cx="1581.76" cy="85.2" r="2.35" fill="#ff0000"/><circle cx="1586.17" cy="79.4" r="2.35" fill="#ff0000"/><circle cx="1590.58" cy="77.8" r="2.35" fill="#ff0000"/><circle cx="1594.99" cy="77.7" r="2.35" fill="#ff0000"/><circle cx="1599.4" cy="77.64" r="2.35" fill="#ff0000"/><circle cx="1603.81" cy="77.62" r="2.35" fill="#ff0000"/><circle cx="1608.22" cy="77.6" r="2.35" fill="#ff0000"/><circle cx="1612.64" cy="77.59" r="2.35" fill="#ff0000"/><circle cx="1617.05" cy="77.56" r="2.35" fill="#ff0000"/><circle cx="1621.46" cy="77.5" r="2.35" fill="#ff0000"/><circle cx="1625.87" cy="77.4" r="2.35" fill="#ff0000"/><circle cx="1630.28" cy="73.9" r="2.35" fill="#ff0000"/><circle cx="1634.69" cy="79" r="2.35" fill="#ff0000"/><circle cx="1639.1" cy="98.9" r="2.35" fill="#ff0000"/><circle cx="1643.51" cy="121.3" r="2.35" fill="#ff0000"/><circle cx="1647.92" cy="137.4" r="2.35" fill="#ff0000"/><circle cx="1652.33" cy="170.2" r="2.35" fill="#ff0000"/><circle cx="1656.75" cy="237.3" r="2.35" fill="#ff0000"/><circle cx="1661.16" cy="309.2" r="2.35" fill="#ff0000"/><circle cx="1665.57" cy="352.2" r="2.35" fill="#ff0000"/><circle cx="1669.98" cy="369.7" r="2.35" fill="#ff0000"/><circle cx="1674.39" cy="373.6" r="2.35" fill="#ff0000"/><circle cx="1678.8" cy="374" r="2.35" fill="#ff0000"/></g>
<g><path d="M1361.21 373.6 L1365.62 349.1 L1370.03 276.2 L1374.44 186.8 L1378.85 115.4 L1383.27 84.2 L1387.68 76.5 L1392.09 73.9 L1396.5 72.2 L1400.91 71.2 L1405.32 71.2 L1409.73 71.2 L1414.14 71.6 L1418.55 72.6 L1422.96 73.5 L1427.38 73.9 L1431.79 73.5 L1436.2 73.1 L1440.61 72.9 L1445.02 72.6 L1449.43 72.2 L1453.84 72 L1458.25 71.6 L1462.66 71.6 L1467.07 71.6 L1471.48 71.6 L1475.9 71.6 L1480.31 72 L1484.72 72.2 L1489.13 72.6 L1493.54 73.1 L1497.95 74.5 L1502.36 75.9 L1506.77 74.9 L1511.18 72.74 L1515.59 72 L1520.01 71.6 L1524.42 71.6 L1528.83 71.6 L1533.24 71.6 L1537.65 71.6 L1542.06 71.6 L1546.47 71.6 L1550.88 71.6 L1555.29 71.6 L1559.7 72.6 L1564.12 73.9 L1568.53 75.9 L1572.94 76.5 L1577.35 74.9 L1581.76 73.1 L1586.17 72 L1590.58 71.6 L1594.99 71.51 L1599.4 71.46 L1603.81 71.43 L1608.22 71.41 L1612.64 71.4 L1617.05 71.36 L1621.46 71.3 L1625.87 71.2 L1630.28 70 L1634.69 71.6 L1639.1 80.9 L1643.51 89.1 L1647.92 95 L1652.33 109.6 L1656.75 147 L1661.16 207.2 L1665.57 282.9 L1669.98 353.6 L1674.39 372 L1678.8 373.6" fill="none" stroke="#000000" stroke-width="1.4" stroke-dasharray="9.2 3.6 2 3.6" clip-path="url(#clipd)"/><circle cx="1361.21" cy="373.6" r="2.35" fill="#000000"/><circle cx="1365.62" cy="349.1" r="2.35" fill="#000000"/><circle cx="1370.03" cy="276.2" r="2.35" fill="#000000"/><circle cx="1374.44" cy="186.8" r="2.35" fill="#000000"/><circle cx="1378.85" cy="115.4" r="2.35" fill="#000000"/><circle cx="1383.27" cy="84.2" r="2.35" fill="#000000"/><circle cx="1387.68" cy="76.5" r="2.35" fill="#000000"/><circle cx="1392.09" cy="73.9" r="2.35" fill="#000000"/><circle cx="1396.5" cy="72.2" r="2.35" fill="#000000"/><circle cx="1400.91" cy="71.2" r="2.35" fill="#000000"/><circle cx="1405.32" cy="71.2" r="2.35" fill="#000000"/><circle cx="1409.73" cy="71.2" r="2.35" fill="#000000"/><circle cx="1414.14" cy="71.6" r="2.35" fill="#000000"/><circle cx="1418.55" cy="72.6" r="2.35" fill="#000000"/><circle cx="1422.96" cy="73.5" r="2.35" fill="#000000"/><circle cx="1427.38" cy="73.9" r="2.35" fill="#000000"/><circle cx="1431.79" cy="73.5" r="2.35" fill="#000000"/><circle cx="1436.2" cy="73.1" r="2.35" fill="#000000"/><circle cx="1440.61" cy="72.9" r="2.35" fill="#000000"/><circle cx="1445.02" cy="72.6" r="2.35" fill="#000000"/><circle cx="1449.43" cy="72.2" r="2.35" fill="#000000"/><circle cx="1453.84" cy="72" r="2.35" fill="#000000"/><circle cx="1458.25" cy="71.6" r="2.35" fill="#000000"/><circle cx="1462.66" cy="71.6" r="2.35" fill="#000000"/><circle cx="1467.07" cy="71.6" r="2.35" fill="#000000"/><circle cx="1471.48" cy="71.6" r="2.35" fill="#000000"/><circle cx="1475.9" cy="71.6" r="2.35" fill="#000000"/><circle cx="1480.31" cy="72" r="2.35" fill="#000000"/><circle cx="1484.72" cy="72.2" r="2.35" fill="#000000"/><circle cx="1489.13" cy="72.6" r="2.35" fill="#000000"/><circle cx="1493.54" cy="73.1" r="2.35" fill="#000000"/><circle cx="1497.95" cy="74.5" r="2.35" fill="#000000"/><circle cx="1502.36" cy="75.9" r="2.35" fill="#000000"/><circle cx="1506.77" cy="74.9" r="2.35" fill="#000000"/><circle cx="1511.18" cy="72.74" r="2.35" fill="#000000"/><circle cx="1515.59" cy="72" r="2.35" fill="#000000"/><circle cx="1520.01" cy="71.6" r="2.35" fill="#000000"/><circle cx="1524.42" cy="71.6" r="2.35" fill="#000000"/><circle cx="1528.83" cy="71.6" r="2.35" fill="#000000"/><circle cx="1533.24" cy="71.6" r="2.35" fill="#000000"/><circle cx="1537.65" cy="71.6" r="2.35" fill="#000000"/><circle cx="1542.06" cy="71.6" r="2.35" fill="#000000"/><circle cx="1546.47" cy="71.6" r="2.35" fill="#000000"/><circle cx="1550.88" cy="71.6" r="2.35" fill="#000000"/><circle cx="1555.29" cy="71.6" r="2.35" fill="#000000"/><circle cx="1559.7" cy="72.6" r="2.35" fill="#000000"/><circle cx="1564.12" cy="73.9" r="2.35" fill="#000000"/><circle cx="1568.53" cy="75.9" r="2.35" fill="#000000"/><circle cx="1572.94" cy="76.5" r="2.35" fill="#000000"/><circle cx="1577.35" cy="74.9" r="2.35" fill="#000000"/><circle cx="1581.76" cy="73.1" r="2.35" fill="#000000"/><circle cx="1586.17" cy="72" r="2.35" fill="#000000"/><circle cx="1590.58" cy="71.6" r="2.35" fill="#000000"/><circle cx="1594.99" cy="71.51" r="2.35" fill="#000000"/><circle cx="1599.4" cy="71.46" r="2.35" fill="#000000"/><circle cx="1603.81" cy="71.43" r="2.35" fill="#000000"/><circle cx="1608.22" cy="71.41" r="2.35" fill="#000000"/><circle cx="1612.64" cy="71.4" r="2.35" fill="#000000"/><circle cx="1617.05" cy="71.36" r="2.35" fill="#000000"/><circle cx="1621.46" cy="71.3" r="2.35" fill="#000000"/><circle cx="1625.87" cy="71.2" r="2.35" fill="#000000"/><circle cx="1630.28" cy="70" r="2.35" fill="#000000"/><circle cx="1634.69" cy="71.6" r="2.35" fill="#000000"/><circle cx="1639.1" cy="80.9" r="2.35" fill="#000000"/><circle cx="1643.51" cy="89.1" r="2.35" fill="#000000"/><circle cx="1647.92" cy="95" r="2.35" fill="#000000"/><circle cx="1652.33" cy="109.6" r="2.35" fill="#000000"/><circle cx="1656.75" cy="147" r="2.35" fill="#000000"/><circle cx="1661.16" cy="207.2" r="2.35" fill="#000000"/><circle cx="1665.57" cy="282.9" r="2.35" fill="#000000"/><circle cx="1669.98" cy="353.6" r="2.35" fill="#000000"/><circle cx="1674.39" cy="372" r="2.35" fill="#000000"/><circle cx="1678.8" cy="373.6" r="2.35" fill="#000000"/></g>
<rect x="1356.8" y="59.6" width="322" height="323.2" fill="none" stroke="#262626" stroke-width="1.2"/>
<path d="M1361.21 382.8V379.5M1361.21 59.6V62.9M1387.68 382.8V379.5M1387.68 59.6V62.9M1414.14 382.8V379.5M1414.14 59.6V62.9M1440.61 382.8V379.5M1440.61 59.6V62.9M1467.07 382.8V379.5M1467.07 59.6V62.9M1493.54 382.8V379.5M1493.54 59.6V62.9M1520.01 382.8V379.5M1520.01 59.6V62.9M1546.47 382.8V379.5M1546.47 59.6V62.9M1572.94 382.8V379.5M1572.94 59.6V62.9M1599.4 382.8V379.5M1599.4 59.6V62.9M1625.87 382.8V379.5M1625.87 59.6V62.9M1652.33 382.8V379.5M1652.33 59.6V62.9M1678.8 382.8V379.5M1678.8 59.6V62.9M1356.8 374H1360.1M1678.8 374H1675.5M1356.8 323.5H1360.1M1678.8 323.5H1675.5M1356.8 272.99H1360.1M1678.8 272.99H1675.5M1356.8 222.49H1360.1M1678.8 222.49H1675.5M1356.8 171.98H1360.1M1678.8 171.98H1675.5M1356.8 121.48H1360.1M1678.8 121.48H1675.5M1356.8 70.97H1360.1M1678.8 70.97H1675.5" stroke="#262626" stroke-width="1.2" fill="none"/>
<text transform="translate(1361.21 411) scale(0.975 1)" class="tl" text-anchor="middle">1</text>
<text transform="translate(1387.68 411) scale(0.975 1)" class="tl" text-anchor="middle">4</text>
<text transform="translate(1414.14 411) scale(0.975 1)" class="tl" text-anchor="middle">7</text>
<text transform="translate(1440.61 411) scale(0.975 1)" class="tl" text-anchor="middle">10</text>
<text transform="translate(1467.07 411) scale(0.975 1)" class="tl" text-anchor="middle">13</text>
<text transform="translate(1493.54 411) scale(0.975 1)" class="tl" text-anchor="middle">16</text>
<text transform="translate(1520.01 411) scale(0.975 1)" class="tl" text-anchor="middle">19</text>
<text transform="translate(1546.47 411) scale(0.975 1)" class="tl" text-anchor="middle">22</text>
<text transform="translate(1572.94 411) scale(0.975 1)" class="tl" text-anchor="middle">25</text>
<text transform="translate(1599.4 411) scale(0.975 1)" class="tl" text-anchor="middle">28</text>
<text transform="translate(1625.87 411) scale(0.975 1)" class="tl" text-anchor="middle">31</text>
<text transform="translate(1652.33 411) scale(0.975 1)" class="tl" text-anchor="middle">34</text>
<text transform="translate(1678.8 411) scale(0.975 1)" class="tl" text-anchor="middle">37</text>
<text transform="translate(1349.1 382.7) scale(0.975 1)" class="tl" text-anchor="end">2.47</text>
<text transform="translate(1349.1 332.2) scale(0.975 1)" class="tl" text-anchor="end">2.6</text>
<text transform="translate(1349.1 281.69) scale(0.975 1)" class="tl" text-anchor="end">2.73</text>
<text transform="translate(1349.1 231.19) scale(0.975 1)" class="tl" text-anchor="end">2.86</text>
<text transform="translate(1349.1 180.68) scale(0.975 1)" class="tl" text-anchor="end">2.99</text>
<text transform="translate(1349.1 130.18) scale(0.975 1)" class="tl" text-anchor="end">3.12</text>
<text transform="translate(1349.1 79.67) scale(0.975 1)" class="tl" text-anchor="end">3.25</text>
<text x="1517.8" y="442" class="lb" text-anchor="middle">x(grid)</text>
<text x="1517.8" y="475" class="lb" text-anchor="middle">(d)</text>
<text transform="translate(1296.7 221.4) rotate(-90)" class="lb" style="font-size:23px" text-anchor="middle">er(z)</text>
<rect x="143.7" y="3.5" width="1399.8" height="29.8" fill="#fff" stroke="#262626" stroke-width="1.2"/>
<path d="M150.4 18.4H221.4" stroke="#ff0000" stroke-width="1.4" fill="none"/>
<text transform="translate(226.5 25.6) scale(0.965 1)" class="lg">U=0V</text>
<path d="M285.5 18.4H352.3" stroke="#00ff00" stroke-width="1.4" fill="none" stroke-dasharray="11.5 6.8"/>
<text transform="translate(361.6 25.6) scale(0.965 1)" class="lg">U=3V</text>
<path d="M420.6 18.4H490.9" stroke="#0000ff" stroke-width="1.4" fill="none" stroke-dasharray="9.2 3.6 2 3.6"/>
<text transform="translate(496.7 25.6) scale(0.965 1)" class="lg">U=5V</text>
<path d="M555.7 18.4H626.7" stroke="#ff0000" stroke-width="1.4" fill="none" stroke-dasharray="1.4 3.15"/>
<text transform="translate(631.9 25.6) scale(0.965 1)" class="lg">U=6V</text>
<path d="M689.7 18.4H762.3" stroke="#00ff00" stroke-width="1.4" fill="none"/>
<circle cx="726" cy="18.4" r="2.35" fill="#00ff00"/>
<text transform="translate(767 25.6) scale(0.965 1)" class="lg">U=7V</text>
<path d="M825.2 18.4H895.8" stroke="#ff00ff" stroke-width="1.4" fill="none" stroke-dasharray="9.2 3.6 2 3.6"/>
<circle cx="860.5" cy="18.4" r="2.35" fill="#ff00ff"/>
<text transform="translate(902.5 25.6) scale(0.965 1)" class="lg">U=8V</text>
<path d="M960 18.4H1031" stroke="#00ff00" stroke-width="1.4" fill="none" stroke-dasharray="1.4 3.15"/>
<circle cx="995.5" cy="18.4" r="2.35" fill="#00ff00"/>
<text transform="translate(1037.7 25.6) scale(0.965 1)" class="lg">U=10V</text>
<path d="M1106.9 18.4H1179" stroke="#0000ff" stroke-width="1.4" fill="none"/>
<path d="M1135.65 18.4H1150.25M1142.95 11.1V25.7M1137.79 13.24L1148.11 23.56M1137.79 23.56L1148.11 13.24" stroke="#0000ff" stroke-width="1.2" fill="none"/>
<text transform="translate(1184.3 25.6) scale(0.965 1)" class="lg">U=12V</text>
<path d="M1253.7 18.4H1325.8" stroke="#ff0000" stroke-width="1.4" fill="none"/>
<circle cx="1289.75" cy="18.4" r="2.35" fill="#ff0000"/>
<text transform="translate(1331.4 25.6) scale(0.965 1)" class="lg">U=15V</text>
<path d="M1400.2 18.4H1470.3" stroke="#000000" stroke-width="1.4" fill="none" stroke-dasharray="9.2 3.6 2 3.6"/>
<circle cx="1435.25" cy="18.4" r="2.35" fill="#000000"/>
<text transform="translate(1477.8 25.6) scale(0.965 1)" class="lg">U=20V</text>
</svg>
</body></html>
